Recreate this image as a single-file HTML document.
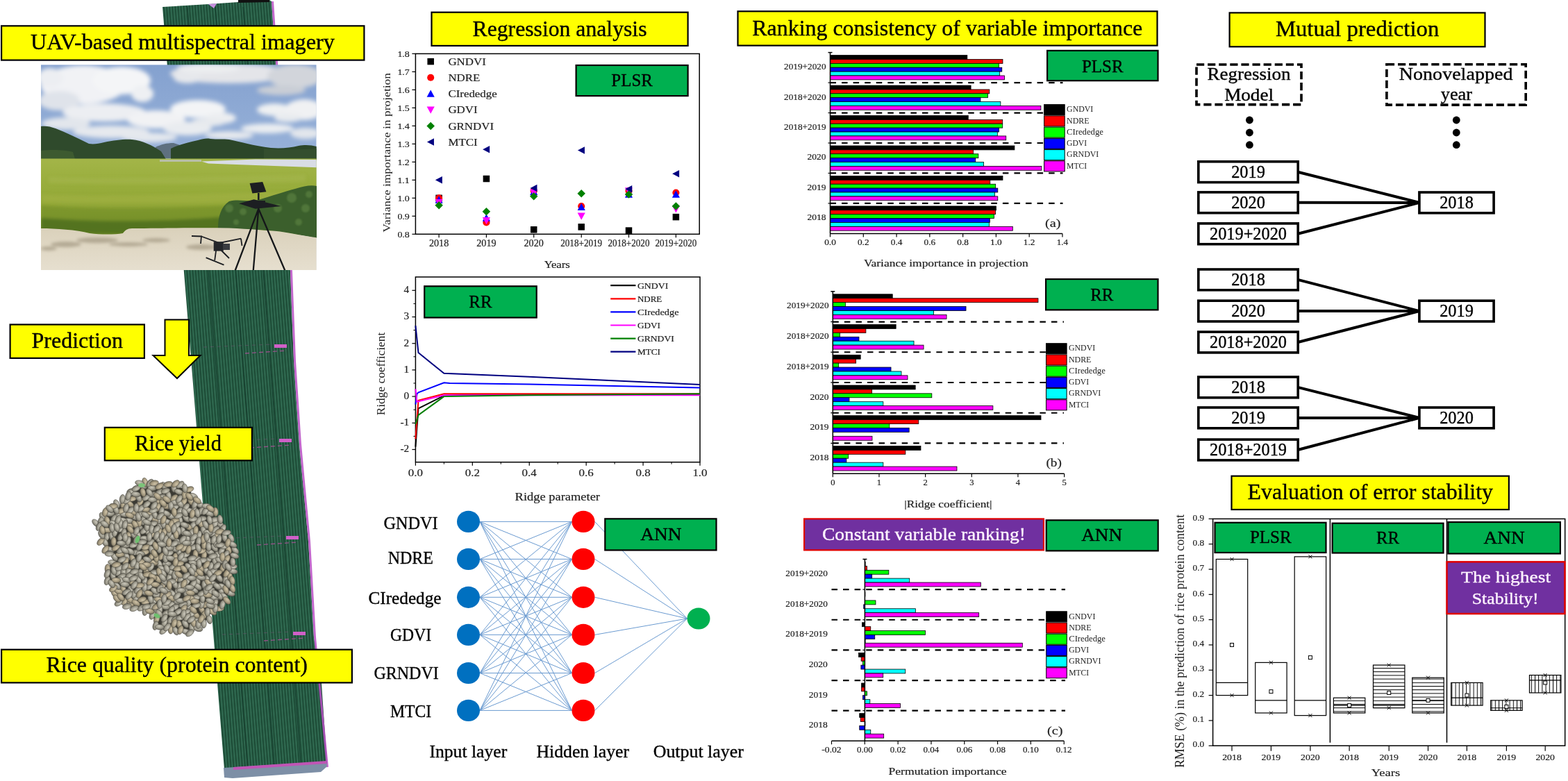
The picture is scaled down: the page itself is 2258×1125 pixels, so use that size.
<!DOCTYPE html><html><head><meta charset="utf-8"><title>Graphical abstract</title><style>html,body{margin:0;padding:0;background:#fff;overflow:hidden;width:2258px;height:1125px;}svg{display:block;}</style></head><body><svg width="2258" height="1125" viewBox="0 0 2258 1125" font-family="'Liberation Serif', serif">
<rect width="2258" height="1125" fill="#fff"/>
<defs><pattern id="rows" width="4.1" height="8" patternUnits="userSpaceOnUse" patternTransform="rotate(-4.4)"><rect width="4.1" height="8" fill="#265e45"/><rect width="1.4" height="8" fill="#1c4834"/><rect x="2.3" width="0.9" height="8" fill="#37735a"/></pattern></defs>
<polygon points="234,10 300,6 343,3 343,0 388,0 391,2 397,90 418,391 423,520 431,640 444,780 452,918 463,985 471,1100 323,1108" fill="url(#rows)"/>
<g stroke="#143a2b" stroke-width="1.2" opacity="0.8">
<line x1="270" y1="10" x2="357" y2="1112"/>
<line x1="310" y1="10" x2="396" y2="1112"/>
<line x1="350" y1="10" x2="434" y2="1112"/>
</g>
<polygon points="343,0 388,0 388,3 343,4" fill="#111"/>
<polygon points="300,6 312,5 308,12" fill="#c890e0"/>
<polyline points="391,2 397,90 418,391 423,520 431,640 444,780 452,918 470,1105" fill="none" stroke="#b84cc4" stroke-width="3" opacity="0.85" transform="translate(1.5,0)"/>
<line x1="353" y1="509" x2="413" y2="505" stroke="#b0509a" stroke-width="1.3" stroke-dasharray="6 4" opacity="0.8"/>
<line x1="293" y1="500" x2="393" y2="496" stroke="#8a5080" stroke-width="0.8" stroke-dasharray="5 5" opacity="0.5"/>
<rect x="395" y="496" width="18" height="5" fill="#d060c8"/>
<line x1="360" y1="645" x2="420" y2="641" stroke="#b0509a" stroke-width="1.3" stroke-dasharray="6 4" opacity="0.8"/>
<line x1="300" y1="636" x2="400" y2="632" stroke="#8a5080" stroke-width="0.8" stroke-dasharray="5 5" opacity="0.5"/>
<rect x="402" y="632" width="18" height="5" fill="#d060c8"/>
<line x1="370" y1="785" x2="430" y2="781" stroke="#b0509a" stroke-width="1.3" stroke-dasharray="6 4" opacity="0.8"/>
<line x1="310" y1="776" x2="410" y2="772" stroke="#8a5080" stroke-width="0.8" stroke-dasharray="5 5" opacity="0.5"/>
<rect x="412" y="772" width="18" height="5" fill="#d060c8"/>
<line x1="380" y1="923" x2="440" y2="919" stroke="#b0509a" stroke-width="1.3" stroke-dasharray="6 4" opacity="0.8"/>
<line x1="320" y1="914" x2="420" y2="910" stroke="#8a5080" stroke-width="0.8" stroke-dasharray="5 5" opacity="0.5"/>
<rect x="422" y="910" width="18" height="5" fill="#d060c8"/>
<path d="M322,1106 L470,1097 L471,1104 L462,1112 L335,1121 L323,1120 Z" fill="#7d8fa6"/>
<path d="M336,1105 L470,1096 L470,1100 L336,1109 Z" fill="#c055b5"/>
<defs><linearGradient id="sky" x1="0" y1="0" x2="0" y2="1"><stop offset="0" stop-color="#84a1cf"/><stop offset="0.45" stop-color="#98b2d9"/><stop offset="0.8" stop-color="#c0cee4"/><stop offset="1" stop-color="#d4dce9"/></linearGradient><linearGradient id="field" x1="0" y1="0" x2="0" y2="1"><stop offset="0" stop-color="#a3b548"/><stop offset="0.35" stop-color="#98ad3c"/><stop offset="0.7" stop-color="#8ea434"/><stop offset="1" stop-color="#6e8a26"/></linearGradient><linearGradient id="sand" x1="0" y1="0" x2="0" y2="1"><stop offset="0" stop-color="#dad1bb"/><stop offset="1" stop-color="#e6dfcf"/></linearGradient><filter id="blur3" x="-20%" y="-50%" width="140%" height="200%"><feGaussianBlur stdDeviation="3"/></filter><filter id="blur2" x="-20%" y="-50%" width="140%" height="200%"><feGaussianBlur stdDeviation="2"/></filter><filter id="blur1"><feGaussianBlur stdDeviation="0.8"/></filter><clipPath id="phclip"><rect x="59" y="93.2" width="396.7" height="295.8"/></clipPath></defs>
<g clip-path="url(#phclip)">
<rect x="59" y="93.2" width="396.7" height="295.8" fill="url(#sky)"/>
<g filter="url(#blur3)">
<ellipse cx="120" cy="122" rx="62" ry="28" fill="#f1f2f5"/>
<ellipse cx="72" cy="112" rx="18" ry="14" fill="#eceef2"/>
<ellipse cx="175" cy="116" rx="42" ry="20" fill="#f4f5f7"/>
<ellipse cx="205" cy="135" rx="16" ry="12" fill="#eef0f3"/>
<ellipse cx="85" cy="145" rx="30" ry="14" fill="#dfe3ea"/>
<ellipse cx="150" cy="162" rx="60" ry="13" fill="#eceef2"/>
<ellipse cx="225" cy="172" rx="42" ry="13" fill="#f1f2f4"/>
<ellipse cx="270" cy="185" rx="35" ry="10" fill="#e9ecf0"/>
<ellipse cx="95" cy="178" rx="35" ry="9" fill="#e2e6ec"/>
<ellipse cx="160" cy="190" rx="55" ry="9" fill="#e6e9ee"/>
<ellipse cx="215" cy="198" rx="40" ry="7" fill="#e4e8ee"/>
<ellipse cx="330" cy="106" rx="85" ry="14" fill="#e4e5e9"/>
<ellipse cx="425" cy="110" rx="40" ry="17" fill="#d2d5db"/>
<ellipse cx="300" cy="98" rx="45" ry="7" fill="#eceef0"/>
<ellipse cx="405" cy="130" rx="35" ry="7" fill="#c9ced6"/>
<ellipse cx="270" cy="112" rx="20" ry="8" fill="#e6e8ec"/>
<ellipse cx="285" cy="157" rx="40" ry="13" fill="#f3f4f6"/>
<ellipse cx="318" cy="170" rx="22" ry="8" fill="#eceef1"/>
<ellipse cx="300" cy="176" rx="25" ry="6" fill="#e7eaee"/>
<ellipse cx="395" cy="158" rx="25" ry="9" fill="#eef0f2"/>
<ellipse cx="438" cy="158" rx="28" ry="15" fill="#f0f1f3"/>
<ellipse cx="415" cy="170" rx="20" ry="6" fill="#e8ebef"/>
<ellipse cx="385" cy="185" rx="38" ry="7" fill="#eaedf1"/>
<ellipse cx="440" cy="192" rx="22" ry="8" fill="#e2e6ec"/>
<ellipse cx="330" cy="195" rx="35" ry="6" fill="#e6e9ee"/>
</g>
<path d="M224,212 C232,208 240,206 250,206 L262,210 L262,228 L224,228 Z" fill="#5e7080"/>
<path d="M59,182 C66,181 72,182 80,185 C95,191 112,199 128,207 C135,208 142,207 150,205 C165,202 180,200 190,201 C205,202 220,210 232,218 L240,231 L59,231 Z" fill="#2f4a2c"/>
<path d="M246,214 C258,208 272,205 285,202 C292,200 297,199 303,200 C312,201 322,200 330,201 C345,204 365,210 390,213 C405,214 418,213 430,210 C440,208 448,209 456,211 L456,232 L246,232 Z" fill="#2c4629"/>
<path d="M380,214 C400,216 420,216 456,214 L456,232 L380,232 Z" fill="#37502f" opacity="0.8"/>
<path d="M59,217 C75,215 95,216 105,219 L108,229 L59,230 Z" fill="#3d5a30"/>
<rect x="59" y="228.5" width="397" height="110" fill="url(#field)"/>
<path d="M290,232.4 L368,229.5 L456,230 L456,241.3 L300,235.4 Z" fill="#d9dde5"/>
<path d="M230,230 L290,230 L290,233 L230,233 Z" fill="#b9bfa8"/>
<g filter="url(#blur2)">
<path d="M59,296 C120,300 200,302 330,296 L330,336 L59,333 Z" fill="#6f8c24" opacity="0.6"/>
<path d="M59,314 C120,318 200,322 330,312 L330,338 L59,336 Z" fill="#4a6a1c" opacity="0.75"/>
<path d="M70,255 C150,258 250,255 440,252 L440,262 C250,266 150,266 70,264 Z" fill="#b0bd58" opacity="0.3"/>
<path d="M60,280 C150,284 250,280 456,276 L456,290 C250,294 150,294 60,292 Z" fill="#a9b64a" opacity="0.4"/>
</g>
<path d="M314,329 C314,312 318,298 330,290 C345,286 360,292 372,288 C392,282 410,276 425,272 C438,268 448,266 456,268 L456,343 C440,340 425,337 405,334 C380,331 350,330 314,329 Z" fill="#3b5f2c"/>
<g filter="url(#blur1)" fill="#5a8040" opacity="0.7">
<circle cx="330" cy="300" r="6"/>
<circle cx="350" cy="305" r="5"/>
<circle cx="420" cy="285" r="7"/>
<circle cx="440" cy="300" r="6"/>
<circle cx="445" cy="280" r="5"/>
<circle cx="400" cy="300" r="6"/>
<circle cx="430" cy="320" r="5"/>
<circle cx="340" cy="320" r="4"/>
</g>
<path d="M59,329 C80,329 110,331 129,336 C145,338 165,338 177,336 C180,332 183,329 190,329 C250,328.5 290,328 330,328.5 C360,330 385,332 403,333.4 C425,337 440,340 456,342.3 L456,389 L59,389 Z" fill="url(#sand)"/>
<g filter="url(#blur2)" fill="#8a7f68" opacity="0.5">
<ellipse cx="95" cy="352" rx="22" ry="4"/><ellipse cx="140" cy="346" rx="30" ry="4"/><ellipse cx="185" cy="352" rx="28" ry="3"/>
<ellipse cx="225" cy="346" rx="20" ry="3"/><ellipse cx="290" cy="356" rx="22" ry="4"/><ellipse cx="70" cy="358" rx="12" ry="3"/>
</g>
<g fill="#1c1e22" stroke="none">
<polygon points="359.6,263.9 378.2,262.1 383.4,276.2 363.4,278.4"/>
<rect x="371" y="278" width="2.6" height="10"/>
<polygon points="344.1,293.3 365.6,287.3 404.9,297 367.8,300.7"/>
<rect x="362" y="289" width="20" height="6"/>
</g>
<g stroke="#15171a" stroke-width="2.3" fill="none" stroke-linecap="round">
<path d="M372.3,300.7 L338.9,389 M372.3,300.7 L364.8,389 M372.3,300.7 L410.1,389"/>
</g>
<g stroke="#1c1e22" fill="none" stroke-width="1.8">
<path d="M276,340 L291,340.5 M290,340.5 L316,350 L347,343.7 M347,343.7 L348.5,354 M290,340 L289,351"/>
<path d="M296.6,371.2 L322.5,381.6 M311.4,358.6 L309.2,374.9 M318,360 L330,372"/>
</g>
<rect x="307.7" y="348.2" width="14.1" height="13.4" fill="#24262a"/>
<rect x="321" y="351" width="10" height="9" fill="#3a3c40"/>
</g>
<defs><radialGradient id="grain" cx="0.45" cy="0.35" r="0.7"><stop offset="0" stop-color="#cbc8bb"/><stop offset="0.55" stop-color="#9c998b"/><stop offset="1" stop-color="#5c5a52"/></radialGradient><radialGradient id="grain2" cx="0.45" cy="0.35" r="0.7"><stop offset="0" stop-color="#cfc3a8"/><stop offset="0.55" stop-color="#a59a80"/><stop offset="1" stop-color="#655f50"/></radialGradient></defs>
<path d="M199.9,700.8 L216.2,698.3 L235.2,702.1 L248.4,700.8 L263.7,703.0 L273.8,707.0 L284.3,726.0 L297.0,731.5 L307.5,740.9 L316.0,755.6 L328.6,774.6 L337.1,787.3 L332.9,804.1 L332.9,823.1 L331.8,850.6 L322.3,865.4 L305.4,880.1 L294.9,897.0 L273.8,907.6 L263.2,907.6 L240.0,904.4 L227.3,901.3 L218.9,886.5 L206.2,875.9 L189.3,871.8 L174.5,865.4 L166.1,850.6 L155.5,831.6 L155.5,818.9 L164.0,804.1 L151.3,787.3 L142.9,764.0 L142.9,753.5 L155.5,740.9 L174.5,726.0 L189.3,713.4 Z" fill="#3b3a33"/>
<g>
<ellipse cx="201.9" cy="723.3" rx="6.6" ry="3.9" fill="url(#grain2)" stroke="#4a4840" stroke-width="0.5" transform="rotate(127 201.9 723.3)"/>
<ellipse cx="272.6" cy="705.0" rx="6.6" ry="3.9" fill="url(#grain2)" stroke="#4a4840" stroke-width="0.5" transform="rotate(161 272.6 705.0)"/>
<ellipse cx="247.8" cy="773.6" rx="6.6" ry="3.9" fill="url(#grain)" stroke="#4a4840" stroke-width="0.5" transform="rotate(26 247.8 773.6)"/>
<ellipse cx="223.7" cy="881.5" rx="6.6" ry="3.9" fill="url(#grain)" stroke="#4a4840" stroke-width="0.5" transform="rotate(127 223.7 881.5)"/>
<ellipse cx="158.7" cy="740.2" rx="6.6" ry="3.9" fill="url(#grain)" stroke="#4a4840" stroke-width="0.5" transform="rotate(0 158.7 740.2)"/>
<ellipse cx="267.5" cy="909.8" rx="6.6" ry="3.9" fill="url(#grain)" stroke="#4a4840" stroke-width="0.5" transform="rotate(19 267.5 909.8)"/>
<ellipse cx="256.7" cy="780.8" rx="6.6" ry="3.9" fill="url(#grain)" stroke="#4a4840" stroke-width="0.5" transform="rotate(31 256.7 780.8)"/>
<ellipse cx="317.4" cy="755.8" rx="6.6" ry="3.9" fill="url(#grain)" stroke="#4a4840" stroke-width="0.5" transform="rotate(40 317.4 755.8)"/>
<ellipse cx="171.0" cy="824.1" rx="6.6" ry="3.9" fill="url(#grain)" stroke="#4a4840" stroke-width="0.5" transform="rotate(134 171.0 824.1)"/>
<ellipse cx="270.0" cy="775.1" rx="6.6" ry="3.9" fill="url(#grain)" stroke="#4a4840" stroke-width="0.5" transform="rotate(72 270.0 775.1)"/>
<ellipse cx="250.3" cy="702.7" rx="6.6" ry="3.9" fill="url(#grain)" stroke="#4a4840" stroke-width="0.5" transform="rotate(83 250.3 702.7)"/>
<ellipse cx="279.0" cy="788.1" rx="6.6" ry="3.9" fill="url(#grain)" stroke="#4a4840" stroke-width="0.5" transform="rotate(160 279.0 788.1)"/>
<ellipse cx="199.9" cy="825.0" rx="6.6" ry="3.9" fill="url(#grain)" stroke="#4a4840" stroke-width="0.5" transform="rotate(134 199.9 825.0)"/>
<ellipse cx="229.9" cy="758.1" rx="6.6" ry="3.9" fill="url(#grain)" stroke="#4a4840" stroke-width="0.5" transform="rotate(79 229.9 758.1)"/>
<ellipse cx="303.6" cy="851.6" rx="6.6" ry="3.9" fill="url(#grain)" stroke="#4a4840" stroke-width="0.5" transform="rotate(141 303.6 851.6)"/>
<ellipse cx="184.7" cy="822.4" rx="6.6" ry="3.9" fill="url(#grain)" stroke="#4a4840" stroke-width="0.5" transform="rotate(119 184.7 822.4)"/>
<ellipse cx="245.4" cy="892.8" rx="6.6" ry="3.9" fill="url(#grain)" stroke="#4a4840" stroke-width="0.5" transform="rotate(122 245.4 892.8)"/>
<ellipse cx="289.6" cy="755.4" rx="6.6" ry="3.9" fill="url(#grain2)" stroke="#4a4840" stroke-width="0.5" transform="rotate(51 289.6 755.4)"/>
<ellipse cx="222.3" cy="865.2" rx="6.6" ry="3.9" fill="url(#grain)" stroke="#4a4840" stroke-width="0.5" transform="rotate(125 222.3 865.2)"/>
<ellipse cx="164.8" cy="802.4" rx="6.6" ry="3.9" fill="url(#grain)" stroke="#4a4840" stroke-width="0.5" transform="rotate(54 164.8 802.4)"/>
<ellipse cx="297.1" cy="822.1" rx="6.6" ry="3.9" fill="url(#grain)" stroke="#4a4840" stroke-width="0.5" transform="rotate(54 297.1 822.1)"/>
<ellipse cx="321.1" cy="761.4" rx="6.6" ry="3.9" fill="url(#grain)" stroke="#4a4840" stroke-width="0.5" transform="rotate(116 321.1 761.4)"/>
<ellipse cx="282.2" cy="827.1" rx="6.6" ry="3.9" fill="url(#grain2)" stroke="#4a4840" stroke-width="0.5" transform="rotate(5 282.2 827.1)"/>
<ellipse cx="257.3" cy="794.8" rx="6.6" ry="3.9" fill="url(#grain)" stroke="#4a4840" stroke-width="0.5" transform="rotate(64 257.3 794.8)"/>
<ellipse cx="234.4" cy="843.4" rx="6.6" ry="3.9" fill="url(#grain2)" stroke="#4a4840" stroke-width="0.5" transform="rotate(114 234.4 843.4)"/>
<ellipse cx="309.5" cy="754.6" rx="6.6" ry="3.9" fill="url(#grain)" stroke="#4a4840" stroke-width="0.5" transform="rotate(118 309.5 754.6)"/>
<ellipse cx="215.3" cy="844.5" rx="6.6" ry="3.9" fill="url(#grain)" stroke="#4a4840" stroke-width="0.5" transform="rotate(137 215.3 844.5)"/>
<ellipse cx="192.1" cy="785.2" rx="6.6" ry="3.9" fill="url(#grain)" stroke="#4a4840" stroke-width="0.5" transform="rotate(167 192.1 785.2)"/>
<ellipse cx="170.1" cy="742.3" rx="6.6" ry="3.9" fill="url(#grain)" stroke="#4a4840" stroke-width="0.5" transform="rotate(64 170.1 742.3)"/>
<ellipse cx="182.4" cy="801.5" rx="6.6" ry="3.9" fill="url(#grain)" stroke="#4a4840" stroke-width="0.5" transform="rotate(54 182.4 801.5)"/>
<ellipse cx="259.3" cy="749.5" rx="6.6" ry="3.9" fill="url(#grain)" stroke="#4a4840" stroke-width="0.5" transform="rotate(80 259.3 749.5)"/>
<ellipse cx="211.8" cy="820.5" rx="6.6" ry="3.9" fill="url(#grain2)" stroke="#4a4840" stroke-width="0.5" transform="rotate(133 211.8 820.5)"/>
<ellipse cx="243.3" cy="832.5" rx="6.6" ry="3.9" fill="url(#grain)" stroke="#4a4840" stroke-width="0.5" transform="rotate(104 243.3 832.5)"/>
<ellipse cx="216.8" cy="781.4" rx="6.6" ry="3.9" fill="url(#grain)" stroke="#4a4840" stroke-width="0.5" transform="rotate(144 216.8 781.4)"/>
<ellipse cx="154.4" cy="836.4" rx="6.6" ry="3.9" fill="url(#grain)" stroke="#4a4840" stroke-width="0.5" transform="rotate(110 154.4 836.4)"/>
<ellipse cx="177.1" cy="726.0" rx="6.6" ry="3.9" fill="url(#grain2)" stroke="#4a4840" stroke-width="0.5" transform="rotate(100 177.1 726.0)"/>
<ellipse cx="205.5" cy="700.3" rx="6.6" ry="3.9" fill="url(#grain)" stroke="#4a4840" stroke-width="0.5" transform="rotate(22 205.5 700.3)"/>
<ellipse cx="153.9" cy="773.1" rx="6.6" ry="3.9" fill="url(#grain)" stroke="#4a4840" stroke-width="0.5" transform="rotate(109 153.9 773.1)"/>
<ellipse cx="264.6" cy="722.8" rx="6.6" ry="3.9" fill="url(#grain2)" stroke="#4a4840" stroke-width="0.5" transform="rotate(126 264.6 722.8)"/>
<ellipse cx="186.5" cy="769.3" rx="6.6" ry="3.9" fill="url(#grain2)" stroke="#4a4840" stroke-width="0.5" transform="rotate(170 186.5 769.3)"/>
<ellipse cx="210.7" cy="716.7" rx="6.6" ry="3.9" fill="url(#grain)" stroke="#4a4840" stroke-width="0.5" transform="rotate(150 210.7 716.7)"/>
<ellipse cx="232.7" cy="801.2" rx="6.6" ry="3.9" fill="url(#grain2)" stroke="#4a4840" stroke-width="0.5" transform="rotate(129 232.7 801.2)"/>
<ellipse cx="206.0" cy="750.0" rx="6.6" ry="3.9" fill="url(#grain)" stroke="#4a4840" stroke-width="0.5" transform="rotate(95 206.0 750.0)"/>
<ellipse cx="246.1" cy="722.3" rx="6.6" ry="3.9" fill="url(#grain)" stroke="#4a4840" stroke-width="0.5" transform="rotate(68 246.1 722.3)"/>
<ellipse cx="318.5" cy="850.9" rx="6.6" ry="3.9" fill="url(#grain)" stroke="#4a4840" stroke-width="0.5" transform="rotate(73 318.5 850.9)"/>
<ellipse cx="247.0" cy="870.3" rx="6.6" ry="3.9" fill="url(#grain)" stroke="#4a4840" stroke-width="0.5" transform="rotate(146 247.0 870.3)"/>
<ellipse cx="203.2" cy="740.2" rx="6.6" ry="3.9" fill="url(#grain)" stroke="#4a4840" stroke-width="0.5" transform="rotate(175 203.2 740.2)"/>
<ellipse cx="316.2" cy="876.6" rx="6.6" ry="3.9" fill="url(#grain2)" stroke="#4a4840" stroke-width="0.5" transform="rotate(173 316.2 876.6)"/>
<ellipse cx="308.8" cy="861.1" rx="6.6" ry="3.9" fill="url(#grain)" stroke="#4a4840" stroke-width="0.5" transform="rotate(18 308.8 861.1)"/>
<ellipse cx="181.0" cy="809.1" rx="6.6" ry="3.9" fill="url(#grain2)" stroke="#4a4840" stroke-width="0.5" transform="rotate(113 181.0 809.1)"/>
<ellipse cx="208.8" cy="694.8" rx="6.6" ry="3.9" fill="url(#grain2)" stroke="#4a4840" stroke-width="0.5" transform="rotate(75 208.8 694.8)"/>
<ellipse cx="138.0" cy="753.4" rx="6.6" ry="3.9" fill="url(#grain)" stroke="#4a4840" stroke-width="0.5" transform="rotate(45 138.0 753.4)"/>
<ellipse cx="188.0" cy="850.1" rx="6.6" ry="3.9" fill="url(#grain)" stroke="#4a4840" stroke-width="0.5" transform="rotate(73 188.0 850.1)"/>
<ellipse cx="338.6" cy="792.7" rx="6.6" ry="3.9" fill="url(#grain)" stroke="#4a4840" stroke-width="0.5" transform="rotate(48 338.6 792.7)"/>
<ellipse cx="179.6" cy="741.1" rx="6.6" ry="3.9" fill="url(#grain)" stroke="#4a4840" stroke-width="0.5" transform="rotate(5 179.6 741.1)"/>
<ellipse cx="174.5" cy="735.8" rx="6.6" ry="3.9" fill="url(#grain2)" stroke="#4a4840" stroke-width="0.5" transform="rotate(157 174.5 735.8)"/>
<ellipse cx="266.8" cy="898.7" rx="6.6" ry="3.9" fill="url(#grain)" stroke="#4a4840" stroke-width="0.5" transform="rotate(55 266.8 898.7)"/>
<ellipse cx="313.5" cy="800.2" rx="6.6" ry="3.9" fill="url(#grain)" stroke="#4a4840" stroke-width="0.5" transform="rotate(73 313.5 800.2)"/>
<ellipse cx="273.0" cy="875.1" rx="6.6" ry="3.9" fill="url(#grain)" stroke="#4a4840" stroke-width="0.5" transform="rotate(43 273.0 875.1)"/>
<ellipse cx="294.0" cy="799.9" rx="6.6" ry="3.9" fill="url(#grain2)" stroke="#4a4840" stroke-width="0.5" transform="rotate(100 294.0 799.9)"/>
<ellipse cx="203.8" cy="875.4" rx="6.6" ry="3.9" fill="url(#grain)" stroke="#4a4840" stroke-width="0.5" transform="rotate(149 203.8 875.4)"/>
<ellipse cx="288.6" cy="727.8" rx="6.6" ry="3.9" fill="url(#grain)" stroke="#4a4840" stroke-width="0.5" transform="rotate(22 288.6 727.8)"/>
<ellipse cx="245.7" cy="906.5" rx="6.6" ry="3.9" fill="url(#grain2)" stroke="#4a4840" stroke-width="0.5" transform="rotate(89 245.7 906.5)"/>
<ellipse cx="225.7" cy="892.0" rx="6.6" ry="3.9" fill="url(#grain2)" stroke="#4a4840" stroke-width="0.5" transform="rotate(112 225.7 892.0)"/>
<ellipse cx="310.4" cy="737.4" rx="6.6" ry="3.9" fill="url(#grain2)" stroke="#4a4840" stroke-width="0.5" transform="rotate(85 310.4 737.4)"/>
<ellipse cx="186.4" cy="756.6" rx="6.6" ry="3.9" fill="url(#grain2)" stroke="#4a4840" stroke-width="0.5" transform="rotate(32 186.4 756.6)"/>
<ellipse cx="208.4" cy="795.2" rx="6.6" ry="3.9" fill="url(#grain2)" stroke="#4a4840" stroke-width="0.5" transform="rotate(171 208.4 795.2)"/>
<ellipse cx="258.0" cy="899.6" rx="6.6" ry="3.9" fill="url(#grain2)" stroke="#4a4840" stroke-width="0.5" transform="rotate(74 258.0 899.6)"/>
<ellipse cx="240.4" cy="812.4" rx="6.6" ry="3.9" fill="url(#grain)" stroke="#4a4840" stroke-width="0.5" transform="rotate(2 240.4 812.4)"/>
<ellipse cx="227.1" cy="730.8" rx="6.6" ry="3.9" fill="url(#grain2)" stroke="#4a4840" stroke-width="0.5" transform="rotate(111 227.1 730.8)"/>
<ellipse cx="288.6" cy="818.2" rx="6.6" ry="3.9" fill="url(#grain2)" stroke="#4a4840" stroke-width="0.5" transform="rotate(50 288.6 818.2)"/>
<ellipse cx="202.4" cy="809.3" rx="6.6" ry="3.9" fill="url(#grain2)" stroke="#4a4840" stroke-width="0.5" transform="rotate(164 202.4 809.3)"/>
<ellipse cx="154.9" cy="819.1" rx="6.6" ry="3.9" fill="url(#grain2)" stroke="#4a4840" stroke-width="0.5" transform="rotate(92 154.9 819.1)"/>
<ellipse cx="298.8" cy="806.8" rx="6.6" ry="3.9" fill="url(#grain)" stroke="#4a4840" stroke-width="0.5" transform="rotate(157 298.8 806.8)"/>
<ellipse cx="253.3" cy="865.8" rx="6.6" ry="3.9" fill="url(#grain)" stroke="#4a4840" stroke-width="0.5" transform="rotate(42 253.3 865.8)"/>
<ellipse cx="329.1" cy="791.7" rx="6.6" ry="3.9" fill="url(#grain2)" stroke="#4a4840" stroke-width="0.5" transform="rotate(66 329.1 791.7)"/>
<ellipse cx="264.3" cy="806.3" rx="6.6" ry="3.9" fill="url(#grain)" stroke="#4a4840" stroke-width="0.5" transform="rotate(1 264.3 806.3)"/>
<ellipse cx="242.6" cy="850.1" rx="6.6" ry="3.9" fill="url(#grain)" stroke="#4a4840" stroke-width="0.5" transform="rotate(32 242.6 850.1)"/>
<ellipse cx="229.7" cy="812.8" rx="6.6" ry="3.9" fill="url(#grain)" stroke="#4a4840" stroke-width="0.5" transform="rotate(67 229.7 812.8)"/>
<ellipse cx="235.3" cy="908.3" rx="6.6" ry="3.9" fill="url(#grain)" stroke="#4a4840" stroke-width="0.5" transform="rotate(137 235.3 908.3)"/>
<ellipse cx="283.0" cy="893.1" rx="6.6" ry="3.9" fill="url(#grain)" stroke="#4a4840" stroke-width="0.5" transform="rotate(124 283.0 893.1)"/>
<ellipse cx="252.9" cy="908.7" rx="6.6" ry="3.9" fill="url(#grain)" stroke="#4a4840" stroke-width="0.5" transform="rotate(63 252.9 908.7)"/>
<ellipse cx="158.3" cy="791.5" rx="6.6" ry="3.9" fill="url(#grain)" stroke="#4a4840" stroke-width="0.5" transform="rotate(26 158.3 791.5)"/>
<ellipse cx="147.7" cy="744.3" rx="6.6" ry="3.9" fill="url(#grain)" stroke="#4a4840" stroke-width="0.5" transform="rotate(63 147.7 744.3)"/>
<ellipse cx="165.4" cy="855.6" rx="6.6" ry="3.9" fill="url(#grain2)" stroke="#4a4840" stroke-width="0.5" transform="rotate(50 165.4 855.6)"/>
<ellipse cx="274.6" cy="721.5" rx="6.6" ry="3.9" fill="url(#grain2)" stroke="#4a4840" stroke-width="0.5" transform="rotate(68 274.6 721.5)"/>
<ellipse cx="218.0" cy="802.0" rx="6.6" ry="3.9" fill="url(#grain2)" stroke="#4a4840" stroke-width="0.5" transform="rotate(126 218.0 802.0)"/>
<ellipse cx="166.9" cy="789.0" rx="6.6" ry="3.9" fill="url(#grain2)" stroke="#4a4840" stroke-width="0.5" transform="rotate(149 166.9 789.0)"/>
<ellipse cx="243.4" cy="767.4" rx="6.6" ry="3.9" fill="url(#grain)" stroke="#4a4840" stroke-width="0.5" transform="rotate(92 243.4 767.4)"/>
<ellipse cx="174.3" cy="762.5" rx="6.6" ry="3.9" fill="url(#grain)" stroke="#4a4840" stroke-width="0.5" transform="rotate(171 174.3 762.5)"/>
<ellipse cx="251.7" cy="791.1" rx="6.6" ry="3.9" fill="url(#grain)" stroke="#4a4840" stroke-width="0.5" transform="rotate(19 251.7 791.1)"/>
<ellipse cx="154.6" cy="750.1" rx="6.6" ry="3.9" fill="url(#grain2)" stroke="#4a4840" stroke-width="0.5" transform="rotate(72 154.6 750.1)"/>
<ellipse cx="190.4" cy="718.3" rx="6.6" ry="3.9" fill="url(#grain2)" stroke="#4a4840" stroke-width="0.5" transform="rotate(168 190.4 718.3)"/>
<ellipse cx="308.9" cy="748.5" rx="6.6" ry="3.9" fill="url(#grain)" stroke="#4a4840" stroke-width="0.5" transform="rotate(168 308.9 748.5)"/>
<ellipse cx="255.2" cy="851.9" rx="6.6" ry="3.9" fill="url(#grain)" stroke="#4a4840" stroke-width="0.5" transform="rotate(99 255.2 851.9)"/>
<ellipse cx="230.0" cy="767.4" rx="6.6" ry="3.9" fill="url(#grain2)" stroke="#4a4840" stroke-width="0.5" transform="rotate(99 230.0 767.4)"/>
<ellipse cx="245.8" cy="743.8" rx="6.6" ry="3.9" fill="url(#grain)" stroke="#4a4840" stroke-width="0.5" transform="rotate(29 245.8 743.8)"/>
<ellipse cx="199.4" cy="759.4" rx="6.6" ry="3.9" fill="url(#grain)" stroke="#4a4840" stroke-width="0.5" transform="rotate(14 199.4 759.4)"/>
<ellipse cx="296.1" cy="755.9" rx="6.6" ry="3.9" fill="url(#grain)" stroke="#4a4840" stroke-width="0.5" transform="rotate(62 296.1 755.9)"/>
<ellipse cx="240.0" cy="729.6" rx="6.6" ry="3.9" fill="url(#grain2)" stroke="#4a4840" stroke-width="0.5" transform="rotate(5 240.0 729.6)"/>
<ellipse cx="172.9" cy="799.1" rx="6.6" ry="3.9" fill="url(#grain2)" stroke="#4a4840" stroke-width="0.5" transform="rotate(2 172.9 799.1)"/>
<ellipse cx="308.9" cy="789.1" rx="6.6" ry="3.9" fill="url(#grain)" stroke="#4a4840" stroke-width="0.5" transform="rotate(53 308.9 789.1)"/>
<ellipse cx="238.9" cy="883.3" rx="6.6" ry="3.9" fill="url(#grain)" stroke="#4a4840" stroke-width="0.5" transform="rotate(146 238.9 883.3)"/>
<ellipse cx="284.7" cy="836.8" rx="6.6" ry="3.9" fill="url(#grain)" stroke="#4a4840" stroke-width="0.5" transform="rotate(83 284.7 836.8)"/>
<ellipse cx="219.4" cy="769.3" rx="6.6" ry="3.9" fill="url(#grain2)" stroke="#4a4840" stroke-width="0.5" transform="rotate(134 219.4 769.3)"/>
<ellipse cx="187.2" cy="726.2" rx="6.6" ry="3.9" fill="url(#grain2)" stroke="#4a4840" stroke-width="0.5" transform="rotate(38 187.2 726.2)"/>
<ellipse cx="320.0" cy="844.9" rx="6.6" ry="3.9" fill="url(#grain)" stroke="#4a4840" stroke-width="0.5" transform="rotate(27 320.0 844.9)"/>
<ellipse cx="192.9" cy="744.7" rx="6.6" ry="3.9" fill="url(#grain)" stroke="#4a4840" stroke-width="0.5" transform="rotate(30 192.9 744.7)"/>
<ellipse cx="195.3" cy="795.5" rx="6.6" ry="3.9" fill="url(#grain)" stroke="#4a4840" stroke-width="0.5" transform="rotate(168 195.3 795.5)"/>
<ellipse cx="198.9" cy="771.4" rx="6.6" ry="3.9" fill="url(#grain)" stroke="#4a4840" stroke-width="0.5" transform="rotate(79 198.9 771.4)"/>
<ellipse cx="175.4" cy="806.1" rx="6.6" ry="3.9" fill="url(#grain)" stroke="#4a4840" stroke-width="0.5" transform="rotate(153 175.4 806.1)"/>
<ellipse cx="151.4" cy="781.5" rx="6.6" ry="3.9" fill="url(#grain)" stroke="#4a4840" stroke-width="0.5" transform="rotate(60 151.4 781.5)"/>
<ellipse cx="258.5" cy="811.8" rx="6.6" ry="3.9" fill="url(#grain2)" stroke="#4a4840" stroke-width="0.5" transform="rotate(169 258.5 811.8)"/>
<ellipse cx="294.1" cy="841.9" rx="6.6" ry="3.9" fill="url(#grain)" stroke="#4a4840" stroke-width="0.5" transform="rotate(90 294.1 841.9)"/>
<ellipse cx="324.7" cy="834.8" rx="6.6" ry="3.9" fill="url(#grain)" stroke="#4a4840" stroke-width="0.5" transform="rotate(106 324.7 834.8)"/>
<ellipse cx="290.5" cy="878.1" rx="6.6" ry="3.9" fill="url(#grain2)" stroke="#4a4840" stroke-width="0.5" transform="rotate(64 290.5 878.1)"/>
<ellipse cx="162.1" cy="810.6" rx="6.6" ry="3.9" fill="url(#grain)" stroke="#4a4840" stroke-width="0.5" transform="rotate(12 162.1 810.6)"/>
<ellipse cx="305.8" cy="881.4" rx="6.6" ry="3.9" fill="url(#grain2)" stroke="#4a4840" stroke-width="0.5" transform="rotate(32 305.8 881.4)"/>
<ellipse cx="279.5" cy="850.2" rx="6.6" ry="3.9" fill="url(#grain)" stroke="#4a4840" stroke-width="0.5" transform="rotate(28 279.5 850.2)"/>
<ellipse cx="160.7" cy="772.4" rx="6.6" ry="3.9" fill="url(#grain)" stroke="#4a4840" stroke-width="0.5" transform="rotate(74 160.7 772.4)"/>
<ellipse cx="252.6" cy="834.9" rx="6.6" ry="3.9" fill="url(#grain2)" stroke="#4a4840" stroke-width="0.5" transform="rotate(124 252.6 834.9)"/>
<ellipse cx="267.3" cy="847.3" rx="6.6" ry="3.9" fill="url(#grain)" stroke="#4a4840" stroke-width="0.5" transform="rotate(152 267.3 847.3)"/>
<ellipse cx="291.1" cy="747.0" rx="6.6" ry="3.9" fill="url(#grain)" stroke="#4a4840" stroke-width="0.5" transform="rotate(175 291.1 747.0)"/>
<ellipse cx="289.5" cy="736.0" rx="6.6" ry="3.9" fill="url(#grain)" stroke="#4a4840" stroke-width="0.5" transform="rotate(126 289.5 736.0)"/>
<ellipse cx="238.7" cy="777.5" rx="6.6" ry="3.9" fill="url(#grain)" stroke="#4a4840" stroke-width="0.5" transform="rotate(102 238.7 777.5)"/>
<ellipse cx="297.7" cy="832.4" rx="6.6" ry="3.9" fill="url(#grain)" stroke="#4a4840" stroke-width="0.5" transform="rotate(155 297.7 832.4)"/>
<ellipse cx="163.8" cy="747.4" rx="6.6" ry="3.9" fill="url(#grain)" stroke="#4a4840" stroke-width="0.5" transform="rotate(118 163.8 747.4)"/>
<ellipse cx="145.1" cy="750.9" rx="6.6" ry="3.9" fill="url(#grain)" stroke="#4a4840" stroke-width="0.5" transform="rotate(105 145.1 750.9)"/>
<ellipse cx="278.0" cy="756.1" rx="6.6" ry="3.9" fill="url(#grain)" stroke="#4a4840" stroke-width="0.5" transform="rotate(128 278.0 756.1)"/>
<ellipse cx="243.6" cy="796.7" rx="6.6" ry="3.9" fill="url(#grain)" stroke="#4a4840" stroke-width="0.5" transform="rotate(160 243.6 796.7)"/>
<ellipse cx="232.7" cy="715.7" rx="6.6" ry="3.9" fill="url(#grain)" stroke="#4a4840" stroke-width="0.5" transform="rotate(165 232.7 715.7)"/>
<ellipse cx="229.1" cy="750.9" rx="6.6" ry="3.9" fill="url(#grain)" stroke="#4a4840" stroke-width="0.5" transform="rotate(7 229.1 750.9)"/>
<ellipse cx="177.5" cy="824.1" rx="6.6" ry="3.9" fill="url(#grain)" stroke="#4a4840" stroke-width="0.5" transform="rotate(91 177.5 824.1)"/>
<ellipse cx="309.2" cy="807.0" rx="6.6" ry="3.9" fill="url(#grain)" stroke="#4a4840" stroke-width="0.5" transform="rotate(97 309.2 807.0)"/>
<ellipse cx="332.1" cy="854.8" rx="6.6" ry="3.9" fill="url(#grain)" stroke="#4a4840" stroke-width="0.5" transform="rotate(19 332.1 854.8)"/>
<ellipse cx="209.9" cy="788.2" rx="6.6" ry="3.9" fill="url(#grain2)" stroke="#4a4840" stroke-width="0.5" transform="rotate(164 209.9 788.2)"/>
<ellipse cx="185.9" cy="750.2" rx="6.6" ry="3.9" fill="url(#grain)" stroke="#4a4840" stroke-width="0.5" transform="rotate(11 185.9 750.2)"/>
<ellipse cx="335.2" cy="816.5" rx="6.6" ry="3.9" fill="url(#grain)" stroke="#4a4840" stroke-width="0.5" transform="rotate(169 335.2 816.5)"/>
<ellipse cx="290.2" cy="793.5" rx="6.6" ry="3.9" fill="url(#grain2)" stroke="#4a4840" stroke-width="0.5" transform="rotate(166 290.2 793.5)"/>
<ellipse cx="196.3" cy="860.9" rx="6.6" ry="3.9" fill="url(#grain)" stroke="#4a4840" stroke-width="0.5" transform="rotate(140 196.3 860.9)"/>
<ellipse cx="168.1" cy="725.8" rx="6.6" ry="3.9" fill="url(#grain)" stroke="#4a4840" stroke-width="0.5" transform="rotate(63 168.1 725.8)"/>
<ellipse cx="239.4" cy="739.5" rx="6.6" ry="3.9" fill="url(#grain)" stroke="#4a4840" stroke-width="0.5" transform="rotate(26 239.4 739.5)"/>
<ellipse cx="229.2" cy="720.7" rx="6.6" ry="3.9" fill="url(#grain2)" stroke="#4a4840" stroke-width="0.5" transform="rotate(161 229.2 720.7)"/>
<ellipse cx="205.9" cy="709.3" rx="6.6" ry="3.9" fill="url(#grain2)" stroke="#4a4840" stroke-width="0.5" transform="rotate(75 205.9 709.3)"/>
<ellipse cx="293.9" cy="784.6" rx="6.6" ry="3.9" fill="url(#grain2)" stroke="#4a4840" stroke-width="0.5" transform="rotate(96 293.9 784.6)"/>
<ellipse cx="221.4" cy="810.7" rx="6.6" ry="3.9" fill="url(#grain2)" stroke="#4a4840" stroke-width="0.5" transform="rotate(9 221.4 810.7)"/>
<ellipse cx="213.4" cy="767.1" rx="6.6" ry="3.9" fill="url(#grain)" stroke="#4a4840" stroke-width="0.5" transform="rotate(49 213.4 767.1)"/>
<ellipse cx="218.3" cy="792.3" rx="6.6" ry="3.9" fill="url(#grain)" stroke="#4a4840" stroke-width="0.5" transform="rotate(69 218.3 792.3)"/>
<ellipse cx="325.5" cy="798.7" rx="6.6" ry="3.9" fill="url(#grain)" stroke="#4a4840" stroke-width="0.5" transform="rotate(120 325.5 798.7)"/>
<ellipse cx="271.8" cy="867.0" rx="6.6" ry="3.9" fill="url(#grain)" stroke="#4a4840" stroke-width="0.5" transform="rotate(105 271.8 867.0)"/>
<ellipse cx="271.4" cy="759.1" rx="6.6" ry="3.9" fill="url(#grain2)" stroke="#4a4840" stroke-width="0.5" transform="rotate(41 271.4 759.1)"/>
<ellipse cx="245.3" cy="824.4" rx="6.6" ry="3.9" fill="url(#grain)" stroke="#4a4840" stroke-width="0.5" transform="rotate(23 245.3 824.4)"/>
<ellipse cx="215.8" cy="740.3" rx="6.6" ry="3.9" fill="url(#grain2)" stroke="#4a4840" stroke-width="0.5" transform="rotate(47 215.8 740.3)"/>
<ellipse cx="222.7" cy="748.2" rx="6.6" ry="3.9" fill="url(#grain2)" stroke="#4a4840" stroke-width="0.5" transform="rotate(47 222.7 748.2)"/>
<ellipse cx="276.1" cy="904.5" rx="6.6" ry="3.9" fill="url(#grain)" stroke="#4a4840" stroke-width="0.5" transform="rotate(76 276.1 904.5)"/>
<ellipse cx="279.4" cy="734.4" rx="6.6" ry="3.9" fill="url(#grain)" stroke="#4a4840" stroke-width="0.5" transform="rotate(98 279.4 734.4)"/>
<ellipse cx="179.8" cy="866.0" rx="6.6" ry="3.9" fill="url(#grain2)" stroke="#4a4840" stroke-width="0.5" transform="rotate(132 179.8 866.0)"/>
<ellipse cx="180.2" cy="785.6" rx="6.6" ry="3.9" fill="url(#grain)" stroke="#4a4840" stroke-width="0.5" transform="rotate(7 180.2 785.6)"/>
<ellipse cx="163.6" cy="780.1" rx="6.6" ry="3.9" fill="url(#grain2)" stroke="#4a4840" stroke-width="0.5" transform="rotate(92 163.6 780.1)"/>
<ellipse cx="145.0" cy="780.0" rx="6.6" ry="3.9" fill="url(#grain2)" stroke="#4a4840" stroke-width="0.5" transform="rotate(133 145.0 780.0)"/>
<ellipse cx="192.4" cy="770.2" rx="6.6" ry="3.9" fill="url(#grain)" stroke="#4a4840" stroke-width="0.5" transform="rotate(61 192.4 770.2)"/>
<ellipse cx="209.0" cy="880.2" rx="6.6" ry="3.9" fill="url(#grain)" stroke="#4a4840" stroke-width="0.5" transform="rotate(101 209.0 880.2)"/>
<ellipse cx="173.7" cy="773.2" rx="6.6" ry="3.9" fill="url(#grain)" stroke="#4a4840" stroke-width="0.5" transform="rotate(119 173.7 773.2)"/>
<ellipse cx="293.4" cy="898.3" rx="6.6" ry="3.9" fill="url(#grain)" stroke="#4a4840" stroke-width="0.5" transform="rotate(94 293.4 898.3)"/>
<ellipse cx="200.4" cy="752.5" rx="6.6" ry="3.9" fill="url(#grain2)" stroke="#4a4840" stroke-width="0.5" transform="rotate(88 200.4 752.5)"/>
<ellipse cx="215.5" cy="746.7" rx="6.6" ry="3.9" fill="url(#grain)" stroke="#4a4840" stroke-width="0.5" transform="rotate(128 215.5 746.7)"/>
<ellipse cx="224.9" cy="803.5" rx="6.6" ry="3.9" fill="url(#grain2)" stroke="#4a4840" stroke-width="0.5" transform="rotate(86 224.9 803.5)"/>
<ellipse cx="309.7" cy="868.8" rx="6.6" ry="3.9" fill="url(#grain)" stroke="#4a4840" stroke-width="0.5" transform="rotate(117 309.7 868.8)"/>
<ellipse cx="263.2" cy="764.7" rx="6.6" ry="3.9" fill="url(#grain)" stroke="#4a4840" stroke-width="0.5" transform="rotate(79 263.2 764.7)"/>
<ellipse cx="189.2" cy="707.7" rx="6.6" ry="3.9" fill="url(#grain)" stroke="#4a4840" stroke-width="0.5" transform="rotate(169 189.2 707.7)"/>
<ellipse cx="293.6" cy="886.2" rx="6.6" ry="3.9" fill="url(#grain2)" stroke="#4a4840" stroke-width="0.5" transform="rotate(102 293.6 886.2)"/>
<ellipse cx="256.9" cy="764.4" rx="6.6" ry="3.9" fill="url(#grain)" stroke="#4a4840" stroke-width="0.5" transform="rotate(77 256.9 764.4)"/>
<ellipse cx="306.6" cy="840.9" rx="6.6" ry="3.9" fill="url(#grain)" stroke="#4a4840" stroke-width="0.5" transform="rotate(9 306.6 840.9)"/>
<ellipse cx="332.9" cy="775.1" rx="6.6" ry="3.9" fill="url(#grain)" stroke="#4a4840" stroke-width="0.5" transform="rotate(66 332.9 775.1)"/>
<ellipse cx="319.1" cy="793.1" rx="6.6" ry="3.9" fill="url(#grain)" stroke="#4a4840" stroke-width="0.5" transform="rotate(124 319.1 793.1)"/>
<ellipse cx="188.1" cy="870.0" rx="6.6" ry="3.9" fill="url(#grain2)" stroke="#4a4840" stroke-width="0.5" transform="rotate(48 188.1 870.0)"/>
<ellipse cx="260.8" cy="833.1" rx="6.6" ry="3.9" fill="url(#grain)" stroke="#4a4840" stroke-width="0.5" transform="rotate(133 260.8 833.1)"/>
<ellipse cx="187.1" cy="828.3" rx="6.6" ry="3.9" fill="url(#grain)" stroke="#4a4840" stroke-width="0.5" transform="rotate(156 187.1 828.3)"/>
<ellipse cx="272.8" cy="735.6" rx="6.6" ry="3.9" fill="url(#grain)" stroke="#4a4840" stroke-width="0.5" transform="rotate(16 272.8 735.6)"/>
<ellipse cx="303.8" cy="816.2" rx="6.6" ry="3.9" fill="url(#grain)" stroke="#4a4840" stroke-width="0.5" transform="rotate(99 303.8 816.2)"/>
<ellipse cx="217.4" cy="816.7" rx="6.6" ry="3.9" fill="url(#grain)" stroke="#4a4840" stroke-width="0.5" transform="rotate(122 217.4 816.7)"/>
<ellipse cx="220.5" cy="754.3" rx="6.6" ry="3.9" fill="url(#grain)" stroke="#4a4840" stroke-width="0.5" transform="rotate(163 220.5 754.3)"/>
<ellipse cx="210.6" cy="734.1" rx="6.6" ry="3.9" fill="url(#grain2)" stroke="#4a4840" stroke-width="0.5" transform="rotate(5 210.6 734.1)"/>
<ellipse cx="212.1" cy="806.0" rx="6.6" ry="3.9" fill="url(#grain)" stroke="#4a4840" stroke-width="0.5" transform="rotate(23 212.1 806.0)"/>
<ellipse cx="163.5" cy="754.3" rx="6.6" ry="3.9" fill="url(#grain)" stroke="#4a4840" stroke-width="0.5" transform="rotate(32 163.5 754.3)"/>
<ellipse cx="236.3" cy="700.5" rx="6.6" ry="3.9" fill="url(#grain)" stroke="#4a4840" stroke-width="0.5" transform="rotate(62 236.3 700.5)"/>
<ellipse cx="301.7" cy="740.0" rx="6.6" ry="3.9" fill="url(#grain)" stroke="#4a4840" stroke-width="0.5" transform="rotate(24 301.7 740.0)"/>
<ellipse cx="219.4" cy="886.0" rx="6.6" ry="3.9" fill="url(#grain)" stroke="#4a4840" stroke-width="0.5" transform="rotate(112 219.4 886.0)"/>
<ellipse cx="222.7" cy="824.3" rx="6.6" ry="3.9" fill="url(#grain)" stroke="#4a4840" stroke-width="0.5" transform="rotate(178 222.7 824.3)"/>
<ellipse cx="224.0" cy="842.2" rx="6.6" ry="3.9" fill="url(#grain2)" stroke="#4a4840" stroke-width="0.5" transform="rotate(6 224.0 842.2)"/>
<ellipse cx="228.5" cy="790.6" rx="6.6" ry="3.9" fill="url(#grain)" stroke="#4a4840" stroke-width="0.5" transform="rotate(75 228.5 790.6)"/>
<ellipse cx="296.9" cy="870.5" rx="6.6" ry="3.9" fill="url(#grain2)" stroke="#4a4840" stroke-width="0.5" transform="rotate(139 296.9 870.5)"/>
<ellipse cx="151.8" cy="791.4" rx="6.6" ry="3.9" fill="url(#grain2)" stroke="#4a4840" stroke-width="0.5" transform="rotate(127 151.8 791.4)"/>
<ellipse cx="242.2" cy="697.5" rx="6.6" ry="3.9" fill="url(#grain2)" stroke="#4a4840" stroke-width="0.5" transform="rotate(168 242.2 697.5)"/>
<ellipse cx="290.4" cy="870.0" rx="6.6" ry="3.9" fill="url(#grain)" stroke="#4a4840" stroke-width="0.5" transform="rotate(101 290.4 870.0)"/>
<ellipse cx="146.2" cy="770.1" rx="6.6" ry="3.9" fill="url(#grain)" stroke="#4a4840" stroke-width="0.5" transform="rotate(62 146.2 770.1)"/>
<ellipse cx="240.5" cy="903.3" rx="6.6" ry="3.9" fill="url(#grain)" stroke="#4a4840" stroke-width="0.5" transform="rotate(130 240.5 903.3)"/>
<ellipse cx="177.0" cy="749.5" rx="6.6" ry="3.9" fill="url(#grain)" stroke="#4a4840" stroke-width="0.5" transform="rotate(13 177.0 749.5)"/>
<ellipse cx="278.8" cy="897.5" rx="6.6" ry="3.9" fill="url(#grain2)" stroke="#4a4840" stroke-width="0.5" transform="rotate(73 278.8 897.5)"/>
<ellipse cx="320.6" cy="817.9" rx="6.6" ry="3.9" fill="url(#grain2)" stroke="#4a4840" stroke-width="0.5" transform="rotate(107 320.6 817.9)"/>
<ellipse cx="209.8" cy="866.9" rx="6.6" ry="3.9" fill="url(#grain2)" stroke="#4a4840" stroke-width="0.5" transform="rotate(171 209.8 866.9)"/>
<ellipse cx="258.5" cy="843.3" rx="6.6" ry="3.9" fill="url(#grain)" stroke="#4a4840" stroke-width="0.5" transform="rotate(136 258.5 843.3)"/>
<ellipse cx="265.1" cy="789.1" rx="6.6" ry="3.9" fill="url(#grain2)" stroke="#4a4840" stroke-width="0.5" transform="rotate(131 265.1 789.1)"/>
<ellipse cx="259.2" cy="735.8" rx="6.6" ry="3.9" fill="url(#grain)" stroke="#4a4840" stroke-width="0.5" transform="rotate(124 259.2 735.8)"/>
<ellipse cx="266.8" cy="799.1" rx="6.6" ry="3.9" fill="url(#grain)" stroke="#4a4840" stroke-width="0.5" transform="rotate(167 266.8 799.1)"/>
<ellipse cx="320.2" cy="871.0" rx="6.6" ry="3.9" fill="url(#grain)" stroke="#4a4840" stroke-width="0.5" transform="rotate(105 320.2 871.0)"/>
<ellipse cx="253.5" cy="770.0" rx="6.6" ry="3.9" fill="url(#grain2)" stroke="#4a4840" stroke-width="0.5" transform="rotate(84 253.5 770.0)"/>
<ellipse cx="271.5" cy="791.8" rx="6.6" ry="3.9" fill="url(#grain2)" stroke="#4a4840" stroke-width="0.5" transform="rotate(107 271.5 791.8)"/>
<ellipse cx="175.1" cy="830.3" rx="6.6" ry="3.9" fill="url(#grain)" stroke="#4a4840" stroke-width="0.5" transform="rotate(154 175.1 830.3)"/>
<ellipse cx="204.5" cy="863.4" rx="6.6" ry="3.9" fill="url(#grain2)" stroke="#4a4840" stroke-width="0.5" transform="rotate(163 204.5 863.4)"/>
<ellipse cx="282.1" cy="885.8" rx="6.6" ry="3.9" fill="url(#grain2)" stroke="#4a4840" stroke-width="0.5" transform="rotate(40 282.1 885.8)"/>
<ellipse cx="285.7" cy="750.2" rx="6.6" ry="3.9" fill="url(#grain)" stroke="#4a4840" stroke-width="0.5" transform="rotate(122 285.7 750.2)"/>
<ellipse cx="189.3" cy="838.2" rx="6.6" ry="3.9" fill="url(#grain2)" stroke="#4a4840" stroke-width="0.5" transform="rotate(31 189.3 838.2)"/>
<ellipse cx="293.2" cy="764.5" rx="6.6" ry="3.9" fill="url(#grain)" stroke="#4a4840" stroke-width="0.5" transform="rotate(66 293.2 764.5)"/>
<ellipse cx="226.4" cy="857.6" rx="6.6" ry="3.9" fill="url(#grain)" stroke="#4a4840" stroke-width="0.5" transform="rotate(5 226.4 857.6)"/>
<ellipse cx="282.6" cy="860.4" rx="6.6" ry="3.9" fill="url(#grain)" stroke="#4a4840" stroke-width="0.5" transform="rotate(171 282.6 860.4)"/>
<ellipse cx="269.0" cy="881.1" rx="6.6" ry="3.9" fill="url(#grain)" stroke="#4a4840" stroke-width="0.5" transform="rotate(169 269.0 881.1)"/>
<ellipse cx="295.6" cy="736.0" rx="6.6" ry="3.9" fill="url(#grain)" stroke="#4a4840" stroke-width="0.5" transform="rotate(130 295.6 736.0)"/>
<ellipse cx="200.9" cy="787.2" rx="6.6" ry="3.9" fill="url(#grain)" stroke="#4a4840" stroke-width="0.5" transform="rotate(120 200.9 787.2)"/>
<ellipse cx="193.0" cy="855.5" rx="6.6" ry="3.9" fill="url(#grain)" stroke="#4a4840" stroke-width="0.5" transform="rotate(109 193.0 855.5)"/>
<ellipse cx="315.9" cy="832.7" rx="6.6" ry="3.9" fill="url(#grain)" stroke="#4a4840" stroke-width="0.5" transform="rotate(53 315.9 832.7)"/>
<ellipse cx="206.9" cy="852.9" rx="6.6" ry="3.9" fill="url(#grain)" stroke="#4a4840" stroke-width="0.5" transform="rotate(28 206.9 852.9)"/>
<ellipse cx="238.2" cy="874.4" rx="6.6" ry="3.9" fill="url(#grain)" stroke="#4a4840" stroke-width="0.5" transform="rotate(14 238.2 874.4)"/>
<ellipse cx="193.3" cy="738.2" rx="6.6" ry="3.9" fill="url(#grain2)" stroke="#4a4840" stroke-width="0.5" transform="rotate(20 193.3 738.2)"/>
<ellipse cx="283.1" cy="804.6" rx="6.6" ry="3.9" fill="url(#grain)" stroke="#4a4840" stroke-width="0.5" transform="rotate(176 283.1 804.6)"/>
<ellipse cx="282.6" cy="872.1" rx="6.6" ry="3.9" fill="url(#grain)" stroke="#4a4840" stroke-width="0.5" transform="rotate(164 282.6 872.1)"/>
<ellipse cx="326.7" cy="805.3" rx="6.6" ry="3.9" fill="url(#grain2)" stroke="#4a4840" stroke-width="0.5" transform="rotate(122 326.7 805.3)"/>
<ellipse cx="207.3" cy="764.4" rx="6.6" ry="3.9" fill="url(#grain)" stroke="#4a4840" stroke-width="0.5" transform="rotate(143 207.3 764.4)"/>
<ellipse cx="275.0" cy="861.6" rx="6.6" ry="3.9" fill="url(#grain2)" stroke="#4a4840" stroke-width="0.5" transform="rotate(34 275.0 861.6)"/>
<ellipse cx="202.9" cy="732.3" rx="6.6" ry="3.9" fill="url(#grain)" stroke="#4a4840" stroke-width="0.5" transform="rotate(138 202.9 732.3)"/>
<ellipse cx="174.4" cy="837.3" rx="6.6" ry="3.9" fill="url(#grain)" stroke="#4a4840" stroke-width="0.5" transform="rotate(68 174.4 837.3)"/>
<ellipse cx="215.9" cy="695.9" rx="6.6" ry="3.9" fill="url(#grain)" stroke="#4a4840" stroke-width="0.5" transform="rotate(129 215.9 695.9)"/>
<ellipse cx="218.2" cy="873.1" rx="6.6" ry="3.9" fill="url(#grain)" stroke="#4a4840" stroke-width="0.5" transform="rotate(141 218.2 873.1)"/>
<ellipse cx="162.6" cy="829.3" rx="6.6" ry="3.9" fill="url(#grain)" stroke="#4a4840" stroke-width="0.5" transform="rotate(79 162.6 829.3)"/>
<ellipse cx="223.0" cy="741.5" rx="6.6" ry="3.9" fill="url(#grain)" stroke="#4a4840" stroke-width="0.5" transform="rotate(70 223.0 741.5)"/>
<ellipse cx="199.6" cy="835.0" rx="6.6" ry="3.9" fill="url(#grain)" stroke="#4a4840" stroke-width="0.5" transform="rotate(85 199.6 835.0)"/>
<ellipse cx="268.0" cy="746.5" rx="6.6" ry="3.9" fill="url(#grain)" stroke="#4a4840" stroke-width="0.5" transform="rotate(49 268.0 746.5)"/>
<ellipse cx="300.1" cy="779.0" rx="6.6" ry="3.9" fill="url(#grain)" stroke="#4a4840" stroke-width="0.5" transform="rotate(81 300.1 779.0)"/>
<ellipse cx="335.2" cy="809.5" rx="6.6" ry="3.9" fill="url(#grain)" stroke="#4a4840" stroke-width="0.5" transform="rotate(86 335.2 809.5)"/>
<ellipse cx="248.9" cy="855.8" rx="6.6" ry="3.9" fill="url(#grain)" stroke="#4a4840" stroke-width="0.5" transform="rotate(59 248.9 855.8)"/>
<ellipse cx="177.4" cy="848.1" rx="6.6" ry="3.9" fill="url(#grain2)" stroke="#4a4840" stroke-width="0.5" transform="rotate(81 177.4 848.1)"/>
<ellipse cx="222.8" cy="851.4" rx="6.6" ry="3.9" fill="url(#grain)" stroke="#4a4840" stroke-width="0.5" transform="rotate(39 222.8 851.4)"/>
<ellipse cx="233.3" cy="819.5" rx="6.6" ry="3.9" fill="url(#grain)" stroke="#4a4840" stroke-width="0.5" transform="rotate(35 233.3 819.5)"/>
<ellipse cx="208.3" cy="837.5" rx="6.6" ry="3.9" fill="url(#grain)" stroke="#4a4840" stroke-width="0.5" transform="rotate(104 208.3 837.5)"/>
<ellipse cx="250.4" cy="717.3" rx="6.6" ry="3.9" fill="url(#grain2)" stroke="#4a4840" stroke-width="0.5" transform="rotate(140 250.4 717.3)"/>
<ellipse cx="312.1" cy="771.0" rx="6.6" ry="3.9" fill="url(#grain2)" stroke="#4a4840" stroke-width="0.5" transform="rotate(159 312.1 771.0)"/>
<ellipse cx="263.4" cy="870.8" rx="6.6" ry="3.9" fill="url(#grain)" stroke="#4a4840" stroke-width="0.5" transform="rotate(159 263.4 870.8)"/>
<ellipse cx="246.7" cy="861.6" rx="6.6" ry="3.9" fill="url(#grain2)" stroke="#4a4840" stroke-width="0.5" transform="rotate(34 246.7 861.6)"/>
<ellipse cx="251.9" cy="749.9" rx="6.6" ry="3.9" fill="url(#grain2)" stroke="#4a4840" stroke-width="0.5" transform="rotate(170 251.9 749.9)"/>
<ellipse cx="182.6" cy="720.6" rx="6.6" ry="3.9" fill="url(#grain)" stroke="#4a4840" stroke-width="0.5" transform="rotate(137 182.6 720.6)"/>
<ellipse cx="238.1" cy="804.6" rx="6.6" ry="3.9" fill="url(#grain)" stroke="#4a4840" stroke-width="0.5" transform="rotate(87 238.1 804.6)"/>
<ellipse cx="275.7" cy="884.7" rx="6.6" ry="3.9" fill="url(#grain)" stroke="#4a4840" stroke-width="0.5" transform="rotate(122 275.7 884.7)"/>
<ellipse cx="269.6" cy="836.9" rx="6.6" ry="3.9" fill="url(#grain)" stroke="#4a4840" stroke-width="0.5" transform="rotate(121 269.6 836.9)"/>
<ellipse cx="310.8" cy="782.5" rx="6.6" ry="3.9" fill="url(#grain)" stroke="#4a4840" stroke-width="0.5" transform="rotate(85 310.8 782.5)"/>
<ellipse cx="240.8" cy="751.6" rx="6.6" ry="3.9" fill="url(#grain)" stroke="#4a4840" stroke-width="0.5" transform="rotate(18 240.8 751.6)"/>
<ellipse cx="142.7" cy="758.3" rx="6.6" ry="3.9" fill="url(#grain)" stroke="#4a4840" stroke-width="0.5" transform="rotate(116 142.7 758.3)"/>
<ellipse cx="331.0" cy="830.4" rx="6.6" ry="3.9" fill="url(#grain2)" stroke="#4a4840" stroke-width="0.5" transform="rotate(81 331.0 830.4)"/>
<ellipse cx="307.0" cy="822.6" rx="6.6" ry="3.9" fill="url(#grain)" stroke="#4a4840" stroke-width="0.5" transform="rotate(159 307.0 822.6)"/>
<ellipse cx="259.9" cy="907.4" rx="6.6" ry="3.9" fill="url(#grain2)" stroke="#4a4840" stroke-width="0.5" transform="rotate(111 259.9 907.4)"/>
<ellipse cx="221.1" cy="711.9" rx="6.6" ry="3.9" fill="url(#grain)" stroke="#4a4840" stroke-width="0.5" transform="rotate(176 221.1 711.9)"/>
<ellipse cx="267.8" cy="854.0" rx="6.6" ry="3.9" fill="url(#grain)" stroke="#4a4840" stroke-width="0.5" transform="rotate(85 267.8 854.0)"/>
<ellipse cx="254.4" cy="756.4" rx="6.6" ry="3.9" fill="url(#grain)" stroke="#4a4840" stroke-width="0.5" transform="rotate(136 254.4 756.4)"/>
<ellipse cx="203.7" cy="829.8" rx="6.6" ry="3.9" fill="url(#grain)" stroke="#4a4840" stroke-width="0.5" transform="rotate(53 203.7 829.8)"/>
<ellipse cx="251.6" cy="874.6" rx="6.6" ry="3.9" fill="url(#grain)" stroke="#4a4840" stroke-width="0.5" transform="rotate(155 251.6 874.6)"/>
<ellipse cx="232.5" cy="736.3" rx="6.6" ry="3.9" fill="url(#grain)" stroke="#4a4840" stroke-width="0.5" transform="rotate(104 232.5 736.3)"/>
<ellipse cx="187.0" cy="863.8" rx="6.6" ry="3.9" fill="url(#grain2)" stroke="#4a4840" stroke-width="0.5" transform="rotate(43 187.0 863.8)"/>
<ellipse cx="303.0" cy="795.6" rx="6.6" ry="3.9" fill="url(#grain)" stroke="#4a4840" stroke-width="0.5" transform="rotate(24 303.0 795.6)"/>
<ellipse cx="234.9" cy="825.9" rx="6.6" ry="3.9" fill="url(#grain)" stroke="#4a4840" stroke-width="0.5" transform="rotate(50 234.9 825.9)"/>
<ellipse cx="171.0" cy="852.0" rx="6.6" ry="3.9" fill="url(#grain2)" stroke="#4a4840" stroke-width="0.5" transform="rotate(23 171.0 852.0)"/>
<ellipse cx="300.3" cy="787.7" rx="6.6" ry="3.9" fill="url(#grain)" stroke="#4a4840" stroke-width="0.5" transform="rotate(84 300.3 787.7)"/>
<ellipse cx="252.4" cy="891.7" rx="6.6" ry="3.9" fill="url(#grain)" stroke="#4a4840" stroke-width="0.5" transform="rotate(144 252.4 891.7)"/>
<ellipse cx="276.7" cy="780.0" rx="6.6" ry="3.9" fill="url(#grain)" stroke="#4a4840" stroke-width="0.5" transform="rotate(117 276.7 780.0)"/>
<ellipse cx="259.8" cy="865.3" rx="6.6" ry="3.9" fill="url(#grain)" stroke="#4a4840" stroke-width="0.5" transform="rotate(2 259.8 865.3)"/>
<ellipse cx="154.8" cy="763.8" rx="6.6" ry="3.9" fill="url(#grain2)" stroke="#4a4840" stroke-width="0.5" transform="rotate(8 154.8 763.8)"/>
<ellipse cx="235.1" cy="755.0" rx="6.6" ry="3.9" fill="url(#grain)" stroke="#4a4840" stroke-width="0.5" transform="rotate(74 235.1 755.0)"/>
<ellipse cx="187.7" cy="735.2" rx="6.6" ry="3.9" fill="url(#grain)" stroke="#4a4840" stroke-width="0.5" transform="rotate(138 187.7 735.2)"/>
<ellipse cx="306.3" cy="767.8" rx="6.6" ry="3.9" fill="url(#grain)" stroke="#4a4840" stroke-width="0.5" transform="rotate(142 306.3 767.8)"/>
<ellipse cx="170.9" cy="868.3" rx="6.6" ry="3.9" fill="url(#grain)" stroke="#4a4840" stroke-width="0.5" transform="rotate(146 170.9 868.3)"/>
<ellipse cx="211.3" cy="726.3" rx="6.6" ry="3.9" fill="url(#grain)" stroke="#4a4840" stroke-width="0.5" transform="rotate(139 211.3 726.3)"/>
<ellipse cx="212.2" cy="827.2" rx="6.6" ry="3.9" fill="url(#grain2)" stroke="#4a4840" stroke-width="0.5" transform="rotate(170 212.2 827.2)"/>
<ellipse cx="219.6" cy="720.0" rx="6.6" ry="3.9" fill="url(#grain)" stroke="#4a4840" stroke-width="0.5" transform="rotate(3 219.6 720.0)"/>
<ellipse cx="259.8" cy="889.5" rx="6.6" ry="3.9" fill="url(#grain)" stroke="#4a4840" stroke-width="0.5" transform="rotate(165 259.8 889.5)"/>
<ellipse cx="163.8" cy="822.0" rx="6.6" ry="3.9" fill="url(#grain)" stroke="#4a4840" stroke-width="0.5" transform="rotate(76 163.8 822.0)"/>
<ellipse cx="299.8" cy="767.2" rx="6.6" ry="3.9" fill="url(#grain)" stroke="#4a4840" stroke-width="0.5" transform="rotate(16 299.8 767.2)"/>
<ellipse cx="334.4" cy="836.2" rx="6.6" ry="3.9" fill="url(#grain2)" stroke="#4a4840" stroke-width="0.5" transform="rotate(78 334.4 836.2)"/>
<ellipse cx="244.4" cy="789.5" rx="6.6" ry="3.9" fill="url(#grain)" stroke="#4a4840" stroke-width="0.5" transform="rotate(1 244.4 789.5)"/>
<ellipse cx="199.1" cy="744.7" rx="6.6" ry="3.9" fill="url(#grain)" stroke="#4a4840" stroke-width="0.5" transform="rotate(75 199.1 744.7)"/>
<ellipse cx="252.2" cy="803.0" rx="6.6" ry="3.9" fill="url(#grain2)" stroke="#4a4840" stroke-width="0.5" transform="rotate(95 252.2 803.0)"/>
<ellipse cx="195.8" cy="868.7" rx="6.6" ry="3.9" fill="url(#grain2)" stroke="#4a4840" stroke-width="0.5" transform="rotate(33 195.8 868.7)"/>
<ellipse cx="165.4" cy="766.9" rx="6.6" ry="3.9" fill="url(#grain)" stroke="#4a4840" stroke-width="0.5" transform="rotate(104 165.4 766.9)"/>
<ellipse cx="208.1" cy="846.0" rx="6.6" ry="3.9" fill="url(#grain)" stroke="#4a4840" stroke-width="0.5" transform="rotate(93 208.1 846.0)"/>
<ellipse cx="291.6" cy="861.9" rx="6.6" ry="3.9" fill="url(#grain)" stroke="#4a4840" stroke-width="0.5" transform="rotate(89 291.6 861.9)"/>
<ellipse cx="301.3" cy="892.2" rx="6.6" ry="3.9" fill="url(#grain)" stroke="#4a4840" stroke-width="0.5" transform="rotate(74 301.3 892.2)"/>
<ellipse cx="263.2" cy="776.8" rx="6.6" ry="3.9" fill="url(#grain)" stroke="#4a4840" stroke-width="0.5" transform="rotate(131 263.2 776.8)"/>
<ellipse cx="257.6" cy="708.6" rx="6.6" ry="3.9" fill="url(#grain)" stroke="#4a4840" stroke-width="0.5" transform="rotate(21 257.6 708.6)"/>
<ellipse cx="224.1" cy="901.1" rx="6.6" ry="3.9" fill="url(#grain)" stroke="#4a4840" stroke-width="0.5" transform="rotate(107 224.1 901.1)"/>
<ellipse cx="278.1" cy="810.9" rx="6.6" ry="3.9" fill="url(#grain)" stroke="#4a4840" stroke-width="0.5" transform="rotate(16 278.1 810.9)"/>
<ellipse cx="227.1" cy="834.2" rx="6.6" ry="3.9" fill="url(#grain2)" stroke="#4a4840" stroke-width="0.5" transform="rotate(47 227.1 834.2)"/>
<ellipse cx="246.5" cy="878.9" rx="6.6" ry="3.9" fill="url(#grain)" stroke="#4a4840" stroke-width="0.5" transform="rotate(125 246.5 878.9)"/>
<ellipse cx="242.7" cy="713.9" rx="6.6" ry="3.9" fill="url(#grain)" stroke="#4a4840" stroke-width="0.5" transform="rotate(81 242.7 713.9)"/>
<ellipse cx="325.2" cy="849.4" rx="6.6" ry="3.9" fill="url(#grain2)" stroke="#4a4840" stroke-width="0.5" transform="rotate(66 325.2 849.4)"/>
<ellipse cx="323.8" cy="786.5" rx="6.6" ry="3.9" fill="url(#grain)" stroke="#4a4840" stroke-width="0.5" transform="rotate(157 323.8 786.5)"/>
<ellipse cx="268.1" cy="829.1" rx="6.6" ry="3.9" fill="url(#grain)" stroke="#4a4840" stroke-width="0.5" transform="rotate(143 268.1 829.1)"/>
<ellipse cx="198.3" cy="849.6" rx="6.6" ry="3.9" fill="url(#grain)" stroke="#4a4840" stroke-width="0.5" transform="rotate(131 198.3 849.6)"/>
<ellipse cx="313.9" cy="825.2" rx="6.6" ry="3.9" fill="url(#grain2)" stroke="#4a4840" stroke-width="0.5" transform="rotate(155 313.9 825.2)"/>
<ellipse cx="264.4" cy="876.7" rx="6.6" ry="3.9" fill="url(#grain2)" stroke="#4a4840" stroke-width="0.5" transform="rotate(127 264.4 876.7)"/>
<ellipse cx="286.5" cy="770.8" rx="6.6" ry="3.9" fill="url(#grain)" stroke="#4a4840" stroke-width="0.5" transform="rotate(106 286.5 770.8)"/>
<ellipse cx="229.2" cy="778.2" rx="6.6" ry="3.9" fill="url(#grain)" stroke="#4a4840" stroke-width="0.5" transform="rotate(45 229.2 778.2)"/>
<ellipse cx="184.5" cy="779.2" rx="6.6" ry="3.9" fill="url(#grain)" stroke="#4a4840" stroke-width="0.5" transform="rotate(105 184.5 779.2)"/>
<ellipse cx="219.1" cy="703.3" rx="6.6" ry="3.9" fill="url(#grain)" stroke="#4a4840" stroke-width="0.5" transform="rotate(1 219.1 703.3)"/>
<ellipse cx="173.3" cy="754.4" rx="6.6" ry="3.9" fill="url(#grain)" stroke="#4a4840" stroke-width="0.5" transform="rotate(89 173.3 754.4)"/>
<ellipse cx="275.5" cy="767.9" rx="6.6" ry="3.9" fill="url(#grain)" stroke="#4a4840" stroke-width="0.5" transform="rotate(109 275.5 767.9)"/>
<ellipse cx="326.3" cy="825.5" rx="6.6" ry="3.9" fill="url(#grain2)" stroke="#4a4840" stroke-width="0.5" transform="rotate(125 326.3 825.5)"/>
<ellipse cx="201.3" cy="843.1" rx="6.6" ry="3.9" fill="url(#grain2)" stroke="#4a4840" stroke-width="0.5" transform="rotate(174 201.3 843.1)"/>
<ellipse cx="196.1" cy="703.4" rx="6.6" ry="3.9" fill="url(#grain)" stroke="#4a4840" stroke-width="0.5" transform="rotate(156 196.1 703.4)"/>
<ellipse cx="267.8" cy="730.5" rx="6.6" ry="3.9" fill="url(#grain)" stroke="#4a4840" stroke-width="0.5" transform="rotate(131 267.8 730.5)"/>
<ellipse cx="290.6" cy="854.7" rx="6.6" ry="3.9" fill="url(#grain)" stroke="#4a4840" stroke-width="0.5" transform="rotate(157 290.6 854.7)"/>
<ellipse cx="167.0" cy="734.4" rx="6.6" ry="3.9" fill="url(#grain)" stroke="#4a4840" stroke-width="0.5" transform="rotate(66 167.0 734.4)"/>
<ellipse cx="188.4" cy="815.9" rx="6.6" ry="3.9" fill="url(#grain2)" stroke="#4a4840" stroke-width="0.5" transform="rotate(8 188.4 815.9)"/>
<ellipse cx="220.9" cy="735.1" rx="6.6" ry="3.9" fill="url(#grain)" stroke="#4a4840" stroke-width="0.5" transform="rotate(164 220.9 735.1)"/>
<ellipse cx="284.7" cy="844.9" rx="6.6" ry="3.9" fill="url(#grain)" stroke="#4a4840" stroke-width="0.5" transform="rotate(40 284.7 844.9)"/>
<ellipse cx="168.5" cy="844.0" rx="6.6" ry="3.9" fill="url(#grain)" stroke="#4a4840" stroke-width="0.5" transform="rotate(44 168.5 844.0)"/>
<ellipse cx="202.1" cy="797.7" rx="6.6" ry="3.9" fill="url(#grain)" stroke="#4a4840" stroke-width="0.5" transform="rotate(5 202.1 797.7)"/>
<ellipse cx="310.3" cy="762.9" rx="6.6" ry="3.9" fill="url(#grain)" stroke="#4a4840" stroke-width="0.5" transform="rotate(142 310.3 762.9)"/>
<ellipse cx="280.6" cy="726.3" rx="6.6" ry="3.9" fill="url(#grain)" stroke="#4a4840" stroke-width="0.5" transform="rotate(118 280.6 726.3)"/>
<ellipse cx="193.2" cy="842.8" rx="6.6" ry="3.9" fill="url(#grain)" stroke="#4a4840" stroke-width="0.5" transform="rotate(124 193.2 842.8)"/>
<ellipse cx="337.8" cy="800.5" rx="6.6" ry="3.9" fill="url(#grain)" stroke="#4a4840" stroke-width="0.5" transform="rotate(21 337.8 800.5)"/>
<ellipse cx="168.3" cy="862.4" rx="6.6" ry="3.9" fill="url(#grain2)" stroke="#4a4840" stroke-width="0.5" transform="rotate(48 168.3 862.4)"/>
<ellipse cx="277.8" cy="747.6" rx="6.6" ry="3.9" fill="url(#grain)" stroke="#4a4840" stroke-width="0.5" transform="rotate(174 277.8 747.6)"/>
<ellipse cx="173.7" cy="792.5" rx="6.6" ry="3.9" fill="url(#grain)" stroke="#4a4840" stroke-width="0.5" transform="rotate(144 173.7 792.5)"/>
<ellipse cx="172.0" cy="817.7" rx="6.6" ry="3.9" fill="url(#grain)" stroke="#4a4840" stroke-width="0.5" transform="rotate(155 172.0 817.7)"/>
<ellipse cx="234.8" cy="725.0" rx="6.6" ry="3.9" fill="url(#grain2)" stroke="#4a4840" stroke-width="0.5" transform="rotate(46 234.8 725.0)"/>
<ellipse cx="259.3" cy="698.2" rx="6.6" ry="3.9" fill="url(#grain)" stroke="#4a4840" stroke-width="0.5" transform="rotate(142 259.3 698.2)"/>
<ellipse cx="191.0" cy="805.0" rx="6.6" ry="3.9" fill="url(#grain2)" stroke="#4a4840" stroke-width="0.5" transform="rotate(67 191.0 805.0)"/>
<ellipse cx="334.7" cy="847.4" rx="6.6" ry="3.9" fill="url(#grain2)" stroke="#4a4840" stroke-width="0.5" transform="rotate(69 334.7 847.4)"/>
<ellipse cx="291.7" cy="807.1" rx="6.6" ry="3.9" fill="url(#grain)" stroke="#4a4840" stroke-width="0.5" transform="rotate(170 291.7 807.1)"/>
<ellipse cx="251.0" cy="783.0" rx="6.6" ry="3.9" fill="url(#grain)" stroke="#4a4840" stroke-width="0.5" transform="rotate(149 251.0 783.0)"/>
<ellipse cx="284.1" cy="739.1" rx="6.6" ry="3.9" fill="url(#grain)" stroke="#4a4840" stroke-width="0.5" transform="rotate(78 284.1 739.1)"/>
<ellipse cx="251.9" cy="841.8" rx="6.6" ry="3.9" fill="url(#grain)" stroke="#4a4840" stroke-width="0.5" transform="rotate(69 251.9 841.8)"/>
<ellipse cx="251.9" cy="730.5" rx="6.6" ry="3.9" fill="url(#grain)" stroke="#4a4840" stroke-width="0.5" transform="rotate(149 251.9 730.5)"/>
<ellipse cx="269.4" cy="768.5" rx="6.6" ry="3.9" fill="url(#grain)" stroke="#4a4840" stroke-width="0.5" transform="rotate(17 269.4 768.5)"/>
<ellipse cx="236.9" cy="896.5" rx="6.6" ry="3.9" fill="url(#grain)" stroke="#4a4840" stroke-width="0.5" transform="rotate(116 236.9 896.5)"/>
<ellipse cx="182.7" cy="873.4" rx="6.6" ry="3.9" fill="url(#grain)" stroke="#4a4840" stroke-width="0.5" transform="rotate(165 182.7 873.4)"/>
<ellipse cx="322.8" cy="859.1" rx="6.6" ry="3.9" fill="url(#grain)" stroke="#4a4840" stroke-width="0.5" transform="rotate(41 322.8 859.1)"/>
<ellipse cx="249.5" cy="816.4" rx="6.6" ry="3.9" fill="url(#grain)" stroke="#4a4840" stroke-width="0.5" transform="rotate(157 249.5 816.4)"/>
<ellipse cx="218.2" cy="762.5" rx="6.6" ry="3.9" fill="url(#grain)" stroke="#4a4840" stroke-width="0.5" transform="rotate(96 218.2 762.5)"/>
<ellipse cx="281.9" cy="763.9" rx="6.6" ry="3.9" fill="url(#grain2)" stroke="#4a4840" stroke-width="0.5" transform="rotate(96 281.9 763.9)"/>
<ellipse cx="271.6" cy="816.5" rx="6.6" ry="3.9" fill="url(#grain)" stroke="#4a4840" stroke-width="0.5" transform="rotate(46 271.6 816.5)"/>
<ellipse cx="316.4" cy="807.4" rx="6.6" ry="3.9" fill="url(#grain)" stroke="#4a4840" stroke-width="0.5" transform="rotate(29 316.4 807.4)"/>
<ellipse cx="182.6" cy="835.3" rx="6.6" ry="3.9" fill="url(#grain)" stroke="#4a4840" stroke-width="0.5" transform="rotate(14 182.6 835.3)"/>
<ellipse cx="292.6" cy="776.6" rx="6.6" ry="3.9" fill="url(#grain2)" stroke="#4a4840" stroke-width="0.5" transform="rotate(100 292.6 776.6)"/>
<ellipse cx="285.8" cy="780.1" rx="6.6" ry="3.9" fill="url(#grain)" stroke="#4a4840" stroke-width="0.5" transform="rotate(99 285.8 780.1)"/>
<ellipse cx="234.2" cy="856.8" rx="6.6" ry="3.9" fill="url(#grain2)" stroke="#4a4840" stroke-width="0.5" transform="rotate(115 234.2 856.8)"/>
<ellipse cx="229.8" cy="708.6" rx="6.6" ry="3.9" fill="url(#grain)" stroke="#4a4840" stroke-width="0.5" transform="rotate(152 229.8 708.6)"/>
<ellipse cx="278.9" cy="773.9" rx="6.6" ry="3.9" fill="url(#grain)" stroke="#4a4840" stroke-width="0.5" transform="rotate(135 278.9 773.9)"/>
<ellipse cx="269.4" cy="889.0" rx="6.6" ry="3.9" fill="url(#grain)" stroke="#4a4840" stroke-width="0.5" transform="rotate(129 269.4 889.0)"/>
<ellipse cx="245.6" cy="804.2" rx="6.6" ry="3.9" fill="url(#grain)" stroke="#4a4840" stroke-width="0.5" transform="rotate(12 245.6 804.2)"/>
<ellipse cx="326.7" cy="865.1" rx="6.6" ry="3.9" fill="url(#grain2)" stroke="#4a4840" stroke-width="0.5" transform="rotate(46 326.7 865.1)"/>
<ellipse cx="278.8" cy="817.6" rx="6.6" ry="3.9" fill="url(#grain)" stroke="#4a4840" stroke-width="0.5" transform="rotate(66 278.8 817.6)"/>
<ellipse cx="317.0" cy="748.2" rx="6.6" ry="3.9" fill="url(#grain)" stroke="#4a4840" stroke-width="0.5" transform="rotate(80 317.0 748.2)"/>
<ellipse cx="253.1" cy="724.0" rx="6.6" ry="3.9" fill="url(#grain)" stroke="#4a4840" stroke-width="0.5" transform="rotate(0 253.1 724.0)"/>
<ellipse cx="180.2" cy="815.7" rx="6.6" ry="3.9" fill="url(#grain)" stroke="#4a4840" stroke-width="0.5" transform="rotate(134 180.2 815.7)"/>
<ellipse cx="278.6" cy="714.8" rx="6.6" ry="3.9" fill="url(#grain)" stroke="#4a4840" stroke-width="0.5" transform="rotate(27 278.6 714.8)"/>
<ellipse cx="236.7" cy="890.2" rx="6.6" ry="3.9" fill="url(#grain)" stroke="#4a4840" stroke-width="0.5" transform="rotate(125 236.7 890.2)"/>
<ellipse cx="208.2" cy="775.7" rx="6.6" ry="3.9" fill="url(#grain)" stroke="#4a4840" stroke-width="0.5" transform="rotate(4 208.2 775.7)"/>
<ellipse cx="157.4" cy="797.5" rx="6.6" ry="3.9" fill="url(#grain)" stroke="#4a4840" stroke-width="0.5" transform="rotate(178 157.4 797.5)"/>
<ellipse cx="167.4" cy="813.3" rx="6.6" ry="3.9" fill="url(#grain2)" stroke="#4a4840" stroke-width="0.5" transform="rotate(168 167.4 813.3)"/>
<ellipse cx="174.7" cy="782.5" rx="6.6" ry="3.9" fill="url(#grain)" stroke="#4a4840" stroke-width="0.5" transform="rotate(6 174.7 782.5)"/>
<ellipse cx="257.0" cy="742.7" rx="6.6" ry="3.9" fill="url(#grain)" stroke="#4a4840" stroke-width="0.5" transform="rotate(160 257.0 742.7)"/>
<ellipse cx="335.1" cy="784.4" rx="6.6" ry="3.9" fill="url(#grain)" stroke="#4a4840" stroke-width="0.5" transform="rotate(28 335.1 784.4)"/>
<ellipse cx="230.9" cy="743.4" rx="6.6" ry="3.9" fill="url(#grain)" stroke="#4a4840" stroke-width="0.5" transform="rotate(138 230.9 743.4)"/>
<ellipse cx="265.8" cy="756.4" rx="6.6" ry="3.9" fill="url(#grain)" stroke="#4a4840" stroke-width="0.5" transform="rotate(23 265.8 756.4)"/>
<ellipse cx="230.2" cy="877.4" rx="6.6" ry="3.9" fill="url(#grain)" stroke="#4a4840" stroke-width="0.5" transform="rotate(84 230.2 877.4)"/>
<ellipse cx="228.7" cy="863.8" rx="6.6" ry="3.9" fill="url(#grain2)" stroke="#4a4840" stroke-width="0.5" transform="rotate(11 228.7 863.8)"/>
<ellipse cx="216.7" cy="862.9" rx="6.6" ry="3.9" fill="url(#grain)" stroke="#4a4840" stroke-width="0.5" transform="rotate(75 216.7 862.9)"/>
<ellipse cx="256.2" cy="881.3" rx="6.6" ry="3.9" fill="url(#grain)" stroke="#4a4840" stroke-width="0.5" transform="rotate(144 256.2 881.3)"/>
<ellipse cx="196.3" cy="777.6" rx="6.6" ry="3.9" fill="url(#grain)" stroke="#4a4840" stroke-width="0.5" transform="rotate(114 196.3 777.6)"/>
<ellipse cx="229.3" cy="883.9" rx="6.6" ry="3.9" fill="url(#grain)" stroke="#4a4840" stroke-width="0.5" transform="rotate(52 229.3 883.9)"/>
<ellipse cx="246.3" cy="755.5" rx="6.6" ry="3.9" fill="url(#grain2)" stroke="#4a4840" stroke-width="0.5" transform="rotate(105 246.3 755.5)"/>
<ellipse cx="276.2" cy="823.2" rx="6.6" ry="3.9" fill="url(#grain)" stroke="#4a4840" stroke-width="0.5" transform="rotate(60 276.2 823.2)"/>
<ellipse cx="230.1" cy="847.7" rx="6.6" ry="3.9" fill="url(#grain)" stroke="#4a4840" stroke-width="0.5" transform="rotate(125 230.1 847.7)"/>
<ellipse cx="173.9" cy="860.2" rx="6.6" ry="3.9" fill="url(#grain2)" stroke="#4a4840" stroke-width="0.5" transform="rotate(49 173.9 860.2)"/>
<ellipse cx="167.3" cy="835.9" rx="6.6" ry="3.9" fill="url(#grain2)" stroke="#4a4840" stroke-width="0.5" transform="rotate(3 167.3 835.9)"/>
<ellipse cx="324.0" cy="813.0" rx="6.6" ry="3.9" fill="url(#grain)" stroke="#4a4840" stroke-width="0.5" transform="rotate(98 324.0 813.0)"/>
<ellipse cx="147.3" cy="763.7" rx="6.6" ry="3.9" fill="url(#grain2)" stroke="#4a4840" stroke-width="0.5" transform="rotate(76 147.3 763.7)"/>
<ellipse cx="236.7" cy="837.6" rx="6.6" ry="3.9" fill="url(#grain)" stroke="#4a4840" stroke-width="0.5" transform="rotate(50 236.7 837.6)"/>
<ellipse cx="154.5" cy="826.3" rx="6.6" ry="3.9" fill="url(#grain)" stroke="#4a4840" stroke-width="0.5" transform="rotate(115 154.5 826.3)"/>
<ellipse cx="281.5" cy="798.4" rx="6.6" ry="3.9" fill="url(#grain2)" stroke="#4a4840" stroke-width="0.5" transform="rotate(87 281.5 798.4)"/>
<ellipse cx="268.9" cy="861.5" rx="6.6" ry="3.9" fill="url(#grain2)" stroke="#4a4840" stroke-width="0.5" transform="rotate(148 268.9 861.5)"/>
<ellipse cx="211.4" cy="758.8" rx="6.6" ry="3.9" fill="url(#grain)" stroke="#4a4840" stroke-width="0.5" transform="rotate(92 211.4 758.8)"/>
<ellipse cx="220.0" cy="831.0" rx="6.6" ry="3.9" fill="url(#grain2)" stroke="#4a4840" stroke-width="0.5" transform="rotate(30 220.0 831.0)"/>
<ellipse cx="211.3" cy="813.7" rx="6.6" ry="3.9" fill="url(#grain2)" stroke="#4a4840" stroke-width="0.5" transform="rotate(5 211.3 813.7)"/>
<ellipse cx="151.4" cy="737.7" rx="6.6" ry="3.9" fill="url(#grain2)" stroke="#4a4840" stroke-width="0.5" transform="rotate(105 151.4 737.7)"/>
<ellipse cx="261.1" cy="850.6" rx="6.6" ry="3.9" fill="url(#grain)" stroke="#4a4840" stroke-width="0.5" transform="rotate(1 261.1 850.6)"/>
<ellipse cx="215.0" cy="773.5" rx="6.6" ry="3.9" fill="url(#grain)" stroke="#4a4840" stroke-width="0.5" transform="rotate(93 215.0 773.5)"/>
<ellipse cx="226.7" cy="715.1" rx="6.6" ry="3.9" fill="url(#grain2)" stroke="#4a4840" stroke-width="0.5" transform="rotate(43 226.7 715.1)"/>
<ellipse cx="266.2" cy="738.6" rx="6.6" ry="3.9" fill="url(#grain)" stroke="#4a4840" stroke-width="0.5" transform="rotate(60 266.2 738.6)"/>
<ellipse cx="187.7" cy="794.3" rx="6.6" ry="3.9" fill="url(#grain)" stroke="#4a4840" stroke-width="0.5" transform="rotate(34 187.7 794.3)"/>
<ellipse cx="194.6" cy="755.6" rx="6.6" ry="3.9" fill="url(#grain2)" stroke="#4a4840" stroke-width="0.5" transform="rotate(58 194.6 755.6)"/>
<ellipse cx="335.6" cy="823.0" rx="6.6" ry="3.9" fill="url(#grain)" stroke="#4a4840" stroke-width="0.5" transform="rotate(10 335.6 823.0)"/>
<ellipse cx="235.4" cy="748.5" rx="6.6" ry="3.9" fill="url(#grain2)" stroke="#4a4840" stroke-width="0.5" transform="rotate(112 235.4 748.5)"/>
<ellipse cx="179.7" cy="756.0" rx="6.6" ry="3.9" fill="url(#grain)" stroke="#4a4840" stroke-width="0.5" transform="rotate(104 179.7 756.0)"/>
<ellipse cx="298.6" cy="881.5" rx="6.6" ry="3.9" fill="url(#grain)" stroke="#4a4840" stroke-width="0.5" transform="rotate(94 298.6 881.5)"/>
<ellipse cx="303.6" cy="760.5" rx="6.6" ry="3.9" fill="url(#grain2)" stroke="#4a4840" stroke-width="0.5" transform="rotate(93 303.6 760.5)"/>
<ellipse cx="286.7" cy="811.8" rx="6.6" ry="3.9" fill="url(#grain)" stroke="#4a4840" stroke-width="0.5" transform="rotate(84 286.7 811.8)"/>
<ellipse cx="265.6" cy="712.6" rx="6.6" ry="3.9" fill="url(#grain2)" stroke="#4a4840" stroke-width="0.5" transform="rotate(98 265.6 712.6)"/>
<ellipse cx="278.2" cy="840.7" rx="6.6" ry="3.9" fill="url(#grain)" stroke="#4a4840" stroke-width="0.5" transform="rotate(126 278.2 840.7)"/>
<ellipse cx="178.3" cy="767.7" rx="6.6" ry="3.9" fill="url(#grain)" stroke="#4a4840" stroke-width="0.5" transform="rotate(102 178.3 767.7)"/>
<ellipse cx="285.3" cy="905.6" rx="6.6" ry="3.9" fill="url(#grain)" stroke="#4a4840" stroke-width="0.5" transform="rotate(14 285.3 905.6)"/>
<ellipse cx="328.6" cy="817.0" rx="6.6" ry="3.9" fill="url(#grain)" stroke="#4a4840" stroke-width="0.5" transform="rotate(59 328.6 817.0)"/>
<ellipse cx="315.5" cy="858.5" rx="6.6" ry="3.9" fill="url(#grain)" stroke="#4a4840" stroke-width="0.5" transform="rotate(48 315.5 858.5)"/>
<ellipse cx="301.8" cy="749.0" rx="6.6" ry="3.9" fill="url(#grain)" stroke="#4a4840" stroke-width="0.5" transform="rotate(74 301.8 749.0)"/>
<ellipse cx="215.3" cy="709.8" rx="6.6" ry="3.9" fill="url(#grain)" stroke="#4a4840" stroke-width="0.5" transform="rotate(55 215.3 709.8)"/>
<ellipse cx="186.7" cy="742.4" rx="6.6" ry="3.9" fill="url(#grain2)" stroke="#4a4840" stroke-width="0.5" transform="rotate(21 186.7 742.4)"/>
<ellipse cx="204.8" cy="780.6" rx="6.6" ry="3.9" fill="url(#grain)" stroke="#4a4840" stroke-width="0.5" transform="rotate(177 204.8 780.6)"/>
<ellipse cx="162.8" cy="729.0" rx="6.6" ry="3.9" fill="url(#grain2)" stroke="#4a4840" stroke-width="0.5" transform="rotate(175 162.8 729.0)"/>
<ellipse cx="255.1" cy="858.4" rx="6.6" ry="3.9" fill="url(#grain)" stroke="#4a4840" stroke-width="0.5" transform="rotate(134 255.1 858.4)"/>
<ellipse cx="258.7" cy="788.0" rx="6.6" ry="3.9" fill="url(#grain2)" stroke="#4a4840" stroke-width="0.5" transform="rotate(150 258.7 788.0)"/>
<ellipse cx="259.3" cy="725.9" rx="6.6" ry="3.9" fill="url(#grain)" stroke="#4a4840" stroke-width="0.5" transform="rotate(49 259.3 725.9)"/>
<ellipse cx="323.4" cy="774.0" rx="6.6" ry="3.9" fill="url(#grain)" stroke="#4a4840" stroke-width="0.5" transform="rotate(79 323.4 774.0)"/>
<ellipse cx="250.3" cy="761.4" rx="6.6" ry="3.9" fill="url(#grain)" stroke="#4a4840" stroke-width="0.5" transform="rotate(98 250.3 761.4)"/>
<ellipse cx="312.8" cy="844.6" rx="6.6" ry="3.9" fill="url(#grain)" stroke="#4a4840" stroke-width="0.5" transform="rotate(38 312.8 844.6)"/>
<ellipse cx="256.1" cy="819.1" rx="6.6" ry="3.9" fill="url(#grain2)" stroke="#4a4840" stroke-width="0.5" transform="rotate(168 256.1 819.1)"/>
<ellipse cx="276.9" cy="740.1" rx="6.6" ry="3.9" fill="url(#grain2)" stroke="#4a4840" stroke-width="0.5" transform="rotate(101 276.9 740.1)"/>
<ellipse cx="276.7" cy="804.0" rx="6.6" ry="3.9" fill="url(#grain)" stroke="#4a4840" stroke-width="0.5" transform="rotate(167 276.7 804.0)"/>
<ellipse cx="236.3" cy="766.9" rx="6.6" ry="3.9" fill="url(#grain2)" stroke="#4a4840" stroke-width="0.5" transform="rotate(106 236.3 766.9)"/>
<ellipse cx="273.4" cy="846.2" rx="6.6" ry="3.9" fill="url(#grain)" stroke="#4a4840" stroke-width="0.5" transform="rotate(6 273.4 846.2)"/>
<ellipse cx="316.2" cy="765.6" rx="6.6" ry="3.9" fill="url(#grain2)" stroke="#4a4840" stroke-width="0.5" transform="rotate(165 316.2 765.6)"/>
<ellipse cx="264.8" cy="819.8" rx="6.6" ry="3.9" fill="url(#grain2)" stroke="#4a4840" stroke-width="0.5" transform="rotate(50 264.8 819.8)"/>
<ellipse cx="242.1" cy="761.5" rx="6.6" ry="3.9" fill="url(#grain2)" stroke="#4a4840" stroke-width="0.5" transform="rotate(70 242.1 761.5)"/>
<ellipse cx="161.1" cy="760.2" rx="6.6" ry="3.9" fill="url(#grain)" stroke="#4a4840" stroke-width="0.5" transform="rotate(84 161.1 760.2)"/>
<ellipse cx="326.1" cy="767.3" rx="6.6" ry="3.9" fill="url(#grain)" stroke="#4a4840" stroke-width="0.5" transform="rotate(168 326.1 767.3)"/>
<ellipse cx="251.3" cy="828.8" rx="6.6" ry="3.9" fill="url(#grain)" stroke="#4a4840" stroke-width="0.5" transform="rotate(87 251.3 828.8)"/>
<ellipse cx="278.5" cy="878.8" rx="6.6" ry="3.9" fill="url(#grain2)" stroke="#4a4840" stroke-width="0.5" transform="rotate(45 278.5 878.8)"/>
<ellipse cx="221.9" cy="695.9" rx="6.6" ry="3.9" fill="url(#grain2)" stroke="#4a4840" stroke-width="0.5" transform="rotate(168 221.9 695.9)"/>
<ellipse cx="240.8" cy="856.4" rx="6.6" ry="3.9" fill="url(#grain2)" stroke="#4a4840" stroke-width="0.5" transform="rotate(155 240.8 856.4)"/>
<ellipse cx="169.9" cy="748.6" rx="6.6" ry="3.9" fill="url(#grain)" stroke="#4a4840" stroke-width="0.5" transform="rotate(112 169.9 748.6)"/>
<ellipse cx="266.1" cy="703.3" rx="6.6" ry="3.9" fill="url(#grain)" stroke="#4a4840" stroke-width="0.5" transform="rotate(83 266.1 703.3)"/>
<ellipse cx="275.3" cy="892.4" rx="6.6" ry="3.9" fill="url(#grain)" stroke="#4a4840" stroke-width="0.5" transform="rotate(143 275.3 892.4)"/>
<ellipse cx="240.4" cy="867.8" rx="6.6" ry="3.9" fill="url(#grain)" stroke="#4a4840" stroke-width="0.5" transform="rotate(150 240.4 867.8)"/>
<ellipse cx="233.2" cy="784.2" rx="6.6" ry="3.9" fill="url(#grain)" stroke="#4a4840" stroke-width="0.5" transform="rotate(14 233.2 784.2)"/>
<ellipse cx="200.1" cy="803.5" rx="6.6" ry="3.9" fill="url(#grain)" stroke="#4a4840" stroke-width="0.5" transform="rotate(109 200.1 803.5)"/>
<ellipse cx="247.0" cy="837.5" rx="6.6" ry="3.9" fill="url(#grain)" stroke="#4a4840" stroke-width="0.5" transform="rotate(178 247.0 837.5)"/>
<ellipse cx="182.2" cy="852.8" rx="6.6" ry="3.9" fill="url(#grain)" stroke="#4a4840" stroke-width="0.5" transform="rotate(154 182.2 852.8)"/>
<ellipse cx="299.2" cy="857.4" rx="6.6" ry="3.9" fill="url(#grain2)" stroke="#4a4840" stroke-width="0.5" transform="rotate(8 299.2 857.4)"/>
<ellipse cx="246.1" cy="728.8" rx="6.6" ry="3.9" fill="url(#grain)" stroke="#4a4840" stroke-width="0.5" transform="rotate(82 246.1 728.8)"/>
<ellipse cx="197.0" cy="815.6" rx="6.6" ry="3.9" fill="url(#grain)" stroke="#4a4840" stroke-width="0.5" transform="rotate(100 197.0 815.6)"/>
<ellipse cx="257.9" cy="718.7" rx="6.6" ry="3.9" fill="url(#grain)" stroke="#4a4840" stroke-width="0.5" transform="rotate(125 257.9 718.7)"/>
<ellipse cx="199.6" cy="717.0" rx="6.6" ry="3.9" fill="url(#grain)" stroke="#4a4840" stroke-width="0.5" transform="rotate(65 199.6 717.0)"/>
<ellipse cx="310.0" cy="876.3" rx="6.6" ry="3.9" fill="url(#grain)" stroke="#4a4840" stroke-width="0.5" transform="rotate(97 310.0 876.3)"/>
<ellipse cx="224.0" cy="786.6" rx="6.6" ry="3.9" fill="url(#grain2)" stroke="#4a4840" stroke-width="0.5" transform="rotate(68 224.0 786.6)"/>
<ellipse cx="285.5" cy="789.4" rx="6.6" ry="3.9" fill="url(#grain)" stroke="#4a4840" stroke-width="0.5" transform="rotate(72 285.5 789.4)"/>
<ellipse cx="302.8" cy="872.5" rx="6.6" ry="3.9" fill="url(#grain)" stroke="#4a4840" stroke-width="0.5" transform="rotate(20 302.8 872.5)"/>
<ellipse cx="297.3" cy="813.4" rx="6.6" ry="3.9" fill="url(#grain2)" stroke="#4a4840" stroke-width="0.5" transform="rotate(128 297.3 813.4)"/>
<ellipse cx="296.5" cy="850.2" rx="6.6" ry="3.9" fill="url(#grain)" stroke="#4a4840" stroke-width="0.5" transform="rotate(97 296.5 850.2)"/>
<ellipse cx="250.8" cy="897.8" rx="6.6" ry="3.9" fill="url(#grain2)" stroke="#4a4840" stroke-width="0.5" transform="rotate(109 250.8 897.8)"/>
<ellipse cx="316.9" cy="784.8" rx="6.6" ry="3.9" fill="url(#grain)" stroke="#4a4840" stroke-width="0.5" transform="rotate(179 316.9 784.8)"/>
<ellipse cx="290.0" cy="832.1" rx="6.6" ry="3.9" fill="url(#grain)" stroke="#4a4840" stroke-width="0.5" transform="rotate(11 290.0 832.1)"/>
<ellipse cx="180.0" cy="842.0" rx="6.6" ry="3.9" fill="url(#grain)" stroke="#4a4840" stroke-width="0.5" transform="rotate(6 180.0 842.0)"/>
<ellipse cx="240.2" cy="819.3" rx="6.6" ry="3.9" fill="url(#grain)" stroke="#4a4840" stroke-width="0.5" transform="rotate(67 240.2 819.3)"/>
<ellipse cx="211.7" cy="752.5" rx="6.6" ry="3.9" fill="url(#grain)" stroke="#4a4840" stroke-width="0.5" transform="rotate(23 211.7 752.5)"/>
<ellipse cx="238.3" cy="707.0" rx="6.6" ry="3.9" fill="url(#grain)" stroke="#4a4840" stroke-width="0.5" transform="rotate(162 238.3 707.0)"/>
<ellipse cx="328.1" cy="841.0" rx="6.6" ry="3.9" fill="url(#grain)" stroke="#4a4840" stroke-width="0.5" transform="rotate(69 328.1 841.0)"/>
<ellipse cx="193.1" cy="876.3" rx="6.6" ry="3.9" fill="url(#grain)" stroke="#4a4840" stroke-width="0.5" transform="rotate(158 193.1 876.3)"/>
<ellipse cx="312.2" cy="815.0" rx="6.6" ry="3.9" fill="url(#grain)" stroke="#4a4840" stroke-width="0.5" transform="rotate(136 312.2 815.0)"/>
<ellipse cx="300.2" cy="839.6" rx="6.6" ry="3.9" fill="url(#grain2)" stroke="#4a4840" stroke-width="0.5" transform="rotate(44 300.2 839.6)"/>
<ellipse cx="191.9" cy="810.9" rx="6.6" ry="3.9" fill="url(#grain)" stroke="#4a4840" stroke-width="0.5" transform="rotate(114 191.9 810.9)"/>
<ellipse cx="225.5" cy="762.3" rx="6.6" ry="3.9" fill="url(#grain)" stroke="#4a4840" stroke-width="0.5" transform="rotate(130 225.5 762.3)"/>
<ellipse cx="163.2" cy="847.6" rx="6.6" ry="3.9" fill="url(#grain2)" stroke="#4a4840" stroke-width="0.5" transform="rotate(142 163.2 847.6)"/>
<ellipse cx="192.0" cy="832.8" rx="6.6" ry="3.9" fill="url(#grain)" stroke="#4a4840" stroke-width="0.5" transform="rotate(157 192.0 832.8)"/>
<ellipse cx="287.8" cy="824.7" rx="6.6" ry="3.9" fill="url(#grain2)" stroke="#4a4840" stroke-width="0.5" transform="rotate(45 287.8 824.7)"/>
<ellipse cx="297.5" cy="729.1" rx="6.6" ry="3.9" fill="url(#grain)" stroke="#4a4840" stroke-width="0.5" transform="rotate(4 297.5 729.1)"/>
<ellipse cx="160.5" cy="840.8" rx="6.6" ry="3.9" fill="url(#grain)" stroke="#4a4840" stroke-width="0.5" transform="rotate(54 160.5 840.8)"/>
<ellipse cx="257.4" cy="827.8" rx="6.6" ry="3.9" fill="url(#grain2)" stroke="#4a4840" stroke-width="0.5" transform="rotate(37 257.4 827.8)"/>
<ellipse cx="214.3" cy="854.6" rx="6.6" ry="3.9" fill="url(#grain2)" stroke="#4a4840" stroke-width="0.5" transform="rotate(18 214.3 854.6)"/>
<ellipse cx="222.4" cy="797.4" rx="6.6" ry="3.9" fill="url(#grain2)" stroke="#4a4840" stroke-width="0.5" transform="rotate(60 222.4 797.4)"/>
<ellipse cx="238.1" cy="794.1" rx="6.6" ry="3.9" fill="url(#grain)" stroke="#4a4840" stroke-width="0.5" transform="rotate(68 238.1 794.1)"/>
<ellipse cx="225.3" cy="771.6" rx="6.6" ry="3.9" fill="url(#grain)" stroke="#4a4840" stroke-width="0.5" transform="rotate(112 225.3 771.6)"/>
<ellipse cx="248.3" cy="884.7" rx="6.6" ry="3.9" fill="url(#grain)" stroke="#4a4840" stroke-width="0.5" transform="rotate(9 248.3 884.7)"/>
<ellipse cx="193.4" cy="823.3" rx="6.6" ry="3.9" fill="url(#grain)" stroke="#4a4840" stroke-width="0.5" transform="rotate(163 193.4 823.3)"/>
<ellipse cx="315.3" cy="776.9" rx="6.6" ry="3.9" fill="url(#grain)" stroke="#4a4840" stroke-width="0.5" transform="rotate(102 315.3 776.9)"/>
<ellipse cx="302.2" cy="827.3" rx="6.6" ry="3.9" fill="url(#grain)" stroke="#4a4840" stroke-width="0.5" transform="rotate(64 302.2 827.3)"/>
<ellipse cx="280.6" cy="866.2" rx="6.6" ry="3.9" fill="url(#grain2)" stroke="#4a4840" stroke-width="0.5" transform="rotate(2 280.6 866.2)"/>
<ellipse cx="272.6" cy="715.4" rx="6.6" ry="3.9" fill="url(#grain2)" stroke="#4a4840" stroke-width="0.5" transform="rotate(48 272.6 715.4)"/>
<ellipse cx="215.7" cy="880.5" rx="6.6" ry="3.9" fill="url(#grain2)" stroke="#4a4840" stroke-width="0.5" transform="rotate(13 215.7 880.5)"/>
<ellipse cx="229.5" cy="700.3" rx="6.6" ry="3.9" fill="url(#grain2)" stroke="#4a4840" stroke-width="0.5" transform="rotate(150 229.5 700.3)"/>
<ellipse cx="196.2" cy="731.7" rx="6.6" ry="3.9" fill="url(#grain)" stroke="#4a4840" stroke-width="0.5" transform="rotate(92 196.2 731.7)"/>
<ellipse cx="216.4" cy="837.5" rx="6.6" ry="3.9" fill="url(#grain2)" stroke="#4a4840" stroke-width="0.5" transform="rotate(135 216.4 837.5)"/>
<ellipse cx="205.7" cy="816.9" rx="6.6" ry="3.9" fill="url(#grain2)" stroke="#4a4840" stroke-width="0.5" transform="rotate(40 205.7 816.9)"/>
<ellipse cx="195.9" cy="712.1" rx="6.6" ry="3.9" fill="url(#grain)" stroke="#4a4840" stroke-width="0.5" transform="rotate(6 195.9 712.1)"/>
<ellipse cx="269.0" cy="782.3" rx="6.6" ry="3.9" fill="url(#grain)" stroke="#4a4840" stroke-width="0.5" transform="rotate(0 269.0 782.3)"/>
<ellipse cx="250.8" cy="737.5" rx="6.6" ry="3.9" fill="url(#grain2)" stroke="#4a4840" stroke-width="0.5" transform="rotate(83 250.8 737.5)"/>
<ellipse cx="224.9" cy="873.9" rx="6.6" ry="3.9" fill="url(#grain2)" stroke="#4a4840" stroke-width="0.5" transform="rotate(152 224.9 873.9)"/>
<ellipse cx="274.3" cy="854.2" rx="6.6" ry="3.9" fill="url(#grain2)" stroke="#4a4840" stroke-width="0.5" transform="rotate(9 274.3 854.2)"/>
<ellipse cx="150.7" cy="755.0" rx="6.6" ry="3.9" fill="url(#grain)" stroke="#4a4840" stroke-width="0.5" transform="rotate(35 150.7 755.0)"/>
<ellipse cx="229.7" cy="870.0" rx="6.6" ry="3.9" fill="url(#grain)" stroke="#4a4840" stroke-width="0.5" transform="rotate(93 229.7 870.0)"/>
<ellipse cx="229.1" cy="824.3" rx="6.6" ry="3.9" fill="url(#grain2)" stroke="#4a4840" stroke-width="0.5" transform="rotate(74 229.1 824.3)"/>
<ellipse cx="284.0" cy="720.9" rx="6.6" ry="3.9" fill="url(#grain2)" stroke="#4a4840" stroke-width="0.5" transform="rotate(39 284.0 720.9)"/>
<ellipse cx="210.7" cy="873.8" rx="6.6" ry="3.9" fill="url(#grain)" stroke="#4a4840" stroke-width="0.5" transform="rotate(166 210.7 873.8)"/>
<ellipse cx="243.3" cy="781.5" rx="6.6" ry="3.9" fill="url(#grain2)" stroke="#4a4840" stroke-width="0.5" transform="rotate(94 243.3 781.5)"/>
<ellipse cx="285.5" cy="899.1" rx="6.6" ry="3.9" fill="url(#grain)" stroke="#4a4840" stroke-width="0.5" transform="rotate(94 285.5 899.1)"/>
<ellipse cx="307.6" cy="777.3" rx="6.6" ry="3.9" fill="url(#grain)" stroke="#4a4840" stroke-width="0.5" transform="rotate(106 307.6 777.3)"/>
<ellipse cx="273.2" cy="911.8" rx="6.6" ry="3.9" fill="url(#grain)" stroke="#4a4840" stroke-width="0.5" transform="rotate(142 273.2 911.8)"/>
<ellipse cx="176.1" cy="718.9" rx="6.6" ry="3.9" fill="url(#grain)" stroke="#4a4840" stroke-width="0.5" transform="rotate(98 176.1 718.9)"/>
<ellipse cx="264.8" cy="840.6" rx="6.6" ry="3.9" fill="url(#grain2)" stroke="#4a4840" stroke-width="0.5" transform="rotate(118 264.8 840.6)"/>
<ellipse cx="306.4" cy="832.5" rx="6.6" ry="3.9" fill="url(#grain)" stroke="#4a4840" stroke-width="0.5" transform="rotate(133 306.4 832.5)"/>
<ellipse cx="320.2" cy="802.3" rx="6.6" ry="3.9" fill="url(#grain2)" stroke="#4a4840" stroke-width="0.5" transform="rotate(93 320.2 802.3)"/>
<ellipse cx="157.9" cy="733.3" rx="6.6" ry="3.9" fill="url(#grain)" stroke="#4a4840" stroke-width="0.5" transform="rotate(45 157.9 733.3)"/>
<ellipse cx="180.1" cy="774.2" rx="6.6" ry="3.9" fill="url(#grain)" stroke="#4a4840" stroke-width="0.5" transform="rotate(91 180.1 774.2)"/>
<ellipse cx="221.7" cy="728.2" rx="6.6" ry="3.9" fill="url(#grain)" stroke="#4a4840" stroke-width="0.5" transform="rotate(126 221.7 728.2)"/>
<ellipse cx="289.8" cy="891.4" rx="6.6" ry="3.9" fill="url(#grain2)" stroke="#4a4840" stroke-width="0.5" transform="rotate(117 289.8 891.4)"/>
<ellipse cx="328.1" cy="781.9" rx="6.6" ry="3.9" fill="url(#grain2)" stroke="#4a4840" stroke-width="0.5" transform="rotate(105 328.1 781.9)"/>
<ellipse cx="233.1" cy="772.7" rx="6.6" ry="3.9" fill="url(#grain)" stroke="#4a4840" stroke-width="0.5" transform="rotate(105 233.1 772.7)"/>
<ellipse cx="243.8" cy="843.3" rx="6.6" ry="3.9" fill="url(#grain2)" stroke="#4a4840" stroke-width="0.5" transform="rotate(86 243.8 843.3)"/>
<ellipse cx="300.8" cy="846.0" rx="6.6" ry="3.9" fill="url(#grain)" stroke="#4a4840" stroke-width="0.5" transform="rotate(143 300.8 846.0)"/>
<ellipse cx="181.5" cy="731.8" rx="6.6" ry="3.9" fill="url(#grain)" stroke="#4a4840" stroke-width="0.5" transform="rotate(106 181.5 731.8)"/>
<ellipse cx="209.6" cy="742.1" rx="6.6" ry="3.9" fill="url(#grain)" stroke="#4a4840" stroke-width="0.5" transform="rotate(31 209.6 742.1)"/>
<ellipse cx="302.4" cy="865.8" rx="6.6" ry="3.9" fill="url(#grain)" stroke="#4a4840" stroke-width="0.5" transform="rotate(24 302.4 865.8)"/>
<ellipse cx="201.1" cy="696.0" rx="6.6" ry="3.9" fill="url(#grain)" stroke="#4a4840" stroke-width="0.5" transform="rotate(14 201.1 696.0)"/>
<ellipse cx="179.8" cy="793.0" rx="6.6" ry="3.9" fill="url(#grain)" stroke="#4a4840" stroke-width="0.5" transform="rotate(35 179.8 793.0)"/>
<ellipse cx="229.9" cy="903.3" rx="6.6" ry="3.9" fill="url(#grain)" stroke="#4a4840" stroke-width="0.5" transform="rotate(4 229.9 903.3)"/>
<ellipse cx="306.6" cy="801.0" rx="6.6" ry="3.9" fill="url(#grain)" stroke="#4a4840" stroke-width="0.5" transform="rotate(166 306.6 801.0)"/>
<ellipse cx="297.6" cy="773.3" rx="6.6" ry="3.9" fill="url(#grain)" stroke="#4a4840" stroke-width="0.5" transform="rotate(91 297.6 773.3)"/>
<ellipse cx="240.1" cy="719.4" rx="6.6" ry="3.9" fill="url(#grain2)" stroke="#4a4840" stroke-width="0.5" transform="rotate(37 240.1 719.4)"/>
<ellipse cx="185.8" cy="857.6" rx="6.6" ry="3.9" fill="url(#grain)" stroke="#4a4840" stroke-width="0.5" transform="rotate(129 185.8 857.6)"/>
<ellipse cx="252.8" cy="809.5" rx="6.6" ry="3.9" fill="url(#grain2)" stroke="#4a4840" stroke-width="0.5" transform="rotate(103 252.8 809.5)"/>
<ellipse cx="196.5" cy="764.8" rx="6.6" ry="3.9" fill="url(#grain)" stroke="#4a4840" stroke-width="0.5" transform="rotate(115 196.5 764.8)"/>
<ellipse cx="276.2" cy="833.0" rx="6.6" ry="3.9" fill="url(#grain)" stroke="#4a4840" stroke-width="0.5" transform="rotate(2 276.2 833.0)"/>
<ellipse cx="187.7" cy="762.8" rx="6.6" ry="3.9" fill="url(#grain2)" stroke="#4a4840" stroke-width="0.5" transform="rotate(52 187.7 762.8)"/>
<ellipse cx="184.6" cy="714.2" rx="6.6" ry="3.9" fill="url(#grain)" stroke="#4a4840" stroke-width="0.5" transform="rotate(103 184.6 714.2)"/>
<ellipse cx="264.0" cy="884.6" rx="6.6" ry="3.9" fill="url(#grain)" stroke="#4a4840" stroke-width="0.5" transform="rotate(103 264.0 884.6)"/>
<ellipse cx="252.7" cy="696.8" rx="6.6" ry="3.9" fill="url(#grain2)" stroke="#4a4840" stroke-width="0.5" transform="rotate(139 252.7 696.8)"/>
<ellipse cx="260.5" cy="801.6" rx="6.6" ry="3.9" fill="url(#grain)" stroke="#4a4840" stroke-width="0.5" transform="rotate(123 260.5 801.6)"/>
<ellipse cx="310.4" cy="855.1" rx="6.6" ry="3.9" fill="url(#grain)" stroke="#4a4840" stroke-width="0.5" transform="rotate(42 310.4 855.1)"/>
<ellipse cx="234.1" cy="832.1" rx="6.6" ry="3.9" fill="url(#grain)" stroke="#4a4840" stroke-width="0.5" transform="rotate(49 234.1 832.1)"/>
<ellipse cx="168.1" cy="759.7" rx="6.6" ry="3.9" fill="url(#grain)" stroke="#4a4840" stroke-width="0.5" transform="rotate(75 168.1 759.7)"/>
<ellipse cx="200.7" cy="855.2" rx="6.6" ry="3.9" fill="url(#grain2)" stroke="#4a4840" stroke-width="0.5" transform="rotate(120 200.7 855.2)"/>
<ellipse cx="236.2" cy="862.5" rx="6.6" ry="3.9" fill="url(#grain)" stroke="#4a4840" stroke-width="0.5" transform="rotate(98 236.2 862.5)"/>
<ellipse cx="303.1" cy="732.6" rx="6.6" ry="3.9" fill="url(#grain2)" stroke="#4a4840" stroke-width="0.5" transform="rotate(37 303.1 732.6)"/>
<ellipse cx="235.6" cy="850.9" rx="6.6" ry="3.9" fill="url(#grain)" stroke="#4a4840" stroke-width="0.5" transform="rotate(28 235.6 850.9)"/>
</g>
<ellipse cx="204" cy="699" rx="5" ry="3" fill="#7cc47a"/>
<ellipse cx="198" cy="777" rx="3" ry="5.5" fill="#6fbf6f" transform="rotate(20 198 777)"/>
<ellipse cx="226" cy="887" rx="5" ry="3" fill="#6fbf6f" transform="rotate(30 226 887)"/>
<rect x="2.1" y="37.3" width="522.3" height="49.3" fill="#ffff00" stroke="#000" stroke-width="2.2" />
<text x="44" y="71" font-size="31" text-anchor="start" fill="#000" stroke="#000" stroke-width="0.35" textLength="438" lengthAdjust="spacingAndGlyphs" >UAV-based multispectral imagery</text>
<rect x="14.6" y="467.5" width="193.3" height="48.4" fill="#ffff00" stroke="#000" stroke-width="2.2" />
<text x="45.5" y="501" font-size="31" text-anchor="start" fill="#000" stroke="#000" stroke-width="0.35" textLength="131.5" lengthAdjust="spacingAndGlyphs" >Prediction</text>
<polygon points="237.5,460.5 272,460.5 272,512 288.5,512 255,545 220.5,512 237.5,512" fill="#ffff00" stroke="#000" stroke-width="2"/>
<rect x="150.8" y="615.8" width="212.1" height="47.5" fill="#ffff00" stroke="#000" stroke-width="2.2" />
<text x="194" y="649" font-size="31" text-anchor="start" fill="#000" stroke="#000" stroke-width="0.35" textLength="125" lengthAdjust="spacingAndGlyphs" >Rice yield</text>
<rect x="2.1" y="935.7" width="504.8" height="47.7" fill="#ffff00" stroke="#000" stroke-width="2.2" />
<text x="66.5" y="967.7" font-size="31" text-anchor="start" fill="#000" stroke="#000" stroke-width="0.35" textLength="376.4" lengthAdjust="spacingAndGlyphs" >Rice quality (protein content)</text>
<rect x="621.5" y="17.7" width="369.1" height="48.2" fill="#ffff00" stroke="#000" stroke-width="2.2" />
<text x="680.5" y="52" font-size="31" text-anchor="start" fill="#000" stroke="#000" stroke-width="0.35" textLength="251" lengthAdjust="spacingAndGlyphs" >Regression analysis</text>
<rect x="598.4" y="77.4" width="408.80000000000007" height="259.9" fill="none" stroke="#000" stroke-width="1.5"/>
<line x1="593.4" y1="337.3" x2="598.4" y2="337.3" stroke="#000" stroke-width="1.2" />
<text x="589.8" y="341.8" font-size="13.5" text-anchor="end" fill="#222" stroke="#222" stroke-width="0.2" textLength="17.4" lengthAdjust="spacingAndGlyphs" >0.8</text>
<line x1="593.4" y1="311.31" x2="598.4" y2="311.31" stroke="#000" stroke-width="1.2" />
<text x="589.8" y="315.81" font-size="13.5" text-anchor="end" fill="#222" stroke="#222" stroke-width="0.2" textLength="17.4" lengthAdjust="spacingAndGlyphs" >0.9</text>
<line x1="593.4" y1="285.32" x2="598.4" y2="285.32" stroke="#000" stroke-width="1.2" />
<text x="589.8" y="289.82" font-size="13.5" text-anchor="end" fill="#222" stroke="#222" stroke-width="0.2" textLength="17.4" lengthAdjust="spacingAndGlyphs" >1.0</text>
<line x1="593.4" y1="259.33" x2="598.4" y2="259.33" stroke="#000" stroke-width="1.2" />
<text x="589.8" y="263.83" font-size="13.5" text-anchor="end" fill="#222" stroke="#222" stroke-width="0.2" textLength="17.4" lengthAdjust="spacingAndGlyphs" >1.1</text>
<line x1="593.4" y1="233.34" x2="598.4" y2="233.34" stroke="#000" stroke-width="1.2" />
<text x="589.8" y="237.84" font-size="13.5" text-anchor="end" fill="#222" stroke="#222" stroke-width="0.2" textLength="17.4" lengthAdjust="spacingAndGlyphs" >1.2</text>
<line x1="593.4" y1="207.35" x2="598.4" y2="207.35" stroke="#000" stroke-width="1.2" />
<text x="589.8" y="211.85" font-size="13.5" text-anchor="end" fill="#222" stroke="#222" stroke-width="0.2" textLength="17.4" lengthAdjust="spacingAndGlyphs" >1.3</text>
<line x1="593.4" y1="181.36" x2="598.4" y2="181.36" stroke="#000" stroke-width="1.2" />
<text x="589.8" y="185.86" font-size="13.5" text-anchor="end" fill="#222" stroke="#222" stroke-width="0.2" textLength="17.4" lengthAdjust="spacingAndGlyphs" >1.4</text>
<line x1="593.4" y1="155.37" x2="598.4" y2="155.37" stroke="#000" stroke-width="1.2" />
<text x="589.8" y="159.87" font-size="13.5" text-anchor="end" fill="#222" stroke="#222" stroke-width="0.2" textLength="17.4" lengthAdjust="spacingAndGlyphs" >1.5</text>
<line x1="593.4" y1="129.38" x2="598.4" y2="129.38" stroke="#000" stroke-width="1.2" />
<text x="589.8" y="133.88" font-size="13.5" text-anchor="end" fill="#222" stroke="#222" stroke-width="0.2" textLength="17.4" lengthAdjust="spacingAndGlyphs" >1.6</text>
<line x1="593.4" y1="103.39" x2="598.4" y2="103.39" stroke="#000" stroke-width="1.2" />
<text x="589.8" y="107.89" font-size="13.5" text-anchor="end" fill="#222" stroke="#222" stroke-width="0.2" textLength="17.4" lengthAdjust="spacingAndGlyphs" >1.7</text>
<line x1="593.4" y1="77.4" x2="598.4" y2="77.4" stroke="#000" stroke-width="1.2" />
<text x="589.8" y="81.9" font-size="13.5" text-anchor="end" fill="#222" stroke="#222" stroke-width="0.2" textLength="17.4" lengthAdjust="spacingAndGlyphs" >1.8</text>
<line x1="632.1" y1="337.3" x2="632.1" y2="342.3" stroke="#000" stroke-width="1.2" />
<text x="632.1" y="354.8" font-size="14" text-anchor="middle" fill="#222" stroke="#222" stroke-width="0.2" textLength="28.3" lengthAdjust="spacingAndGlyphs" >2018</text>
<line x1="700.4" y1="337.3" x2="700.4" y2="342.3" stroke="#000" stroke-width="1.2" />
<text x="700.4" y="354.8" font-size="14" text-anchor="middle" fill="#222" stroke="#222" stroke-width="0.2" textLength="28.3" lengthAdjust="spacingAndGlyphs" >2019</text>
<line x1="768.7" y1="337.3" x2="768.7" y2="342.3" stroke="#000" stroke-width="1.2" />
<text x="768.7" y="354.8" font-size="14" text-anchor="middle" fill="#222" stroke="#222" stroke-width="0.2" textLength="28.3" lengthAdjust="spacingAndGlyphs" >2020</text>
<line x1="837.2" y1="337.3" x2="837.2" y2="342.3" stroke="#000" stroke-width="1.2" />
<text x="837.2" y="354.8" font-size="14" text-anchor="middle" fill="#222" stroke="#222" stroke-width="0.2" textLength="59.9" lengthAdjust="spacingAndGlyphs" >2018+2019</text>
<line x1="905.5" y1="337.3" x2="905.5" y2="342.3" stroke="#000" stroke-width="1.2" />
<text x="905.5" y="354.8" font-size="14" text-anchor="middle" fill="#222" stroke="#222" stroke-width="0.2" textLength="59.9" lengthAdjust="spacingAndGlyphs" >2018+2020</text>
<line x1="973.4" y1="337.3" x2="973.4" y2="342.3" stroke="#000" stroke-width="1.2" />
<text x="973.4" y="354.8" font-size="14" text-anchor="middle" fill="#222" stroke="#222" stroke-width="0.2" textLength="59.9" lengthAdjust="spacingAndGlyphs" >2019+2020</text>
<text x="802.2" y="385.7" font-size="15.5" text-anchor="middle" fill="#222" stroke="#222" stroke-width="0.2" textLength="37.1" lengthAdjust="spacingAndGlyphs" >Years</text>
<text transform="translate(561.5,219.8) rotate(-90)" font-size="15.5" text-anchor="middle" fill="#222" textLength="229.8" lengthAdjust="spacingAndGlyphs">Variance importance in projetion</text>
<rect x="615.45" y="83.85" width="9.5" height="9.5" fill="#000"/>
<text x="645.4" y="93.8" font-size="15.4" text-anchor="start" fill="#222" stroke="#222" stroke-width="0.2" textLength="54.45" lengthAdjust="spacingAndGlyphs" >GNDVI</text>
<circle cx="620.2" cy="111.8" r="5.05" fill="#f00"/>
<text x="645.4" y="117" font-size="15.4" text-anchor="start" fill="#222" stroke="#222" stroke-width="0.2" textLength="46" lengthAdjust="spacingAndGlyphs" >NDRE</text>
<polygon points="620.2,129.45 625.75,139.75 614.65,139.75" fill="#00f"/>
<text x="645.4" y="140.2" font-size="15.4" text-anchor="start" fill="#222" stroke="#222" stroke-width="0.2" textLength="70.38" lengthAdjust="spacingAndGlyphs" >CIrededge</text>
<polygon points="620.2,163.75 625.75,153.45 614.65,153.45" fill="#f0f"/>
<text x="645.4" y="163.4" font-size="15.4" text-anchor="start" fill="#222" stroke="#222" stroke-width="0.2" textLength="42.24" lengthAdjust="spacingAndGlyphs" >GDVI</text>
<polygon points="620.2,175.65 625.95,181.4 620.2,187.15 614.45,181.4" fill="#008000"/>
<text x="645.4" y="186.6" font-size="15.4" text-anchor="start" fill="#222" stroke="#222" stroke-width="0.2" textLength="65.72" lengthAdjust="spacingAndGlyphs" >GRNDVI</text>
<polygon points="614.95,204.6 624.95,199.35 624.95,209.85" fill="#000080"/>
<text x="645.4" y="209.8" font-size="15.4" text-anchor="start" fill="#222" stroke="#222" stroke-width="0.2" textLength="42.25" lengthAdjust="spacingAndGlyphs" >MTCI</text>
<rect x="627.35" y="280.57" width="9.5" height="9.5" fill="#000"/>
<circle cx="632.1" cy="285.32" r="5.05" fill="#f00"/>
<polygon points="632.1,282.37 637.65,292.67 626.55,292.67" fill="#00f"/>
<polygon points="632.1,297.37 637.65,287.07 626.55,287.07" fill="#f0f"/>
<polygon points="632.1,289.97 637.85,295.72 632.1,301.47 626.35,295.72" fill="#008000"/>
<polygon points="626.85,259.33 636.85,254.08 636.85,264.58" fill="#000080"/>
<rect x="695.65" y="252.76" width="9.5" height="9.5" fill="#000"/>
<circle cx="700.4" cy="320.41" r="5.05" fill="#f00"/>
<polygon points="700.4,308.36 705.95,318.66 694.85,318.66" fill="#00f"/>
<polygon points="700.4,323.36 705.95,313.06 694.85,313.06" fill="#f0f"/>
<polygon points="700.4,299.06 706.15,304.81 700.4,310.56 694.65,304.81" fill="#008000"/>
<polygon points="695.15,215.15 705.15,209.9 705.15,220.4" fill="#000080"/>
<rect x="763.95" y="326.05" width="9.5" height="9.5" fill="#000"/>
<circle cx="768.7" cy="274.92" r="5.05" fill="#f00"/>
<polygon points="768.7,270.67 774.25,280.97 763.15,280.97" fill="#00f"/>
<polygon points="768.7,283.07 774.25,272.77 763.15,272.77" fill="#f0f"/>
<polygon points="768.7,276.97 774.45,282.72 768.7,288.47 762.95,282.72" fill="#008000"/>
<polygon points="763.45,271.03 773.45,265.78 773.45,276.28" fill="#000080"/>
<rect x="832.45" y="322.15" width="9.5" height="9.5" fill="#000"/>
<circle cx="837.2" cy="297.02" r="5.05" fill="#f00"/>
<polygon points="837.2,292.77 842.75,303.07 831.65,303.07" fill="#00f"/>
<polygon points="837.2,316.86 842.75,306.56 831.65,306.56" fill="#f0f"/>
<polygon points="837.2,273.07 842.95,278.82 837.2,284.57 831.45,278.82" fill="#008000"/>
<polygon points="831.95,216.45 841.95,211.2 841.95,221.7" fill="#000080"/>
<rect x="900.75" y="327.35" width="9.5" height="9.5" fill="#000"/>
<circle cx="905.5" cy="274.92" r="5.05" fill="#f00"/>
<polygon points="905.5,274.57 911.05,284.87 899.95,284.87" fill="#00f"/>
<polygon points="905.5,280.47 911.05,270.17 899.95,270.17" fill="#f0f"/>
<polygon points="905.5,274.37 911.25,280.12 905.5,285.87 899.75,280.12" fill="#008000"/>
<polygon points="900.25,272.33 910.25,267.08 910.25,277.58" fill="#000080"/>
<rect x="968.65" y="307.86" width="9.5" height="9.5" fill="#000"/>
<circle cx="973.4" cy="277.52" r="5.05" fill="#f00"/>
<polygon points="973.4,274.57 978.95,284.87 967.85,284.87" fill="#00f"/>
<polygon points="973.4,306.46 978.95,296.16 967.85,296.16" fill="#f0f"/>
<polygon points="973.4,291.27 979.15,297.02 973.4,302.77 967.65,297.02" fill="#008000"/>
<polygon points="968.15,250.23 978.15,244.98 978.15,255.48" fill="#000080"/>
<rect x="829.6" y="94" width="161" height="44.1" fill="#00b050" stroke="#000" stroke-width="2.2" />
<text x="880.3" y="124" font-size="25" text-anchor="start" fill="#000" stroke="#000" stroke-width="0.35" textLength="59.6" lengthAdjust="spacingAndGlyphs" >PLSR</text>
<rect x="598.4" y="399" width="409.6" height="266.70000000000005" fill="none" stroke="#000" stroke-width="1.5"/>
<line x1="593.4" y1="647.5" x2="598.4" y2="647.5" stroke="#000" stroke-width="1.2" />
<text x="589.2" y="651.3" font-size="15.3" text-anchor="end" fill="#222" stroke="#222" stroke-width="0.2" >-2</text>
<line x1="593.4" y1="609.3" x2="598.4" y2="609.3" stroke="#000" stroke-width="1.2" />
<text x="589.2" y="613.1" font-size="15.3" text-anchor="end" fill="#222" stroke="#222" stroke-width="0.2" >-1</text>
<line x1="593.4" y1="571.1" x2="598.4" y2="571.1" stroke="#000" stroke-width="1.2" />
<text x="589.2" y="574.9" font-size="15.3" text-anchor="end" fill="#222" stroke="#222" stroke-width="0.2" >0</text>
<line x1="593.4" y1="532.9" x2="598.4" y2="532.9" stroke="#000" stroke-width="1.2" />
<text x="589.2" y="536.7" font-size="15.3" text-anchor="end" fill="#222" stroke="#222" stroke-width="0.2" >1</text>
<line x1="593.4" y1="494.7" x2="598.4" y2="494.7" stroke="#000" stroke-width="1.2" />
<text x="589.2" y="498.5" font-size="15.3" text-anchor="end" fill="#222" stroke="#222" stroke-width="0.2" >2</text>
<line x1="593.4" y1="456.5" x2="598.4" y2="456.5" stroke="#000" stroke-width="1.2" />
<text x="589.2" y="460.3" font-size="15.3" text-anchor="end" fill="#222" stroke="#222" stroke-width="0.2" >3</text>
<line x1="593.4" y1="418.3" x2="598.4" y2="418.3" stroke="#000" stroke-width="1.2" />
<text x="589.2" y="422.1" font-size="15.3" text-anchor="end" fill="#222" stroke="#222" stroke-width="0.2" >4</text>
<line x1="595.4" y1="628.4" x2="598.4" y2="628.4" stroke="#000" stroke-width="1" />
<line x1="595.4" y1="590.2" x2="598.4" y2="590.2" stroke="#000" stroke-width="1" />
<line x1="595.4" y1="552" x2="598.4" y2="552" stroke="#000" stroke-width="1" />
<line x1="595.4" y1="513.8" x2="598.4" y2="513.8" stroke="#000" stroke-width="1" />
<line x1="595.4" y1="475.6" x2="598.4" y2="475.6" stroke="#000" stroke-width="1" />
<line x1="595.4" y1="437.4" x2="598.4" y2="437.4" stroke="#000" stroke-width="1" />
<line x1="598.4" y1="665.7" x2="598.4" y2="670.7" stroke="#000" stroke-width="1.2" />
<text x="598.4" y="686.3" font-size="15.5" text-anchor="middle" fill="#222" stroke="#222" stroke-width="0.2" textLength="21.2" lengthAdjust="spacingAndGlyphs" >0.0</text>
<line x1="680.32" y1="665.7" x2="680.32" y2="670.7" stroke="#000" stroke-width="1.2" />
<text x="680.32" y="686.3" font-size="15.5" text-anchor="middle" fill="#222" stroke="#222" stroke-width="0.2" textLength="21.2" lengthAdjust="spacingAndGlyphs" >0.2</text>
<line x1="762.24" y1="665.7" x2="762.24" y2="670.7" stroke="#000" stroke-width="1.2" />
<text x="762.24" y="686.3" font-size="15.5" text-anchor="middle" fill="#222" stroke="#222" stroke-width="0.2" textLength="21.2" lengthAdjust="spacingAndGlyphs" >0.4</text>
<line x1="844.16" y1="665.7" x2="844.16" y2="670.7" stroke="#000" stroke-width="1.2" />
<text x="844.16" y="686.3" font-size="15.5" text-anchor="middle" fill="#222" stroke="#222" stroke-width="0.2" textLength="21.2" lengthAdjust="spacingAndGlyphs" >0.6</text>
<line x1="926.08" y1="665.7" x2="926.08" y2="670.7" stroke="#000" stroke-width="1.2" />
<text x="926.08" y="686.3" font-size="15.5" text-anchor="middle" fill="#222" stroke="#222" stroke-width="0.2" textLength="21.2" lengthAdjust="spacingAndGlyphs" >0.8</text>
<line x1="1008" y1="665.7" x2="1008" y2="670.7" stroke="#000" stroke-width="1.2" />
<text x="1008" y="686.3" font-size="15.5" text-anchor="middle" fill="#222" stroke="#222" stroke-width="0.2" textLength="21.2" lengthAdjust="spacingAndGlyphs" >1.0</text>
<line x1="639.36" y1="665.7" x2="639.36" y2="668.7" stroke="#000" stroke-width="1" />
<line x1="721.28" y1="665.7" x2="721.28" y2="668.7" stroke="#000" stroke-width="1" />
<line x1="803.2" y1="665.7" x2="803.2" y2="668.7" stroke="#000" stroke-width="1" />
<line x1="885.12" y1="665.7" x2="885.12" y2="668.7" stroke="#000" stroke-width="1" />
<line x1="967.04" y1="665.7" x2="967.04" y2="668.7" stroke="#000" stroke-width="1" />
<text x="802.8" y="721" font-size="16.5" text-anchor="middle" fill="#222" stroke="#222" stroke-width="0.2" textLength="122.4" lengthAdjust="spacingAndGlyphs" >Ridge parameter</text>
<text transform="translate(553.7,538.5) rotate(-90)" font-size="17.5" text-anchor="middle" fill="#222" textLength="119.6" lengthAdjust="spacingAndGlyphs">Ridge coefficient</text>
<polyline points="598.4,643.68 602.5,588.29 639.36,569.95 680.32,568.43 1008,568.04" fill="none" stroke="#000000" stroke-width="2"/>
<polyline points="598.4,632.22 602.5,576.83 639.36,567.28 1008,567.28" fill="none" stroke="#ff0000" stroke-width="2"/>
<polyline points="598.4,582.56 600.45,567.28 602.5,565.37 639.36,551.24 647.55,552 762.24,553.53 1008,558.49" fill="none" stroke="#0000ff" stroke-width="2"/>
<polyline points="598.4,560.4 600.45,578.74 639.36,569.19 1008,569.19" fill="none" stroke="#ff00ff" stroke-width="2"/>
<polyline points="598.4,611.21 602.5,597.84 639.36,571.1 762.24,569.19 1008,567.28" fill="none" stroke="#008000" stroke-width="2"/>
<polyline points="598.4,469.11 602.5,508.07 639.36,537.87 762.24,542.83 1008,553.91" fill="none" stroke="#000080" stroke-width="2"/>
<line x1="879.2" y1="411.2" x2="915.4" y2="411.2" stroke="#000000" stroke-width="2.2" />
<text x="917.9" y="415.5" font-size="12.5" text-anchor="start" fill="#222" stroke="#222" stroke-width="0.2" textLength="44.4" lengthAdjust="spacingAndGlyphs" >GNDVI</text>
<line x1="879.2" y1="430.3" x2="915.4" y2="430.3" stroke="#ff0000" stroke-width="2.2" />
<text x="917.9" y="434.6" font-size="12.5" text-anchor="start" fill="#222" stroke="#222" stroke-width="0.2" textLength="35.4" lengthAdjust="spacingAndGlyphs" >NDRE</text>
<line x1="879.2" y1="449.4" x2="915.4" y2="449.4" stroke="#0000ff" stroke-width="2.2" />
<text x="917.9" y="453.7" font-size="12.5" text-anchor="start" fill="#222" stroke="#222" stroke-width="0.2" textLength="59.6" lengthAdjust="spacingAndGlyphs" >CIrededge</text>
<line x1="879.2" y1="468.5" x2="915.4" y2="468.5" stroke="#ff00ff" stroke-width="2.2" />
<text x="917.9" y="472.8" font-size="12.5" text-anchor="start" fill="#222" stroke="#222" stroke-width="0.2" textLength="33" lengthAdjust="spacingAndGlyphs" >GDVI</text>
<line x1="879.2" y1="487.6" x2="915.4" y2="487.6" stroke="#008000" stroke-width="2.2" />
<text x="917.9" y="491.9" font-size="12.5" text-anchor="start" fill="#222" stroke="#222" stroke-width="0.2" textLength="52.9" lengthAdjust="spacingAndGlyphs" >GRNDVI</text>
<line x1="879.2" y1="506.7" x2="915.4" y2="506.7" stroke="#000080" stroke-width="2.2" />
<text x="917.9" y="511" font-size="12.5" text-anchor="start" fill="#222" stroke="#222" stroke-width="0.2" textLength="33" lengthAdjust="spacingAndGlyphs" >MTCI</text>
<rect x="611.2" y="412.3" width="161.5" height="45.2" fill="#00b050" stroke="#000" stroke-width="2.2" />
<text x="675.3" y="442.9" font-size="25" text-anchor="start" fill="#000" stroke="#000" stroke-width="0.35" textLength="33.2" lengthAdjust="spacingAndGlyphs" >RR</text>
<g stroke="#6a9ad0" stroke-width="1">
<line x1="691.0" y1="751.4" x2="823.5" y2="751.4"/>
<line x1="691.0" y1="751.4" x2="823.5" y2="805.4"/>
<line x1="691.0" y1="751.4" x2="823.5" y2="860.3"/>
<line x1="691.0" y1="751.4" x2="823.5" y2="914.4"/>
<line x1="691.0" y1="751.4" x2="823.5" y2="969.5"/>
<line x1="691.0" y1="751.4" x2="823.5" y2="1023.4"/>
<line x1="691.0" y1="805.4" x2="823.5" y2="751.4"/>
<line x1="691.0" y1="805.4" x2="823.5" y2="805.4"/>
<line x1="691.0" y1="805.4" x2="823.5" y2="860.3"/>
<line x1="691.0" y1="805.4" x2="823.5" y2="914.4"/>
<line x1="691.0" y1="805.4" x2="823.5" y2="969.5"/>
<line x1="691.0" y1="805.4" x2="823.5" y2="1023.4"/>
<line x1="691.0" y1="860.3" x2="823.5" y2="751.4"/>
<line x1="691.0" y1="860.3" x2="823.5" y2="805.4"/>
<line x1="691.0" y1="860.3" x2="823.5" y2="860.3"/>
<line x1="691.0" y1="860.3" x2="823.5" y2="914.4"/>
<line x1="691.0" y1="860.3" x2="823.5" y2="969.5"/>
<line x1="691.0" y1="860.3" x2="823.5" y2="1023.4"/>
<line x1="691.0" y1="914.4" x2="823.5" y2="751.4"/>
<line x1="691.0" y1="914.4" x2="823.5" y2="805.4"/>
<line x1="691.0" y1="914.4" x2="823.5" y2="860.3"/>
<line x1="691.0" y1="914.4" x2="823.5" y2="914.4"/>
<line x1="691.0" y1="914.4" x2="823.5" y2="969.5"/>
<line x1="691.0" y1="914.4" x2="823.5" y2="1023.4"/>
<line x1="691.0" y1="969.5" x2="823.5" y2="751.4"/>
<line x1="691.0" y1="969.5" x2="823.5" y2="805.4"/>
<line x1="691.0" y1="969.5" x2="823.5" y2="860.3"/>
<line x1="691.0" y1="969.5" x2="823.5" y2="914.4"/>
<line x1="691.0" y1="969.5" x2="823.5" y2="969.5"/>
<line x1="691.0" y1="969.5" x2="823.5" y2="1023.4"/>
<line x1="691.0" y1="1023.4" x2="823.5" y2="751.4"/>
<line x1="691.0" y1="1023.4" x2="823.5" y2="805.4"/>
<line x1="691.0" y1="1023.4" x2="823.5" y2="860.3"/>
<line x1="691.0" y1="1023.4" x2="823.5" y2="914.4"/>
<line x1="691.0" y1="1023.4" x2="823.5" y2="969.5"/>
<line x1="691.0" y1="1023.4" x2="823.5" y2="1023.4"/>
<line x1="856.5" y1="751.4" x2="989.5" y2="891"/>
<line x1="856.5" y1="805.4" x2="989.5" y2="891"/>
<line x1="856.5" y1="860.3" x2="989.5" y2="891"/>
<line x1="856.5" y1="914.4" x2="989.5" y2="891"/>
<line x1="856.5" y1="969.5" x2="989.5" y2="891"/>
<line x1="856.5" y1="1023.4" x2="989.5" y2="891"/>
</g>
<ellipse cx="674.5" cy="751.4" rx="16.5" ry="15.6" fill="#0070c0"/>
<ellipse cx="840" cy="751.4" rx="16.5" ry="15.6" fill="#ff0000"/>
<ellipse cx="674.5" cy="805.4" rx="16.5" ry="15.6" fill="#0070c0"/>
<ellipse cx="840" cy="805.4" rx="16.5" ry="15.6" fill="#ff0000"/>
<ellipse cx="674.5" cy="860.3" rx="16.5" ry="15.6" fill="#0070c0"/>
<ellipse cx="840" cy="860.3" rx="16.5" ry="15.6" fill="#ff0000"/>
<ellipse cx="674.5" cy="914.4" rx="16.5" ry="15.6" fill="#0070c0"/>
<ellipse cx="840" cy="914.4" rx="16.5" ry="15.6" fill="#ff0000"/>
<ellipse cx="674.5" cy="969.5" rx="16.5" ry="15.6" fill="#0070c0"/>
<ellipse cx="840" cy="969.5" rx="16.5" ry="15.6" fill="#ff0000"/>
<ellipse cx="674.5" cy="1023.4" rx="16.5" ry="15.6" fill="#0070c0"/>
<ellipse cx="840" cy="1023.4" rx="16.5" ry="15.6" fill="#ff0000"/>
<ellipse cx="1006" cy="891" rx="16.5" ry="15.6" fill="#00b050"/>
<text x="552.4" y="762.1" font-size="24.8" text-anchor="start" fill="#000" stroke="#000" stroke-width="0.35" textLength="78.3" lengthAdjust="spacingAndGlyphs" >GNDVI</text>
<text x="558.7" y="811.9" font-size="24.8" text-anchor="start" fill="#000" stroke="#000" stroke-width="0.35" textLength="65.3" lengthAdjust="spacingAndGlyphs" >NDRE</text>
<text x="530.4" y="869.6" font-size="24.8" text-anchor="start" fill="#000" stroke="#000" stroke-width="0.35" textLength="105.2" lengthAdjust="spacingAndGlyphs" >CIrededge</text>
<text x="562.1" y="923.2" font-size="24.8" text-anchor="start" fill="#000" stroke="#000" stroke-width="0.35" textLength="58.9" lengthAdjust="spacingAndGlyphs" >GDVI</text>
<text x="538.5" y="978.3" font-size="24.8" text-anchor="start" fill="#000" stroke="#000" stroke-width="0.35" textLength="93.2" lengthAdjust="spacingAndGlyphs" >GRNDVI</text>
<text x="562.1" y="1033.1" font-size="24.8" text-anchor="start" fill="#000" stroke="#000" stroke-width="0.35" textLength="59" lengthAdjust="spacingAndGlyphs" >MTCI</text>
<text x="618.4" y="1091" font-size="24.8" text-anchor="start" fill="#000" stroke="#000" stroke-width="0.35" textLength="111.8" lengthAdjust="spacingAndGlyphs" >Input layer</text>
<text x="772.5" y="1091" font-size="24.8" text-anchor="start" fill="#000" stroke="#000" stroke-width="0.35" textLength="133.5" lengthAdjust="spacingAndGlyphs" >Hidden layer</text>
<text x="940.7" y="1091" font-size="24.8" text-anchor="start" fill="#000" stroke="#000" stroke-width="0.35" textLength="130.2" lengthAdjust="spacingAndGlyphs" >Output layer</text>
<rect x="871.3" y="747.3" width="160.2" height="45.2" fill="#00b050" stroke="#000" stroke-width="2.2" />
<text x="922.2" y="777.8" font-size="25" text-anchor="start" fill="#000" stroke="#000" stroke-width="0.35" textLength="59.4" lengthAdjust="spacingAndGlyphs" >ANN</text>
<rect x="1062.5" y="16.3" width="604" height="49.3" fill="#ffff00" stroke="#000" stroke-width="2.2" />
<text x="1083.3" y="50.9" font-size="31" text-anchor="start" fill="#000" stroke="#000" stroke-width="0.35" textLength="562" lengthAdjust="spacingAndGlyphs" >Ranking consistency of variable importance</text>
<rect x="1195.5" y="79.6" width="197.33" height="5.88" fill="#000000" stroke="#000" stroke-width="0.8"/>
<rect x="1195.5" y="85.48" width="248.46" height="5.88" fill="#ff0000" stroke="#000" stroke-width="0.8"/>
<rect x="1195.5" y="91.36" width="242.96" height="5.88" fill="#00ff00" stroke="#000" stroke-width="0.8"/>
<rect x="1195.5" y="97.23" width="247.26" height="5.88" fill="#0000ff" stroke="#000" stroke-width="0.8"/>
<rect x="1195.5" y="103.11" width="244.16" height="5.88" fill="#00ffff" stroke="#000" stroke-width="0.8"/>
<rect x="1195.5" y="108.99" width="251.08" height="5.88" fill="#ff00ff" stroke="#000" stroke-width="0.8"/>
<text x="1189.6" y="100.03" font-size="13.5" text-anchor="end" fill="#222" stroke="#222" stroke-width="0.2" textLength="60.5" lengthAdjust="spacingAndGlyphs" >2019+2020</text>
<rect x="1195.5" y="123.07" width="202.59" height="5.88" fill="#000000" stroke="#000" stroke-width="0.8"/>
<rect x="1195.5" y="128.94" width="229.34" height="5.88" fill="#ff0000" stroke="#000" stroke-width="0.8"/>
<rect x="1195.5" y="134.82" width="226.95" height="5.88" fill="#00ff00" stroke="#000" stroke-width="0.8"/>
<rect x="1195.5" y="140.7" width="216.44" height="5.88" fill="#0000ff" stroke="#000" stroke-width="0.8"/>
<rect x="1195.5" y="146.58" width="245.35" height="5.88" fill="#00ffff" stroke="#000" stroke-width="0.8"/>
<rect x="1195.5" y="152.46" width="303.4" height="5.88" fill="#ff00ff" stroke="#000" stroke-width="0.8"/>
<text x="1189.6" y="143.5" font-size="13.5" text-anchor="end" fill="#222" stroke="#222" stroke-width="0.2" textLength="60.5" lengthAdjust="spacingAndGlyphs" >2018+2020</text>
<line x1="1195.5" y1="119.07" x2="1530.5" y2="119.07" stroke="#000" stroke-width="2.2" stroke-dasharray="8.5 8.06"/>
<rect x="1195.5" y="166.53" width="198.76" height="5.88" fill="#000000" stroke="#000" stroke-width="0.8"/>
<rect x="1195.5" y="172.41" width="248.22" height="5.88" fill="#ff0000" stroke="#000" stroke-width="0.8"/>
<rect x="1195.5" y="178.29" width="248.22" height="5.88" fill="#00ff00" stroke="#000" stroke-width="0.8"/>
<rect x="1195.5" y="184.17" width="242.96" height="5.88" fill="#0000ff" stroke="#000" stroke-width="0.8"/>
<rect x="1195.5" y="190.04" width="240.81" height="5.88" fill="#00ffff" stroke="#000" stroke-width="0.8"/>
<rect x="1195.5" y="195.92" width="253.23" height="5.88" fill="#ff00ff" stroke="#000" stroke-width="0.8"/>
<text x="1189.6" y="186.97" font-size="13.5" text-anchor="end" fill="#222" stroke="#222" stroke-width="0.2" textLength="60.5" lengthAdjust="spacingAndGlyphs" >2018+2019</text>
<line x1="1195.5" y1="162.53" x2="1530.5" y2="162.53" stroke="#000" stroke-width="2.2" stroke-dasharray="8.5 8.06"/>
<rect x="1195.5" y="210" width="265.42" height="5.88" fill="#000000" stroke="#000" stroke-width="0.8"/>
<rect x="1195.5" y="215.88" width="206.17" height="5.88" fill="#ff0000" stroke="#000" stroke-width="0.8"/>
<rect x="1195.5" y="221.76" width="213.34" height="5.88" fill="#00ff00" stroke="#000" stroke-width="0.8"/>
<rect x="1195.5" y="227.63" width="209.28" height="5.88" fill="#0000ff" stroke="#000" stroke-width="0.8"/>
<rect x="1195.5" y="233.51" width="220.98" height="5.88" fill="#00ffff" stroke="#000" stroke-width="0.8"/>
<rect x="1195.5" y="239.39" width="304.36" height="5.88" fill="#ff00ff" stroke="#000" stroke-width="0.8"/>
<text x="1189.6" y="230.43" font-size="13.5" text-anchor="end" fill="#222" stroke="#222" stroke-width="0.2" textLength="27" lengthAdjust="spacingAndGlyphs" >2020</text>
<line x1="1195.5" y1="206" x2="1530.5" y2="206" stroke="#000" stroke-width="2.2" stroke-dasharray="8.5 8.06"/>
<rect x="1195.5" y="253.47" width="248.46" height="5.88" fill="#000000" stroke="#000" stroke-width="0.8"/>
<rect x="1195.5" y="259.34" width="230.3" height="5.88" fill="#ff0000" stroke="#000" stroke-width="0.8"/>
<rect x="1195.5" y="265.22" width="238.18" height="5.88" fill="#00ff00" stroke="#000" stroke-width="0.8"/>
<rect x="1195.5" y="271.1" width="241.29" height="5.88" fill="#0000ff" stroke="#000" stroke-width="0.8"/>
<rect x="1195.5" y="276.98" width="236.99" height="5.88" fill="#00ffff" stroke="#000" stroke-width="0.8"/>
<rect x="1195.5" y="282.86" width="241.29" height="5.88" fill="#ff00ff" stroke="#000" stroke-width="0.8"/>
<text x="1189.6" y="273.9" font-size="13.5" text-anchor="end" fill="#222" stroke="#222" stroke-width="0.2" textLength="27" lengthAdjust="spacingAndGlyphs" >2019</text>
<line x1="1195.5" y1="249.47" x2="1530.5" y2="249.47" stroke="#000" stroke-width="2.2" stroke-dasharray="8.5 8.06"/>
<rect x="1195.5" y="296.93" width="238.9" height="5.88" fill="#000000" stroke="#000" stroke-width="0.8"/>
<rect x="1195.5" y="302.81" width="238.18" height="5.88" fill="#ff0000" stroke="#000" stroke-width="0.8"/>
<rect x="1195.5" y="308.69" width="236.03" height="5.88" fill="#00ff00" stroke="#000" stroke-width="0.8"/>
<rect x="1195.5" y="314.57" width="229.82" height="5.88" fill="#0000ff" stroke="#000" stroke-width="0.8"/>
<rect x="1195.5" y="320.44" width="228.87" height="5.88" fill="#00ffff" stroke="#000" stroke-width="0.8"/>
<rect x="1195.5" y="326.32" width="262.79" height="5.88" fill="#ff00ff" stroke="#000" stroke-width="0.8"/>
<text x="1189.6" y="317.37" font-size="13.5" text-anchor="end" fill="#222" stroke="#222" stroke-width="0.2" textLength="27" lengthAdjust="spacingAndGlyphs" >2018</text>
<line x1="1195.5" y1="292.93" x2="1530.5" y2="292.93" stroke="#000" stroke-width="2.2" stroke-dasharray="8.5 8.06"/>
<line x1="1195.5" y1="75.6" x2="1195.5" y2="336.4" stroke="#000" stroke-width="1.5" />
<line x1="1192.5" y1="75.6" x2="1198.5" y2="75.6" stroke="#000" stroke-width="1.5" />
<line x1="1192.5" y1="119.07" x2="1195.5" y2="119.07" stroke="#000" stroke-width="1.2" />
<line x1="1192.5" y1="162.53" x2="1195.5" y2="162.53" stroke="#000" stroke-width="1.2" />
<line x1="1192.5" y1="206" x2="1195.5" y2="206" stroke="#000" stroke-width="1.2" />
<line x1="1192.5" y1="249.47" x2="1195.5" y2="249.47" stroke="#000" stroke-width="1.2" />
<line x1="1192.5" y1="292.93" x2="1195.5" y2="292.93" stroke="#000" stroke-width="1.2" />
<line x1="1195.5" y1="336.4" x2="1529.96" y2="336.4" stroke="#000" stroke-width="1.5" />
<line x1="1195.5" y1="336.4" x2="1195.5" y2="341.4" stroke="#000" stroke-width="1.2" />
<text x="1195.5" y="353" font-size="12.5" text-anchor="middle" fill="#222" stroke="#222" stroke-width="0.2" textLength="16.6" lengthAdjust="spacingAndGlyphs" >0.0</text>
<line x1="1243.28" y1="336.4" x2="1243.28" y2="341.4" stroke="#000" stroke-width="1.2" />
<text x="1243.28" y="353" font-size="12.5" text-anchor="middle" fill="#222" stroke="#222" stroke-width="0.2" textLength="16.6" lengthAdjust="spacingAndGlyphs" >0.2</text>
<line x1="1291.06" y1="336.4" x2="1291.06" y2="341.4" stroke="#000" stroke-width="1.2" />
<text x="1291.06" y="353" font-size="12.5" text-anchor="middle" fill="#222" stroke="#222" stroke-width="0.2" textLength="16.6" lengthAdjust="spacingAndGlyphs" >0.4</text>
<line x1="1338.84" y1="336.4" x2="1338.84" y2="341.4" stroke="#000" stroke-width="1.2" />
<text x="1338.84" y="353" font-size="12.5" text-anchor="middle" fill="#222" stroke="#222" stroke-width="0.2" textLength="16.6" lengthAdjust="spacingAndGlyphs" >0.6</text>
<line x1="1386.62" y1="336.4" x2="1386.62" y2="341.4" stroke="#000" stroke-width="1.2" />
<text x="1386.62" y="353" font-size="12.5" text-anchor="middle" fill="#222" stroke="#222" stroke-width="0.2" textLength="16.6" lengthAdjust="spacingAndGlyphs" >0.8</text>
<line x1="1434.4" y1="336.4" x2="1434.4" y2="341.4" stroke="#000" stroke-width="1.2" />
<text x="1434.4" y="353" font-size="12.5" text-anchor="middle" fill="#222" stroke="#222" stroke-width="0.2" textLength="16.6" lengthAdjust="spacingAndGlyphs" >1.0</text>
<line x1="1482.18" y1="336.4" x2="1482.18" y2="341.4" stroke="#000" stroke-width="1.2" />
<text x="1482.18" y="353" font-size="12.5" text-anchor="middle" fill="#222" stroke="#222" stroke-width="0.2" textLength="16.6" lengthAdjust="spacingAndGlyphs" >1.2</text>
<line x1="1529.96" y1="336.4" x2="1529.96" y2="341.4" stroke="#000" stroke-width="1.2" />
<text x="1529.96" y="353" font-size="12.5" text-anchor="middle" fill="#222" stroke="#222" stroke-width="0.2" textLength="16.6" lengthAdjust="spacingAndGlyphs" >1.4</text>
<text x="1362.3" y="384.2" font-size="14.5" text-anchor="middle" fill="#222" stroke="#222" stroke-width="0.2" textLength="236.8" lengthAdjust="spacingAndGlyphs" >Variance importance in projection</text>
<text x="1504.9" y="326.7" font-size="17" text-anchor="start" fill="#222" stroke="#222" stroke-width="0.2" textLength="22.5" lengthAdjust="spacingAndGlyphs" >(a)</text>
<rect x="1503.6" y="150.6" width="29.6" height="15.05" fill="#000000" stroke="#000" stroke-width="1"/>
<text x="1536.1" y="161.3" font-size="11.5" text-anchor="start" fill="#222" textLength="38.2" lengthAdjust="spacingAndGlyphs" >GNDVI</text>
<rect x="1503.6" y="166.85" width="29.6" height="15.05" fill="#ff0000" stroke="#000" stroke-width="1"/>
<text x="1536.1" y="177.55" font-size="11.5" text-anchor="start" fill="#222" textLength="32.4" lengthAdjust="spacingAndGlyphs" >NDRE</text>
<rect x="1503.6" y="183.1" width="29.6" height="15.05" fill="#00ff00" stroke="#000" stroke-width="1"/>
<text x="1536.1" y="193.8" font-size="11.5" text-anchor="start" fill="#222" textLength="52.8" lengthAdjust="spacingAndGlyphs" >CIrededge</text>
<rect x="1503.6" y="199.35" width="29.6" height="15.05" fill="#0000ff" stroke="#000" stroke-width="1"/>
<text x="1536.1" y="210.05" font-size="11.5" text-anchor="start" fill="#222" textLength="29" lengthAdjust="spacingAndGlyphs" >GDVI</text>
<rect x="1503.6" y="215.6" width="29.6" height="15.05" fill="#00ffff" stroke="#000" stroke-width="1"/>
<text x="1536.1" y="226.3" font-size="11.5" text-anchor="start" fill="#222" textLength="46.2" lengthAdjust="spacingAndGlyphs" >GRNDVI</text>
<rect x="1503.6" y="231.85" width="29.6" height="15.05" fill="#ff00ff" stroke="#000" stroke-width="1"/>
<text x="1536.1" y="242.55" font-size="11.5" text-anchor="start" fill="#222" textLength="29" lengthAdjust="spacingAndGlyphs" >MTCI</text>
<rect x="1508.1" y="72.9" width="159.4" height="43.3" fill="#00b050" stroke="#000" stroke-width="2.2" />
<text x="1587.8" y="103.5" font-size="25" text-anchor="middle" fill="#000" stroke="#000" stroke-width="0.35" textLength="59.6" lengthAdjust="spacingAndGlyphs" >PLSR</text>
<rect x="1199.3" y="423.8" width="85.92" height="5.92" fill="#000000" stroke="#000" stroke-width="0.8"/>
<rect x="1199.3" y="429.72" width="295.64" height="5.92" fill="#ff0000" stroke="#000" stroke-width="0.8"/>
<rect x="1199.3" y="435.64" width="18.06" height="5.92" fill="#00ff00" stroke="#000" stroke-width="0.8"/>
<rect x="1199.3" y="441.57" width="191.71" height="5.92" fill="#0000ff" stroke="#000" stroke-width="0.8"/>
<rect x="1199.3" y="447.49" width="145.32" height="5.92" fill="#00ffff" stroke="#000" stroke-width="0.8"/>
<rect x="1199.3" y="453.41" width="163.72" height="5.92" fill="#ff00ff" stroke="#000" stroke-width="0.8"/>
<text x="1193.6" y="444.37" font-size="13.5" text-anchor="end" fill="#222" stroke="#222" stroke-width="0.2" textLength="60.5" lengthAdjust="spacingAndGlyphs" >2019+2020</text>
<rect x="1199.3" y="467.53" width="90.86" height="5.92" fill="#000000" stroke="#000" stroke-width="0.8"/>
<rect x="1199.3" y="473.46" width="47.6" height="5.92" fill="#ff0000" stroke="#000" stroke-width="0.8"/>
<rect x="1199.3" y="479.38" width="10.27" height="5.92" fill="#00ff00" stroke="#000" stroke-width="0.8"/>
<rect x="1199.3" y="485.3" width="37.66" height="5.92" fill="#0000ff" stroke="#000" stroke-width="0.8"/>
<rect x="1199.3" y="491.22" width="116.72" height="5.92" fill="#00ffff" stroke="#000" stroke-width="0.8"/>
<rect x="1199.3" y="497.14" width="130.72" height="5.92" fill="#ff00ff" stroke="#000" stroke-width="0.8"/>
<text x="1193.6" y="488.1" font-size="13.5" text-anchor="end" fill="#222" stroke="#222" stroke-width="0.2" textLength="60.5" lengthAdjust="spacingAndGlyphs" >2018+2020</text>
<line x1="1199.3" y1="463.53" x2="1532" y2="463.53" stroke="#000" stroke-width="2.2" stroke-dasharray="8.5 8.06"/>
<rect x="1199.3" y="511.27" width="39.86" height="5.92" fill="#000000" stroke="#000" stroke-width="0.8"/>
<rect x="1199.3" y="517.19" width="33.33" height="5.92" fill="#ff0000" stroke="#000" stroke-width="0.8"/>
<rect x="1199.3" y="523.11" width="8.4" height="5.92" fill="#00ff00" stroke="#000" stroke-width="0.8"/>
<rect x="1199.3" y="529.03" width="83.72" height="5.92" fill="#0000ff" stroke="#000" stroke-width="0.8"/>
<rect x="1199.3" y="534.96" width="98.66" height="5.92" fill="#00ffff" stroke="#000" stroke-width="0.8"/>
<rect x="1199.3" y="540.88" width="107.66" height="5.92" fill="#ff00ff" stroke="#000" stroke-width="0.8"/>
<text x="1193.6" y="531.83" font-size="13.5" text-anchor="end" fill="#222" stroke="#222" stroke-width="0.2" textLength="60.5" lengthAdjust="spacingAndGlyphs" >2018+2019</text>
<line x1="1199.3" y1="507.27" x2="1532" y2="507.27" stroke="#000" stroke-width="2.2" stroke-dasharray="8.5 8.06"/>
<rect x="1199.3" y="555" width="118.85" height="5.92" fill="#000000" stroke="#000" stroke-width="0.8"/>
<rect x="1199.3" y="560.92" width="56.33" height="5.92" fill="#ff0000" stroke="#000" stroke-width="0.8"/>
<rect x="1199.3" y="566.84" width="142.52" height="5.92" fill="#00ff00" stroke="#000" stroke-width="0.8"/>
<rect x="1199.3" y="572.77" width="23.66" height="5.92" fill="#0000ff" stroke="#000" stroke-width="0.8"/>
<rect x="1199.3" y="578.69" width="72.53" height="5.92" fill="#00ffff" stroke="#000" stroke-width="0.8"/>
<rect x="1199.3" y="584.61" width="230.58" height="5.92" fill="#ff00ff" stroke="#000" stroke-width="0.8"/>
<text x="1193.6" y="575.57" font-size="13.5" text-anchor="end" fill="#222" stroke="#222" stroke-width="0.2" textLength="27" lengthAdjust="spacingAndGlyphs" >2020</text>
<line x1="1199.3" y1="551" x2="1532" y2="551" stroke="#000" stroke-width="2.2" stroke-dasharray="8.5 8.06"/>
<rect x="1199.3" y="598.73" width="299.7" height="5.92" fill="#000000" stroke="#000" stroke-width="0.8"/>
<rect x="1199.3" y="604.66" width="123.52" height="5.92" fill="#ff0000" stroke="#000" stroke-width="0.8"/>
<rect x="1199.3" y="610.58" width="81.53" height="5.92" fill="#00ff00" stroke="#000" stroke-width="0.8"/>
<rect x="1199.3" y="616.5" width="109.86" height="5.92" fill="#0000ff" stroke="#000" stroke-width="0.8"/>
<rect x="1199.3" y="628.34" width="56.66" height="5.92" fill="#ff00ff" stroke="#000" stroke-width="0.8"/>
<text x="1193.6" y="619.3" font-size="13.5" text-anchor="end" fill="#222" stroke="#222" stroke-width="0.2" textLength="27" lengthAdjust="spacingAndGlyphs" >2019</text>
<line x1="1199.3" y1="594.73" x2="1532" y2="594.73" stroke="#000" stroke-width="2.2" stroke-dasharray="8.5 8.06"/>
<rect x="1199.3" y="642.47" width="126.65" height="5.92" fill="#000000" stroke="#000" stroke-width="0.8"/>
<rect x="1199.3" y="648.39" width="104.59" height="5.92" fill="#ff0000" stroke="#000" stroke-width="0.8"/>
<rect x="1199.3" y="654.31" width="22.4" height="5.92" fill="#00ff00" stroke="#000" stroke-width="0.8"/>
<rect x="1199.3" y="660.23" width="19.6" height="5.92" fill="#0000ff" stroke="#000" stroke-width="0.8"/>
<rect x="1199.3" y="666.16" width="72.53" height="5.92" fill="#00ffff" stroke="#000" stroke-width="0.8"/>
<rect x="1199.3" y="672.08" width="178.65" height="5.92" fill="#ff00ff" stroke="#000" stroke-width="0.8"/>
<text x="1193.6" y="663.03" font-size="13.5" text-anchor="end" fill="#222" stroke="#222" stroke-width="0.2" textLength="27" lengthAdjust="spacingAndGlyphs" >2018</text>
<line x1="1199.3" y1="638.47" x2="1532" y2="638.47" stroke="#000" stroke-width="2.2" stroke-dasharray="8.5 8.06"/>
<line x1="1199.3" y1="419.8" x2="1199.3" y2="682.2" stroke="#000" stroke-width="1.5" />
<line x1="1196.3" y1="419.8" x2="1202.3" y2="419.8" stroke="#000" stroke-width="1.5" />
<line x1="1196.3" y1="463.53" x2="1199.3" y2="463.53" stroke="#000" stroke-width="1.2" />
<line x1="1196.3" y1="507.27" x2="1199.3" y2="507.27" stroke="#000" stroke-width="1.2" />
<line x1="1196.3" y1="551" x2="1199.3" y2="551" stroke="#000" stroke-width="1.2" />
<line x1="1196.3" y1="594.73" x2="1199.3" y2="594.73" stroke="#000" stroke-width="1.2" />
<line x1="1196.3" y1="638.47" x2="1199.3" y2="638.47" stroke="#000" stroke-width="1.2" />
<line x1="1199.3" y1="682.2" x2="1532.6" y2="682.2" stroke="#000" stroke-width="1.5" />
<line x1="1199.3" y1="682.2" x2="1199.3" y2="687.2" stroke="#000" stroke-width="1.2" />
<text x="1199.3" y="698.8" font-size="12.5" text-anchor="middle" fill="#222" stroke="#222" stroke-width="0.2" textLength="6.3" lengthAdjust="spacingAndGlyphs" >0</text>
<line x1="1265.96" y1="682.2" x2="1265.96" y2="687.2" stroke="#000" stroke-width="1.2" />
<text x="1265.96" y="698.8" font-size="12.5" text-anchor="middle" fill="#222" stroke="#222" stroke-width="0.2" textLength="6.3" lengthAdjust="spacingAndGlyphs" >1</text>
<line x1="1332.62" y1="682.2" x2="1332.62" y2="687.2" stroke="#000" stroke-width="1.2" />
<text x="1332.62" y="698.8" font-size="12.5" text-anchor="middle" fill="#222" stroke="#222" stroke-width="0.2" textLength="6.3" lengthAdjust="spacingAndGlyphs" >2</text>
<line x1="1399.28" y1="682.2" x2="1399.28" y2="687.2" stroke="#000" stroke-width="1.2" />
<text x="1399.28" y="698.8" font-size="12.5" text-anchor="middle" fill="#222" stroke="#222" stroke-width="0.2" textLength="6.3" lengthAdjust="spacingAndGlyphs" >3</text>
<line x1="1465.94" y1="682.2" x2="1465.94" y2="687.2" stroke="#000" stroke-width="1.2" />
<text x="1465.94" y="698.8" font-size="12.5" text-anchor="middle" fill="#222" stroke="#222" stroke-width="0.2" textLength="6.3" lengthAdjust="spacingAndGlyphs" >4</text>
<line x1="1532.6" y1="682.2" x2="1532.6" y2="687.2" stroke="#000" stroke-width="1.2" />
<text x="1532.6" y="698.8" font-size="12.5" text-anchor="middle" fill="#222" stroke="#222" stroke-width="0.2" textLength="6.3" lengthAdjust="spacingAndGlyphs" >5</text>
<text x="1365.4" y="730.8" font-size="14.5" text-anchor="middle" fill="#222" stroke="#222" stroke-width="0.2" textLength="126.4" lengthAdjust="spacingAndGlyphs" >|Ridge coefficient|</text>
<text x="1506.4" y="671.6" font-size="17" text-anchor="start" fill="#222" stroke="#222" stroke-width="0.2" textLength="22.5" lengthAdjust="spacingAndGlyphs" >(b)</text>
<rect x="1506.5" y="494.7" width="29.6" height="15.03" fill="#000000" stroke="#000" stroke-width="1"/>
<text x="1539" y="505.4" font-size="11.5" text-anchor="start" fill="#222" textLength="38.2" lengthAdjust="spacingAndGlyphs" >GNDVI</text>
<rect x="1506.5" y="510.93" width="29.6" height="15.03" fill="#ff0000" stroke="#000" stroke-width="1"/>
<text x="1539" y="521.63" font-size="11.5" text-anchor="start" fill="#222" textLength="32.4" lengthAdjust="spacingAndGlyphs" >NDRE</text>
<rect x="1506.5" y="527.16" width="29.6" height="15.03" fill="#00ff00" stroke="#000" stroke-width="1"/>
<text x="1539" y="537.86" font-size="11.5" text-anchor="start" fill="#222" textLength="52.8" lengthAdjust="spacingAndGlyphs" >CIrededge</text>
<rect x="1506.5" y="543.39" width="29.6" height="15.03" fill="#0000ff" stroke="#000" stroke-width="1"/>
<text x="1539" y="554.09" font-size="11.5" text-anchor="start" fill="#222" textLength="29" lengthAdjust="spacingAndGlyphs" >GDVI</text>
<rect x="1506.5" y="559.62" width="29.6" height="15.03" fill="#00ffff" stroke="#000" stroke-width="1"/>
<text x="1539" y="570.32" font-size="11.5" text-anchor="start" fill="#222" textLength="46.2" lengthAdjust="spacingAndGlyphs" >GRNDVI</text>
<rect x="1506.5" y="575.85" width="29.6" height="15.03" fill="#ff00ff" stroke="#000" stroke-width="1"/>
<text x="1539" y="586.55" font-size="11.5" text-anchor="start" fill="#222" textLength="29" lengthAdjust="spacingAndGlyphs" >MTCI</text>
<rect x="1506.1" y="402.1" width="161.4" height="44.3" fill="#00b050" stroke="#000" stroke-width="2.2" />
<text x="1586.8" y="433" font-size="25" text-anchor="middle" fill="#000" stroke="#000" stroke-width="0.35" textLength="33.2" lengthAdjust="spacingAndGlyphs" >RR</text>
<rect x="1245.4" y="809.5" width="0.72" height="5.91" fill="#000000" stroke="#000" stroke-width="0.8"/>
<rect x="1245.4" y="815.41" width="3.11" height="5.91" fill="#ff0000" stroke="#000" stroke-width="0.8"/>
<rect x="1245.4" y="821.31" width="34.43" height="5.91" fill="#00ff00" stroke="#000" stroke-width="0.8"/>
<rect x="1245.4" y="827.22" width="10.28" height="5.91" fill="#0000ff" stroke="#000" stroke-width="0.8"/>
<rect x="1245.4" y="833.12" width="64.32" height="5.91" fill="#00ffff" stroke="#000" stroke-width="0.8"/>
<rect x="1245.4" y="839.03" width="166.89" height="5.91" fill="#ff00ff" stroke="#000" stroke-width="0.8"/>
<text x="1191.8" y="830.02" font-size="13.5" text-anchor="end" fill="#222" stroke="#222" stroke-width="0.2" textLength="60.5" lengthAdjust="spacingAndGlyphs" >2019+2020</text>
<rect x="1245.4" y="853.13" width="0.48" height="5.91" fill="#000000" stroke="#000" stroke-width="0.8"/>
<rect x="1245.4" y="864.94" width="15.54" height="5.91" fill="#00ff00" stroke="#000" stroke-width="0.8"/>
<rect x="1243.73" y="870.85" width="1.67" height="5.91" fill="#0000ff" stroke="#000" stroke-width="0.8"/>
<rect x="1245.4" y="876.76" width="72.93" height="5.91" fill="#00ffff" stroke="#000" stroke-width="0.8"/>
<rect x="1245.4" y="882.66" width="164.26" height="5.91" fill="#ff00ff" stroke="#000" stroke-width="0.8"/>
<text x="1191.8" y="873.65" font-size="13.5" text-anchor="end" fill="#222" stroke="#222" stroke-width="0.2" textLength="60.5" lengthAdjust="spacingAndGlyphs" >2018+2020</text>
<line x1="1197.5" y1="849.13" x2="1534" y2="849.13" stroke="#000" stroke-width="2.2" stroke-dasharray="8.5 8.06"/>
<rect x="1241.57" y="896.77" width="3.83" height="5.91" fill="#000000" stroke="#000" stroke-width="0.8"/>
<rect x="1245.4" y="902.67" width="8.37" height="5.91" fill="#ff0000" stroke="#000" stroke-width="0.8"/>
<rect x="1245.4" y="908.58" width="87.03" height="5.91" fill="#00ff00" stroke="#000" stroke-width="0.8"/>
<rect x="1245.4" y="914.48" width="14.35" height="5.91" fill="#0000ff" stroke="#000" stroke-width="0.8"/>
<rect x="1245.4" y="920.39" width="0.72" height="5.91" fill="#00ffff" stroke="#000" stroke-width="0.8"/>
<rect x="1245.4" y="926.29" width="226.91" height="5.91" fill="#ff00ff" stroke="#000" stroke-width="0.8"/>
<text x="1191.8" y="917.28" font-size="13.5" text-anchor="end" fill="#222" stroke="#222" stroke-width="0.2" textLength="60.5" lengthAdjust="spacingAndGlyphs" >2018+2019</text>
<line x1="1197.5" y1="892.77" x2="1534" y2="892.77" stroke="#000" stroke-width="2.2" stroke-dasharray="8.5 8.06"/>
<rect x="1236.55" y="940.4" width="8.85" height="5.91" fill="#000000" stroke="#000" stroke-width="0.8"/>
<rect x="1240.14" y="946.31" width="5.26" height="5.91" fill="#ff0000" stroke="#000" stroke-width="0.8"/>
<rect x="1242.53" y="952.21" width="2.87" height="5.91" fill="#00ff00" stroke="#000" stroke-width="0.8"/>
<rect x="1239.9" y="958.12" width="5.5" height="5.91" fill="#0000ff" stroke="#000" stroke-width="0.8"/>
<rect x="1245.4" y="964.02" width="58.34" height="5.91" fill="#00ffff" stroke="#000" stroke-width="0.8"/>
<rect x="1245.4" y="969.93" width="26.3" height="5.91" fill="#ff00ff" stroke="#000" stroke-width="0.8"/>
<text x="1191.8" y="960.92" font-size="13.5" text-anchor="end" fill="#222" stroke="#222" stroke-width="0.2" textLength="27" lengthAdjust="spacingAndGlyphs" >2020</text>
<line x1="1197.5" y1="936.4" x2="1534" y2="936.4" stroke="#000" stroke-width="2.2" stroke-dasharray="8.5 8.06"/>
<rect x="1240.62" y="984.03" width="4.78" height="5.91" fill="#000000" stroke="#000" stroke-width="0.8"/>
<rect x="1240.62" y="989.94" width="4.78" height="5.91" fill="#ff0000" stroke="#000" stroke-width="0.8"/>
<rect x="1245.4" y="995.84" width="3.11" height="5.91" fill="#00ff00" stroke="#000" stroke-width="0.8"/>
<rect x="1242.53" y="1001.75" width="2.87" height="5.91" fill="#0000ff" stroke="#000" stroke-width="0.8"/>
<rect x="1245.4" y="1007.66" width="7.41" height="5.91" fill="#00ffff" stroke="#000" stroke-width="0.8"/>
<rect x="1245.4" y="1013.56" width="51.17" height="5.91" fill="#ff00ff" stroke="#000" stroke-width="0.8"/>
<text x="1191.8" y="1004.55" font-size="13.5" text-anchor="end" fill="#222" stroke="#222" stroke-width="0.2" textLength="27" lengthAdjust="spacingAndGlyphs" >2019</text>
<line x1="1197.5" y1="980.03" x2="1534" y2="980.03" stroke="#000" stroke-width="2.2" stroke-dasharray="8.5 8.06"/>
<rect x="1237.75" y="1027.67" width="7.65" height="5.91" fill="#000000" stroke="#000" stroke-width="0.8"/>
<rect x="1239.18" y="1033.57" width="6.22" height="5.91" fill="#ff0000" stroke="#000" stroke-width="0.8"/>
<rect x="1245.4" y="1039.48" width="0.48" height="5.91" fill="#00ff00" stroke="#000" stroke-width="0.8"/>
<rect x="1237.75" y="1045.38" width="7.65" height="5.91" fill="#0000ff" stroke="#000" stroke-width="0.8"/>
<rect x="1245.4" y="1051.29" width="8.37" height="5.91" fill="#00ffff" stroke="#000" stroke-width="0.8"/>
<rect x="1245.4" y="1057.19" width="27.26" height="5.91" fill="#ff00ff" stroke="#000" stroke-width="0.8"/>
<text x="1191.8" y="1048.18" font-size="13.5" text-anchor="end" fill="#222" stroke="#222" stroke-width="0.2" textLength="27" lengthAdjust="spacingAndGlyphs" >2018</text>
<line x1="1197.5" y1="1023.67" x2="1534" y2="1023.67" stroke="#000" stroke-width="2.2" stroke-dasharray="8.5 8.06"/>
<line x1="1245.4" y1="805.5" x2="1245.4" y2="1067.3" stroke="#000" stroke-width="1.5" />
<line x1="1242.4" y1="805.5" x2="1248.4" y2="805.5" stroke="#000" stroke-width="1.5" />
<line x1="1242.4" y1="849.13" x2="1245.4" y2="849.13" stroke="#000" stroke-width="1.2" />
<line x1="1242.4" y1="892.77" x2="1245.4" y2="892.77" stroke="#000" stroke-width="1.2" />
<line x1="1242.4" y1="936.4" x2="1245.4" y2="936.4" stroke="#000" stroke-width="1.2" />
<line x1="1242.4" y1="980.03" x2="1245.4" y2="980.03" stroke="#000" stroke-width="1.2" />
<line x1="1242.4" y1="1023.67" x2="1245.4" y2="1023.67" stroke="#000" stroke-width="1.2" />
<line x1="1197.5" y1="1067.3" x2="1532.24" y2="1067.3" stroke="#000" stroke-width="1.5" />
<line x1="1197.5" y1="1067.3" x2="1197.5" y2="1072.3" stroke="#000" stroke-width="1.2" />
<text x="1197.5" y="1083.9" font-size="12.5" text-anchor="middle" fill="#222" stroke="#222" stroke-width="0.2" textLength="28.3" lengthAdjust="spacingAndGlyphs" >-0.02</text>
<line x1="1245.32" y1="1067.3" x2="1245.32" y2="1072.3" stroke="#000" stroke-width="1.2" />
<text x="1245.32" y="1083.9" font-size="12.5" text-anchor="middle" fill="#222" stroke="#222" stroke-width="0.2" textLength="22.7" lengthAdjust="spacingAndGlyphs" >0.00</text>
<line x1="1293.14" y1="1067.3" x2="1293.14" y2="1072.3" stroke="#000" stroke-width="1.2" />
<text x="1293.14" y="1083.9" font-size="12.5" text-anchor="middle" fill="#222" stroke="#222" stroke-width="0.2" textLength="22.7" lengthAdjust="spacingAndGlyphs" >0.02</text>
<line x1="1340.96" y1="1067.3" x2="1340.96" y2="1072.3" stroke="#000" stroke-width="1.2" />
<text x="1340.96" y="1083.9" font-size="12.5" text-anchor="middle" fill="#222" stroke="#222" stroke-width="0.2" textLength="22.7" lengthAdjust="spacingAndGlyphs" >0.04</text>
<line x1="1388.78" y1="1067.3" x2="1388.78" y2="1072.3" stroke="#000" stroke-width="1.2" />
<text x="1388.78" y="1083.9" font-size="12.5" text-anchor="middle" fill="#222" stroke="#222" stroke-width="0.2" textLength="22.7" lengthAdjust="spacingAndGlyphs" >0.06</text>
<line x1="1436.6" y1="1067.3" x2="1436.6" y2="1072.3" stroke="#000" stroke-width="1.2" />
<text x="1436.6" y="1083.9" font-size="12.5" text-anchor="middle" fill="#222" stroke="#222" stroke-width="0.2" textLength="22.7" lengthAdjust="spacingAndGlyphs" >0.08</text>
<line x1="1484.42" y1="1067.3" x2="1484.42" y2="1072.3" stroke="#000" stroke-width="1.2" />
<text x="1484.42" y="1083.9" font-size="12.5" text-anchor="middle" fill="#222" stroke="#222" stroke-width="0.2" textLength="22.7" lengthAdjust="spacingAndGlyphs" >0.10</text>
<line x1="1532.24" y1="1067.3" x2="1532.24" y2="1072.3" stroke="#000" stroke-width="1.2" />
<text x="1532.24" y="1083.9" font-size="12.5" text-anchor="middle" fill="#222" stroke="#222" stroke-width="0.2" textLength="22.7" lengthAdjust="spacingAndGlyphs" >0.12</text>
<text x="1364.5" y="1115.8" font-size="14.5" text-anchor="middle" fill="#222" stroke="#222" stroke-width="0.2" textLength="170.2" lengthAdjust="spacingAndGlyphs" >Permutation importance</text>
<text x="1507.9" y="1058.4" font-size="17" text-anchor="start" fill="#222" stroke="#222" stroke-width="0.2" textLength="22.5" lengthAdjust="spacingAndGlyphs" >(c)</text>
<rect x="1506.7" y="880.8" width="29.6" height="15" fill="#000000" stroke="#000" stroke-width="1"/>
<text x="1539.2" y="891.5" font-size="11.5" text-anchor="start" fill="#222" textLength="38.2" lengthAdjust="spacingAndGlyphs" >GNDVI</text>
<rect x="1506.7" y="897" width="29.6" height="15" fill="#ff0000" stroke="#000" stroke-width="1"/>
<text x="1539.2" y="907.7" font-size="11.5" text-anchor="start" fill="#222" textLength="32.4" lengthAdjust="spacingAndGlyphs" >NDRE</text>
<rect x="1506.7" y="913.2" width="29.6" height="15" fill="#00ff00" stroke="#000" stroke-width="1"/>
<text x="1539.2" y="923.9" font-size="11.5" text-anchor="start" fill="#222" textLength="52.8" lengthAdjust="spacingAndGlyphs" >CIrededge</text>
<rect x="1506.7" y="929.4" width="29.6" height="15" fill="#0000ff" stroke="#000" stroke-width="1"/>
<text x="1539.2" y="940.1" font-size="11.5" text-anchor="start" fill="#222" textLength="29" lengthAdjust="spacingAndGlyphs" >GDVI</text>
<rect x="1506.7" y="945.6" width="29.6" height="15" fill="#00ffff" stroke="#000" stroke-width="1"/>
<text x="1539.2" y="956.3" font-size="11.5" text-anchor="start" fill="#222" textLength="46.2" lengthAdjust="spacingAndGlyphs" >GRNDVI</text>
<rect x="1506.7" y="961.8" width="29.6" height="15" fill="#ff00ff" stroke="#000" stroke-width="1"/>
<text x="1539.2" y="972.5" font-size="11.5" text-anchor="start" fill="#222" textLength="29" lengthAdjust="spacingAndGlyphs" >MTCI</text>
<rect x="1158.1" y="747.4" width="344.8" height="45" fill="#7030a0" stroke="#e00000" stroke-width="2.2" />
<text x="1184" y="777.6" font-size="25" text-anchor="start" fill="#fff4ff" stroke="#fff4ff" stroke-width="0.35" textLength="293" lengthAdjust="spacingAndGlyphs" >Constant variable ranking!</text>
<rect x="1506.7" y="749.3" width="161" height="44.1" fill="#00b050" stroke="#000" stroke-width="2.2" />
<text x="1557.3" y="778.7" font-size="25" text-anchor="start" fill="#000" stroke="#000" stroke-width="0.35" textLength="58.7" lengthAdjust="spacingAndGlyphs" >ANN</text>
<rect x="1770.6" y="18.4" width="367.9" height="48.9" fill="#ffff00" stroke="#000" stroke-width="2.2" />
<text x="1836.9" y="52" font-size="31" text-anchor="start" fill="#000" stroke="#000" stroke-width="0.35" textLength="235.4" lengthAdjust="spacingAndGlyphs" >Mutual prediction</text>
<rect x="1723" y="93" width="151" height="57.6" fill="none" stroke="#000" stroke-width="3.6" stroke-dasharray="11.2 4.9"/>
<rect x="1996.9" y="92.8" width="200.3" height="58.3" fill="none" stroke="#000" stroke-width="3.6" stroke-dasharray="11.2 4.9"/>
<text x="1798.6" y="114.5" font-size="25" text-anchor="middle" fill="#000" stroke="#000" stroke-width="0.35" textLength="120" lengthAdjust="spacingAndGlyphs" >Regression</text>
<text x="1798.6" y="144.7" font-size="25" text-anchor="middle" fill="#000" stroke="#000" stroke-width="0.35" textLength="70.8" lengthAdjust="spacingAndGlyphs" >Model</text>
<text x="2096.6" y="114.5" font-size="25" text-anchor="middle" fill="#000" stroke="#000" stroke-width="0.35" textLength="163.7" lengthAdjust="spacingAndGlyphs" >Nonovelapped</text>
<text x="2097.4" y="144.4" font-size="25" text-anchor="middle" fill="#000" stroke="#000" stroke-width="0.35" textLength="45.3" lengthAdjust="spacingAndGlyphs" >year</text>
<circle cx="1799.4" cy="173" r="5.4" fill="#000"/>
<circle cx="2097.3" cy="173" r="5.4" fill="#000"/>
<circle cx="1799.4" cy="191" r="5.4" fill="#000"/>
<circle cx="2097.3" cy="191" r="5.4" fill="#000"/>
<circle cx="1799.4" cy="208.7" r="5.4" fill="#000"/>
<circle cx="2097.3" cy="208.7" r="5.4" fill="#000"/>
<line x1="1869" y1="247.7" x2="2044" y2="291.9" stroke="#000" stroke-width="4" />
<line x1="1869" y1="291.8" x2="2044" y2="291.9" stroke="#000" stroke-width="4" />
<line x1="1869" y1="336.8" x2="2044" y2="291.9" stroke="#000" stroke-width="4" />
<rect x="1725.8" y="232.8" width="143.4" height="29.8" fill="#fff" stroke="#000" stroke-width="3.6"/>
<text x="1797.5" y="255.7" font-size="24.5" text-anchor="middle" fill="#000" stroke="#000" stroke-width="0.35" textLength="48.7" lengthAdjust="spacingAndGlyphs" >2019</text>
<rect x="1725.8" y="276.9" width="143.4" height="29.8" fill="#fff" stroke="#000" stroke-width="3.6"/>
<text x="1797.5" y="299.8" font-size="24.5" text-anchor="middle" fill="#000" stroke="#000" stroke-width="0.35" textLength="48.7" lengthAdjust="spacingAndGlyphs" >2020</text>
<rect x="1725.8" y="321.9" width="143.4" height="29.8" fill="#fff" stroke="#000" stroke-width="3.6"/>
<text x="1797.5" y="344.8" font-size="24.5" text-anchor="middle" fill="#000" stroke="#000" stroke-width="0.35" textLength="111" lengthAdjust="spacingAndGlyphs" >2019+2020</text>
<rect x="2043.9" y="277" width="107.2" height="29.8" fill="#fff" stroke="#000" stroke-width="3.6"/>
<text x="2097.5" y="299.9" font-size="24.5" text-anchor="middle" fill="#000" stroke="#000" stroke-width="0.35" textLength="48.7" lengthAdjust="spacingAndGlyphs" >2018</text>
<line x1="1869" y1="402.9" x2="2044" y2="448.1" stroke="#000" stroke-width="4" />
<line x1="1869" y1="448.1" x2="2044" y2="448.1" stroke="#000" stroke-width="4" />
<line x1="1869" y1="493" x2="2044" y2="448.1" stroke="#000" stroke-width="4" />
<rect x="1725.8" y="388" width="143.4" height="29.8" fill="#fff" stroke="#000" stroke-width="3.6"/>
<text x="1797.5" y="410.9" font-size="24.5" text-anchor="middle" fill="#000" stroke="#000" stroke-width="0.35" textLength="48.7" lengthAdjust="spacingAndGlyphs" >2018</text>
<rect x="1725.8" y="433.2" width="143.4" height="29.8" fill="#fff" stroke="#000" stroke-width="3.6"/>
<text x="1797.5" y="456.1" font-size="24.5" text-anchor="middle" fill="#000" stroke="#000" stroke-width="0.35" textLength="48.7" lengthAdjust="spacingAndGlyphs" >2020</text>
<rect x="1725.8" y="478.1" width="143.4" height="29.8" fill="#fff" stroke="#000" stroke-width="3.6"/>
<text x="1797.5" y="501" font-size="24.5" text-anchor="middle" fill="#000" stroke="#000" stroke-width="0.35" textLength="111" lengthAdjust="spacingAndGlyphs" >2018+2020</text>
<rect x="2043.9" y="433.2" width="107.2" height="29.8" fill="#fff" stroke="#000" stroke-width="3.6"/>
<text x="2097.5" y="456.1" font-size="24.5" text-anchor="middle" fill="#000" stroke="#000" stroke-width="0.35" textLength="48.7" lengthAdjust="spacingAndGlyphs" >2019</text>
<line x1="1869" y1="557.9" x2="2044" y2="601.9" stroke="#000" stroke-width="4" />
<line x1="1869" y1="601.9" x2="2044" y2="601.9" stroke="#000" stroke-width="4" />
<line x1="1869" y1="648" x2="2044" y2="601.9" stroke="#000" stroke-width="4" />
<rect x="1725.8" y="543" width="143.4" height="29.8" fill="#fff" stroke="#000" stroke-width="3.6"/>
<text x="1797.5" y="565.9" font-size="24.5" text-anchor="middle" fill="#000" stroke="#000" stroke-width="0.35" textLength="48.7" lengthAdjust="spacingAndGlyphs" >2018</text>
<rect x="1725.8" y="587" width="143.4" height="29.8" fill="#fff" stroke="#000" stroke-width="3.6"/>
<text x="1797.5" y="609.9" font-size="24.5" text-anchor="middle" fill="#000" stroke="#000" stroke-width="0.35" textLength="48.7" lengthAdjust="spacingAndGlyphs" >2019</text>
<rect x="1725.8" y="633.1" width="143.4" height="29.8" fill="#fff" stroke="#000" stroke-width="3.6"/>
<text x="1797.5" y="656" font-size="24.5" text-anchor="middle" fill="#000" stroke="#000" stroke-width="0.35" textLength="111" lengthAdjust="spacingAndGlyphs" >2018+2019</text>
<rect x="2043.9" y="587" width="107.2" height="29.8" fill="#fff" stroke="#000" stroke-width="3.6"/>
<text x="2097.5" y="609.9" font-size="24.5" text-anchor="middle" fill="#000" stroke="#000" stroke-width="0.35" textLength="48.7" lengthAdjust="spacingAndGlyphs" >2020</text>
<rect x="1773.5" y="685.7" width="399.4" height="48.3" fill="#ffff00" stroke="#000" stroke-width="2.2" />
<text x="1796.6" y="719" font-size="31" text-anchor="start" fill="#000" stroke="#000" stroke-width="0.35" textLength="353.4" lengthAdjust="spacingAndGlyphs" >Evaluation of error stability</text>
<rect x="1746.6" y="747.4" width="507.0999999999999" height="326.80000000000007" fill="none" stroke="#000" stroke-width="1.5"/>
<line x1="1740.6" y1="1074.2" x2="1746.6" y2="1074.2" stroke="#000" stroke-width="1.2" />
<text x="1734.1" y="1076.4" font-size="13.2" text-anchor="end" fill="#222" stroke="#222" stroke-width="0.2" textLength="16.6" lengthAdjust="spacingAndGlyphs" >0.0</text>
<line x1="1740.6" y1="1037.89" x2="1746.6" y2="1037.89" stroke="#000" stroke-width="1.2" />
<text x="1734.1" y="1040.09" font-size="13.2" text-anchor="end" fill="#222" stroke="#222" stroke-width="0.2" textLength="16.6" lengthAdjust="spacingAndGlyphs" >0.1</text>
<line x1="1740.6" y1="1001.58" x2="1746.6" y2="1001.58" stroke="#000" stroke-width="1.2" />
<text x="1734.1" y="1003.78" font-size="13.2" text-anchor="end" fill="#222" stroke="#222" stroke-width="0.2" textLength="16.6" lengthAdjust="spacingAndGlyphs" >0.2</text>
<line x1="1740.6" y1="965.27" x2="1746.6" y2="965.27" stroke="#000" stroke-width="1.2" />
<text x="1734.1" y="967.47" font-size="13.2" text-anchor="end" fill="#222" stroke="#222" stroke-width="0.2" textLength="16.6" lengthAdjust="spacingAndGlyphs" >0.3</text>
<line x1="1740.6" y1="928.96" x2="1746.6" y2="928.96" stroke="#000" stroke-width="1.2" />
<text x="1734.1" y="931.16" font-size="13.2" text-anchor="end" fill="#222" stroke="#222" stroke-width="0.2" textLength="16.6" lengthAdjust="spacingAndGlyphs" >0.4</text>
<line x1="1740.6" y1="892.64" x2="1746.6" y2="892.64" stroke="#000" stroke-width="1.2" />
<text x="1734.1" y="894.84" font-size="13.2" text-anchor="end" fill="#222" stroke="#222" stroke-width="0.2" textLength="16.6" lengthAdjust="spacingAndGlyphs" >0.5</text>
<line x1="1740.6" y1="856.33" x2="1746.6" y2="856.33" stroke="#000" stroke-width="1.2" />
<text x="1734.1" y="858.53" font-size="13.2" text-anchor="end" fill="#222" stroke="#222" stroke-width="0.2" textLength="16.6" lengthAdjust="spacingAndGlyphs" >0.6</text>
<line x1="1740.6" y1="820.02" x2="1746.6" y2="820.02" stroke="#000" stroke-width="1.2" />
<text x="1734.1" y="822.22" font-size="13.2" text-anchor="end" fill="#222" stroke="#222" stroke-width="0.2" textLength="16.6" lengthAdjust="spacingAndGlyphs" >0.7</text>
<line x1="1740.6" y1="783.71" x2="1746.6" y2="783.71" stroke="#000" stroke-width="1.2" />
<text x="1734.1" y="785.91" font-size="13.2" text-anchor="end" fill="#222" stroke="#222" stroke-width="0.2" textLength="16.6" lengthAdjust="spacingAndGlyphs" >0.8</text>
<line x1="1740.6" y1="747.4" x2="1746.6" y2="747.4" stroke="#000" stroke-width="1.2" />
<text x="1734.1" y="749.6" font-size="13.2" text-anchor="end" fill="#222" stroke="#222" stroke-width="0.2" textLength="16.6" lengthAdjust="spacingAndGlyphs" >0.9</text>
<line x1="1915.4" y1="747.4" x2="1915.4" y2="1069.7" stroke="#000" stroke-width="1.5" />
<line x1="2083.5" y1="747.4" x2="2083.5" y2="1069.7" stroke="#000" stroke-width="1.5" />
<line x1="1774" y1="1074.2" x2="1774" y2="1081.7" stroke="#000" stroke-width="1.2" />
<text x="1774" y="1094.5" font-size="13.5" text-anchor="middle" fill="#222" stroke="#222" stroke-width="0.2" textLength="27.6" lengthAdjust="spacingAndGlyphs" >2018</text>
<line x1="1830.4" y1="1074.2" x2="1830.4" y2="1081.7" stroke="#000" stroke-width="1.2" />
<text x="1830.4" y="1094.5" font-size="13.5" text-anchor="middle" fill="#222" stroke="#222" stroke-width="0.2" textLength="27.6" lengthAdjust="spacingAndGlyphs" >2019</text>
<line x1="1886.9" y1="1074.2" x2="1886.9" y2="1081.7" stroke="#000" stroke-width="1.2" />
<text x="1886.9" y="1094.5" font-size="13.5" text-anchor="middle" fill="#222" stroke="#222" stroke-width="0.2" textLength="27.6" lengthAdjust="spacingAndGlyphs" >2020</text>
<line x1="1943.1" y1="1074.2" x2="1943.1" y2="1081.7" stroke="#000" stroke-width="1.2" />
<text x="1943.1" y="1094.5" font-size="13.5" text-anchor="middle" fill="#222" stroke="#222" stroke-width="0.2" textLength="27.6" lengthAdjust="spacingAndGlyphs" >2018</text>
<line x1="2000.2" y1="1074.2" x2="2000.2" y2="1081.7" stroke="#000" stroke-width="1.2" />
<text x="2000.2" y="1094.5" font-size="13.5" text-anchor="middle" fill="#222" stroke="#222" stroke-width="0.2" textLength="27.6" lengthAdjust="spacingAndGlyphs" >2019</text>
<line x1="2056.5" y1="1074.2" x2="2056.5" y2="1081.7" stroke="#000" stroke-width="1.2" />
<text x="2056.5" y="1094.5" font-size="13.5" text-anchor="middle" fill="#222" stroke="#222" stroke-width="0.2" textLength="27.6" lengthAdjust="spacingAndGlyphs" >2020</text>
<line x1="2112.4" y1="1074.2" x2="2112.4" y2="1081.7" stroke="#000" stroke-width="1.2" />
<text x="2112.4" y="1094.5" font-size="13.5" text-anchor="middle" fill="#222" stroke="#222" stroke-width="0.2" textLength="27.6" lengthAdjust="spacingAndGlyphs" >2018</text>
<line x1="2169.4" y1="1074.2" x2="2169.4" y2="1081.7" stroke="#000" stroke-width="1.2" />
<text x="2169.4" y="1094.5" font-size="13.5" text-anchor="middle" fill="#222" stroke="#222" stroke-width="0.2" textLength="27.6" lengthAdjust="spacingAndGlyphs" >2019</text>
<line x1="2225.2" y1="1074.2" x2="2225.2" y2="1081.7" stroke="#000" stroke-width="1.2" />
<text x="2225.2" y="1094.5" font-size="13.5" text-anchor="middle" fill="#222" stroke="#222" stroke-width="0.2" textLength="27.6" lengthAdjust="spacingAndGlyphs" >2020</text>
<text x="1995.5" y="1117.8" font-size="15.5" text-anchor="middle" fill="#222" stroke="#222" stroke-width="0.2" textLength="41.5" lengthAdjust="spacingAndGlyphs" >Years</text>
<text transform="translate(1704.5,923.6) rotate(-90)" font-size="18" text-anchor="middle" fill="#222" textLength="365" lengthAdjust="spacingAndGlyphs">RMSE (%) in the prediction of rice protein content</text>
<defs><pattern id="hh" width="10" height="5.2" patternUnits="userSpaceOnUse"><line x1="0" y1="0.5" x2="10" y2="0.5" stroke="#000" stroke-width="1"/></pattern><pattern id="vv" width="5.2" height="10" patternUnits="userSpaceOnUse"><line x1="0.5" y1="0" x2="0.5" y2="10" stroke="#000" stroke-width="1"/></pattern></defs>
<rect x="1751.3" y="805.5" width="45.4" height="196.08" fill="#fff" stroke="#000" stroke-width="1.2"/>
<line x1="1751.3" y1="983.42" x2="1796.7" y2="983.42" stroke="#000" stroke-width="1.2" />
<rect x="1771.5" y="926.46" width="5" height="5" fill="#fff" stroke="#000" stroke-width="1"/>
<path d="M1771.5,803 L1776.5,808 M1771.5,808 L1776.5,803" stroke="#000" stroke-width="1"/>
<path d="M1771.5,999.08 L1776.5,1004.08 M1771.5,1004.08 L1776.5,999.08" stroke="#000" stroke-width="1"/>
<rect x="1807.7" y="954.37" width="45.4" height="72.62" fill="#fff" stroke="#000" stroke-width="1.2"/>
<line x1="1807.7" y1="1008.84" x2="1853.1" y2="1008.84" stroke="#000" stroke-width="1.2" />
<rect x="1827.9" y="993.63" width="5" height="5" fill="#fff" stroke="#000" stroke-width="1"/>
<path d="M1827.9,951.87 L1832.9,956.87 M1827.9,956.87 L1832.9,951.87" stroke="#000" stroke-width="1"/>
<path d="M1827.9,1024.5 L1832.9,1029.5 M1827.9,1029.5 L1832.9,1024.5" stroke="#000" stroke-width="1"/>
<rect x="1864.2" y="801.87" width="45.4" height="228.76" fill="#fff" stroke="#000" stroke-width="1.2"/>
<line x1="1864.2" y1="1008.84" x2="1909.6" y2="1008.84" stroke="#000" stroke-width="1.2" />
<rect x="1884.4" y="944.61" width="5" height="5" fill="#fff" stroke="#000" stroke-width="1"/>
<path d="M1884.4,799.37 L1889.4,804.37 M1884.4,804.37 L1889.4,799.37" stroke="#000" stroke-width="1"/>
<path d="M1884.4,1028.13 L1889.4,1033.13 M1884.4,1033.13 L1889.4,1028.13" stroke="#000" stroke-width="1"/>
<rect x="1920.4" y="1005.21" width="45.4" height="21.79" fill="url(#hh)" stroke="#000" stroke-width="1.2"/>
<line x1="1920.4" y1="1016.1" x2="1965.8" y2="1016.1" stroke="#000" stroke-width="1.2" />
<rect x="1940.6" y="1013.6" width="5" height="5" fill="#fff" stroke="#000" stroke-width="1"/>
<path d="M1940.6,1002.71 L1945.6,1007.71 M1940.6,1007.71 L1945.6,1002.71" stroke="#000" stroke-width="1"/>
<path d="M1940.6,1024.5 L1945.6,1029.5 M1940.6,1029.5 L1945.6,1024.5" stroke="#000" stroke-width="1"/>
<rect x="1977.5" y="958" width="45.4" height="61.73" fill="url(#hh)" stroke="#000" stroke-width="1.2"/>
<line x1="1977.5" y1="1016.1" x2="2022.9" y2="1016.1" stroke="#000" stroke-width="1.2" />
<rect x="1997.7" y="995.45" width="5" height="5" fill="#fff" stroke="#000" stroke-width="1"/>
<path d="M1997.7,955.5 L2002.7,960.5 M1997.7,960.5 L2002.7,955.5" stroke="#000" stroke-width="1"/>
<path d="M1997.7,1017.23 L2002.7,1022.23 M1997.7,1022.23 L2002.7,1017.23" stroke="#000" stroke-width="1"/>
<rect x="2033.8" y="976.16" width="45.4" height="50.84" fill="url(#hh)" stroke="#000" stroke-width="1.2"/>
<line x1="2033.8" y1="1008.84" x2="2079.2" y2="1008.84" stroke="#000" stroke-width="1.2" />
<rect x="2054" y="1006.34" width="5" height="5" fill="#fff" stroke="#000" stroke-width="1"/>
<path d="M2054,973.66 L2059,978.66 M2054,978.66 L2059,973.66" stroke="#000" stroke-width="1"/>
<path d="M2054,1024.5 L2059,1029.5 M2054,1029.5 L2059,1024.5" stroke="#000" stroke-width="1"/>
<rect x="2089.7" y="983.42" width="45.4" height="32.68" fill="url(#vv)" stroke="#000" stroke-width="1.2"/>
<line x1="2089.7" y1="1005.21" x2="2135.1" y2="1005.21" stroke="#000" stroke-width="1.2" />
<rect x="2109.9" y="999.08" width="5" height="5" fill="#fff" stroke="#000" stroke-width="1"/>
<path d="M2109.9,980.92 L2114.9,985.92 M2109.9,985.92 L2114.9,980.92" stroke="#000" stroke-width="1"/>
<path d="M2109.9,1013.6 L2114.9,1018.6 M2109.9,1018.6 L2114.9,1013.6" stroke="#000" stroke-width="1"/>
<rect x="2146.7" y="1008.84" width="45.4" height="14.52" fill="url(#vv)" stroke="#000" stroke-width="1.2"/>
<line x1="2146.7" y1="1019.73" x2="2192.1" y2="1019.73" stroke="#000" stroke-width="1.2" />
<rect x="2166.9" y="1015.42" width="5" height="5" fill="#fff" stroke="#000" stroke-width="1"/>
<path d="M2166.9,1006.34 L2171.9,1011.34 M2166.9,1011.34 L2171.9,1006.34" stroke="#000" stroke-width="1"/>
<path d="M2166.9,1020.86 L2171.9,1025.86 M2166.9,1025.86 L2171.9,1020.86" stroke="#000" stroke-width="1"/>
<rect x="2202.5" y="972.53" width="45.4" height="25.42" fill="url(#vv)" stroke="#000" stroke-width="1.2"/>
<line x1="2202.5" y1="979.79" x2="2247.9" y2="979.79" stroke="#000" stroke-width="1.2" />
<rect x="2222.7" y="980.92" width="5" height="5" fill="#fff" stroke="#000" stroke-width="1"/>
<path d="M2222.7,970.03 L2227.7,975.03 M2222.7,975.03 L2227.7,970.03" stroke="#000" stroke-width="1"/>
<path d="M2222.7,995.45 L2227.7,1000.45 M2222.7,1000.45 L2227.7,995.45" stroke="#000" stroke-width="1"/>
<rect x="1749.5" y="752.8" width="160" height="43.2" fill="#00b050" stroke="#000" stroke-width="2.2" />
<text x="1799.9" y="781.6" font-size="25" text-anchor="start" fill="#000" stroke="#000" stroke-width="0.35" textLength="59.8" lengthAdjust="spacingAndGlyphs" >PLSR</text>
<rect x="1918.6" y="753.7" width="159.9" height="42.8" fill="#00b050" stroke="#000" stroke-width="2.2" />
<text x="1981.9" y="782.9" font-size="25" text-anchor="start" fill="#000" stroke="#000" stroke-width="0.35" textLength="33" lengthAdjust="spacingAndGlyphs" >RR</text>
<rect x="2085.4" y="752.1" width="161.5" height="45.4" fill="#00b050" stroke="#000" stroke-width="2.2" />
<text x="2136.4" y="783" font-size="25" text-anchor="start" fill="#000" stroke="#000" stroke-width="0.35" textLength="59.3" lengthAdjust="spacingAndGlyphs" >ANN</text>
<rect x="2083.55" y="809.35" width="169.9" height="74.7" fill="#7030a0" stroke="#e00000" stroke-width="2.5"/>
<text x="2104.1" y="839.4" font-size="24" text-anchor="start" fill="#fff4ff" stroke="#fff4ff" stroke-width="0.35" textLength="129" lengthAdjust="spacingAndGlyphs" >The highest</text>
<text x="2119.7" y="869.7" font-size="24" text-anchor="start" fill="#fff4ff" stroke="#fff4ff" stroke-width="0.35" textLength="96" lengthAdjust="spacingAndGlyphs" >Stability!</text>
</svg></body></html>
